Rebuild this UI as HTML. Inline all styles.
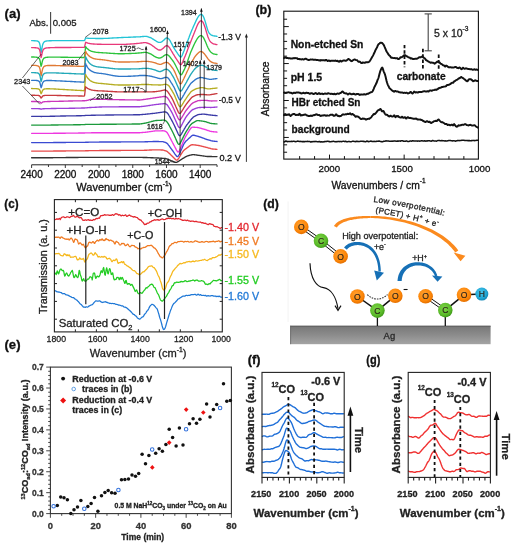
<!DOCTYPE html>
<html><head><meta charset="utf-8"><title>Figure</title>
<style>html,body{margin:0;padding:0;background:#fff;}svg{display:block;filter:blur(0.3px);}</style>
</head><body>
<svg width="516" height="550" viewBox="0 0 516 550" font-family="'Liberation Sans', Arial, sans-serif">
<defs><radialGradient id="gO" cx="0.42" cy="0.38" r="0.62"><stop offset="0" stop-color="#ffa236"/><stop offset="0.7" stop-color="#fd8708"/><stop offset="1" stop-color="#e46f00"/></radialGradient><radialGradient id="gC" cx="0.42" cy="0.38" r="0.62"><stop offset="0" stop-color="#7ed448"/><stop offset="0.7" stop-color="#5cbc2a"/><stop offset="1" stop-color="#3f9a18"/></radialGradient><radialGradient id="gH" cx="0.42" cy="0.38" r="0.62"><stop offset="0" stop-color="#4cc8ee"/><stop offset="0.7" stop-color="#22a8d6"/><stop offset="1" stop-color="#1186b6"/></radialGradient><linearGradient id="gAg" x1="0" y1="0" x2="0" y2="1"><stop offset="0" stop-color="#767676"/><stop offset="0.5" stop-color="#8c8c8c"/><stop offset="1" stop-color="#a4a4a4"/></linearGradient><path id="tp1" d="M373.2,201.9 Q412.5,207.4 446.5,216.6"/><path id="tp2" d="M375.2,212.6 Q410,217.8 442,228.5"/></defs>
<rect x="0" y="0" width="516" height="550" fill="#fff"/>
<polyline points="31.6,40.6 32.1,40.6 32.6,40.6 33.1,40.6 33.6,40.7 34.1,40.7 34.6,40.7 35.1,40.7 35.6,40.8 36.1,40.8 36.6,40.9 37.1,41.0 37.6,41.2 38.1,41.4 38.6,41.7 39.1,42.3 39.6,43.4 40.1,45.5 40.6,49.4 41.1,52.5 41.6,50.6 42.1,47.3 42.6,44.9 43.1,43.5 43.6,42.6 44.1,42.0 44.6,41.7 45.1,41.4 45.6,41.2 46.1,41.1 46.6,41.0 47.1,40.9 47.6,40.9 48.1,40.8 48.6,40.8 49.1,40.7 49.6,40.7 50.1,40.7 50.6,40.7 51.1,40.7 51.6,40.7 52.1,40.6 52.6,40.6 53.1,40.6 53.6,40.6 54.1,40.6 54.6,40.6 55.1,40.6 55.6,40.6 56.1,40.6 56.6,40.6 57.1,40.6 57.6,40.6 58.1,40.6 58.6,40.6 59.1,40.6 59.6,40.6 60.1,40.6 60.6,40.6 61.1,40.6 61.6,40.6 62.1,40.6 62.6,40.6 63.1,40.6 63.6,40.6 64.1,40.6 64.6,40.6 65.1,40.6 65.6,40.6 66.1,40.6 66.6,40.6 67.1,40.6 67.6,40.6 68.1,40.6 68.6,40.6 69.1,40.6 69.6,40.6 70.1,40.6 70.6,40.6 71.1,40.6 71.6,40.6 72.1,40.6 72.6,40.6 73.1,40.6 73.6,40.6 74.1,40.6 74.6,40.6 75.1,40.6 75.6,40.6 76.1,40.6 76.6,40.6 77.1,40.6 77.6,40.6 78.1,40.6 78.6,40.6 79.1,40.6 79.6,40.6 80.1,40.6 80.6,40.6 81.1,40.6 81.6,40.6 82.1,40.6 82.6,40.6 83.1,40.6 83.6,40.6 84.1,40.6 84.6,40.4 85.1,39.2 85.6,38.0 86.1,38.1 86.6,38.1 87.1,38.1 87.6,38.2 88.1,38.2 88.6,38.3 89.1,38.3 89.6,38.3 90.1,38.3 90.6,38.3 91.1,38.4 91.6,38.4 92.1,38.4 92.6,38.4 93.1,38.4 93.6,38.4 94.1,38.4 94.6,38.4 95.1,38.4 95.6,38.5 96.1,38.5 96.6,38.5 97.1,38.5 97.6,38.5 98.1,38.5 98.6,38.5 99.1,38.5 99.6,38.5 100.1,38.5 100.6,38.5 101.1,38.5 101.6,38.5 102.1,38.5 102.6,38.5 103.1,38.5 103.6,38.4 104.1,38.4 104.6,38.4 105.1,38.4 105.6,38.4 106.1,38.4 106.6,38.3 107.1,38.3 107.6,38.3 108.1,38.3 108.6,38.2 109.1,38.2 109.6,38.2 110.1,38.1 110.6,38.1 111.1,38.1 111.6,38.1 112.1,38.0 112.6,38.0 113.1,38.0 113.6,37.9 114.1,37.9 114.6,37.9 115.1,37.9 115.6,37.8 116.1,37.8 116.6,37.8 117.1,37.7 117.6,37.7 118.1,37.7 118.6,37.7 119.1,37.6 119.6,37.6 120.1,37.6 120.6,37.6 121.1,37.6 121.6,37.5 122.1,37.5 122.6,37.5 123.1,37.5 123.6,37.4 124.1,37.4 124.6,37.4 125.1,37.4 125.6,37.4 126.1,37.3 126.6,37.3 127.1,37.3 127.6,37.3 128.1,37.3 128.6,37.2 129.1,37.2 129.6,37.2 130.1,37.2 130.6,37.2 131.1,37.1 131.6,37.1 132.1,37.1 132.6,37.1 133.1,37.1 133.6,37.0 134.1,37.0 134.6,37.0 135.1,37.0 135.6,37.0 136.1,36.9 136.6,36.9 137.1,36.9 137.6,36.9 138.1,36.9 138.6,36.9 139.1,36.8 139.6,36.8 140.0,36.8 140.5,36.7 141.0,36.7 141.5,36.6 142.0,36.6 142.5,36.5 143.0,36.5 143.5,36.5 144.0,36.4 144.5,36.4 145.0,36.3 145.5,36.3 146.0,36.4 146.5,36.4 147.0,36.5 147.5,36.7 148.0,36.8 148.5,37.0 149.0,37.2 149.5,37.3 150.0,37.5 150.5,37.7 151.0,37.9 151.5,38.2 152.0,38.5 152.5,38.8 153.0,39.1 153.5,39.4 154.0,39.7 154.5,40.1 155.0,40.4 155.5,40.7 156.0,41.0 156.5,41.3 157.0,41.6 157.5,41.9 158.0,42.1 158.5,42.3 159.0,42.4 159.5,42.4 160.0,42.4 160.5,42.3 161.0,42.2 161.5,41.9 162.0,41.6 162.5,41.2 163.0,40.8 163.5,40.4 164.0,39.9 164.5,39.4 165.0,38.9 165.5,38.5 166.0,38.2 166.5,38.0 167.0,38.0 167.5,38.1 168.0,38.3 168.5,38.7 169.0,39.2 169.5,39.9 170.0,40.6 170.5,41.5 171.0,42.5 171.5,43.4 172.0,44.4 172.5,45.4 173.0,46.3 173.5,47.2 174.0,48.1 174.5,48.9 175.0,49.7 175.5,50.5 176.0,51.2 176.5,51.9 177.0,52.6 177.5,53.3 178.0,54.1 178.5,54.8 179.0,55.5 179.5,56.2 180.0,56.7 180.5,57.0 181.0,57.0 181.5,56.5 182.0,55.6 182.5,54.5 183.0,53.2 183.5,51.9 184.0,50.7 184.5,49.4 185.0,48.1 185.5,46.8 186.0,45.5 186.5,44.1 187.0,42.8 187.5,41.4 188.0,40.1 188.5,38.7 189.0,37.4 189.5,36.0 190.0,34.7 190.5,33.4 191.0,32.2 191.5,31.0 192.0,29.8 192.5,28.7 193.0,27.5 193.5,26.4 194.0,25.3 194.5,24.2 195.0,23.1 195.5,22.0 196.0,20.9 196.5,19.9 197.0,18.9 197.5,18.0 198.0,17.1 198.5,16.4 199.0,15.7 199.5,15.2 200.0,14.8 200.5,14.5 201.0,14.4 201.5,14.4 202.0,14.7 202.5,15.2 203.0,15.9 203.5,16.8 204.0,18.0 204.5,19.4 205.0,20.9 205.5,22.5 206.0,24.2 206.5,26.0 207.0,27.7 207.5,29.3 208.0,30.7 208.5,31.8 209.0,32.8 209.5,33.5 210.0,34.0 210.5,34.5 211.0,34.8 211.5,35.1 212.0,35.3 212.5,35.5 213.0,35.7 213.5,35.8 214.0,35.9 214.5,36.0 215.0,36.0 215.5,36.1 216.0,36.2 216.5,36.2 217.0,36.3" fill="none" stroke="#22c4d6" stroke-width="1.35" stroke-linejoin="round" stroke-linecap="round"/>
<polyline points="31.6,47.6 32.1,47.6 32.6,47.6 33.1,47.6 33.6,47.6 34.1,47.6 34.6,47.7 35.1,47.7 35.6,47.7 36.1,47.8 36.6,47.8 37.1,47.9 37.6,48.1 38.1,48.2 38.6,48.5 39.1,49.0 39.6,49.9 40.1,51.7 40.6,54.9 41.1,57.5 41.6,55.9 42.1,53.2 42.6,51.2 43.1,50.0 43.6,49.2 44.1,48.8 44.6,48.5 45.1,48.3 45.6,48.1 46.1,48.0 46.6,47.9 47.1,47.9 47.6,47.8 48.1,47.8 48.6,47.7 49.1,47.7 49.6,47.7 50.1,47.7 50.6,47.6 51.1,47.6 51.6,47.6 52.1,47.6 52.6,47.6 53.1,47.6 53.6,47.6 54.1,47.6 54.6,47.6 55.1,47.5 55.6,47.5 56.1,47.5 56.6,47.5 57.1,47.5 57.6,47.5 58.1,47.5 58.6,47.5 59.1,47.5 59.6,47.5 60.1,47.5 60.6,47.5 61.1,47.5 61.6,47.5 62.1,47.5 62.6,47.5 63.1,47.5 63.6,47.5 64.1,47.5 64.6,47.5 65.1,47.5 65.6,47.5 66.1,47.5 66.6,47.5 67.1,47.5 67.6,47.5 68.1,47.5 68.6,47.5 69.1,47.5 69.6,47.5 70.1,47.5 70.6,47.5 71.1,47.5 71.6,47.4 72.1,47.4 72.6,47.4 73.1,47.4 73.6,47.4 74.1,47.4 74.6,47.4 75.1,47.4 75.6,47.4 76.1,47.4 76.6,47.4 77.1,47.4 77.6,47.4 78.1,47.4 78.6,47.4 79.1,47.4 79.6,47.4 80.1,47.4 80.6,47.4 81.1,47.4 81.6,47.4 82.1,47.4 82.6,47.4 83.1,47.4 83.6,47.4 84.1,47.4 84.6,46.9 85.1,44.6 85.6,42.3 86.1,42.5 86.6,42.7 87.1,42.9 87.6,43.0 88.1,43.2 88.6,43.3 89.1,43.4 89.6,43.5 90.1,43.6 90.6,43.7 91.1,43.7 91.6,43.8 92.1,43.9 92.6,43.9 93.1,44.0 93.6,44.0 94.1,44.0 94.6,44.1 95.1,44.1 95.6,44.1 96.1,44.1 96.6,44.1 97.1,44.2 97.6,44.2 98.1,44.2 98.6,44.2 99.1,44.2 99.6,44.2 100.1,44.2 100.6,44.2 101.1,44.2 101.6,44.3 102.1,44.3 102.6,44.3 103.1,44.3 103.6,44.3 104.1,44.3 104.6,44.3 105.1,44.3 105.6,44.3 106.1,44.3 106.6,44.3 107.1,44.3 107.6,44.3 108.1,44.3 108.6,44.3 109.1,44.3 109.6,44.3 110.1,44.3 110.6,44.3 111.1,44.4 111.6,44.4 112.1,44.4 112.6,44.4 113.1,44.4 113.6,44.4 114.1,44.4 114.6,44.4 115.1,44.4 115.6,44.4 116.1,44.4 116.6,44.4 117.1,44.4 117.6,44.4 118.1,44.4 118.6,44.4 119.1,44.4 119.6,44.4 120.1,44.4 120.6,44.4 121.1,44.4 121.6,44.4 122.1,44.4 122.6,44.4 123.1,44.4 123.6,44.3 124.1,44.3 124.6,44.3 125.1,44.3 125.6,44.3 126.1,44.3 126.6,44.2 127.1,44.2 127.6,44.2 128.1,44.1 128.6,44.1 129.1,44.1 129.6,44.1 130.1,44.0 130.6,44.0 131.1,44.0 131.6,43.9 132.1,43.9 132.6,43.8 133.1,43.8 133.6,43.8 134.1,43.7 134.6,43.7 135.1,43.6 135.6,43.6 136.1,43.6 136.6,43.5 137.1,43.5 137.6,43.4 138.1,43.4 138.6,43.3 139.1,43.3 139.6,43.2 140.0,43.1 140.5,43.1 141.0,43.0 141.5,43.0 142.0,42.9 142.5,42.8 143.0,42.8 143.5,42.7 144.0,42.6 144.5,42.6 145.0,42.6 145.5,42.6 146.0,42.7 146.5,42.8 147.0,43.0 147.5,43.2 148.0,43.4 148.5,43.5 149.0,43.7 149.5,43.9 150.0,44.1 150.5,44.4 151.0,44.6 151.5,45.0 152.0,45.3 152.5,45.7 153.0,46.1 153.5,46.4 154.0,46.8 154.5,47.2 155.0,47.6 155.5,48.0 156.0,48.3 156.5,48.7 157.0,49.0 157.5,49.3 158.0,49.6 158.5,49.8 159.0,50.0 159.5,50.0 160.0,50.0 160.5,50.0 161.0,49.8 161.5,49.5 162.0,49.2 162.5,48.8 163.0,48.4 163.5,47.9 164.0,47.4 164.5,46.9 165.0,46.5 165.5,46.1 166.0,45.8 166.5,45.7 167.0,45.7 167.5,45.8 168.0,46.1 168.5,46.5 169.0,47.1 169.5,47.7 170.0,48.5 170.5,49.3 171.0,50.1 171.5,51.0 172.0,51.8 172.5,52.7 173.0,53.6 173.5,54.4 174.0,55.2 174.5,56.0 175.0,56.8 175.5,57.6 176.0,58.4 176.5,59.1 177.0,59.9 177.5,60.6 178.0,61.4 178.5,62.2 179.0,62.9 179.5,63.6 180.0,64.2 180.5,64.6 181.0,64.6 181.5,64.2 182.0,63.4 182.5,62.3 183.0,61.2 183.5,60.0 184.0,58.8 184.5,57.6 185.0,56.4 185.5,55.2 186.0,53.9 186.5,52.7 187.0,51.4 187.5,50.1 188.0,48.8 188.5,47.5 189.0,46.2 189.5,44.9 190.0,43.6 190.5,42.3 191.0,41.0 191.5,39.8 192.0,38.5 192.5,37.3 193.0,36.0 193.5,34.8 194.0,33.5 194.5,32.3 195.0,31.0 195.5,29.8 196.0,28.5 196.5,27.3 197.0,26.1 197.5,24.9 198.0,23.9 198.5,23.0 199.0,22.3 199.5,21.7 200.0,21.2 200.5,20.9 201.0,20.8 201.5,20.9 202.0,21.2 202.5,21.7 203.0,22.4 203.5,23.4 204.0,24.6 204.5,25.9 205.0,27.3 205.5,28.9 206.0,30.5 206.5,32.2 207.0,33.9 207.5,35.5 208.0,37.0 208.5,38.2 209.0,39.3 209.5,40.3 210.0,41.1 210.5,41.7 211.0,42.2 211.5,42.6 212.0,43.0 212.5,43.3 213.0,43.6 213.5,43.8 214.0,44.0 214.5,44.1 215.0,44.2 215.5,44.4 216.0,44.5 216.5,44.6 217.0,44.6" fill="none" stroke="#e8397a" stroke-width="1.35" stroke-linejoin="round" stroke-linecap="round"/>
<polyline points="31.6,57.0 32.1,57.0 32.6,57.0 33.1,57.0 33.6,57.0 34.1,57.0 34.6,57.1 35.1,57.1 35.6,57.1 36.1,57.2 36.6,57.2 37.1,57.3 37.6,57.4 38.1,57.6 38.6,57.9 39.1,58.4 39.6,59.2 40.1,60.9 40.6,64.0 41.1,66.4 41.6,64.9 42.1,62.3 42.6,60.4 43.1,59.3 43.6,58.6 44.1,58.1 44.6,57.8 45.1,57.6 45.6,57.5 46.1,57.4 46.6,57.3 47.1,57.2 47.6,57.2 48.1,57.2 48.6,57.1 49.1,57.1 49.6,57.1 50.1,57.1 50.6,57.1 51.1,57.1 51.6,57.1 52.1,57.1 52.6,57.1 53.1,57.1 53.6,57.1 54.1,57.1 54.6,57.1 55.1,57.1 55.6,57.1 56.1,57.1 56.6,57.1 57.1,57.1 57.6,57.1 58.1,57.1 58.6,57.1 59.1,57.1 59.6,57.1 60.1,57.1 60.6,57.2 61.1,57.2 61.6,57.2 62.1,57.2 62.6,57.2 63.1,57.2 63.6,57.2 64.1,57.2 64.6,57.2 65.1,57.2 65.6,57.2 66.1,57.2 66.6,57.2 67.1,57.2 67.6,57.2 68.1,57.3 68.6,57.3 69.1,57.3 69.6,57.3 70.1,57.3 70.6,57.3 71.1,57.3 71.6,57.3 72.1,57.3 72.6,57.3 73.1,57.3 73.6,57.3 74.1,57.3 74.6,57.4 75.1,57.4 75.6,57.4 76.1,57.4 76.6,57.4 77.1,57.4 77.6,57.4 78.1,57.4 78.6,57.4 79.1,57.4 79.6,57.4 80.1,57.4 80.6,57.4 81.1,57.5 81.6,57.5 82.1,57.5 82.6,57.5 83.1,57.5 83.6,57.5 84.1,57.5 84.6,56.5 85.1,51.6 85.6,46.6 86.1,47.3 86.6,47.9 87.1,48.4 87.6,48.9 88.1,49.3 88.6,49.7 89.1,50.1 89.6,50.4 90.1,50.6 90.6,50.9 91.1,51.1 91.6,51.3 92.1,51.4 92.6,51.6 93.1,51.7 93.6,51.8 94.1,51.9 94.6,52.0 95.1,52.1 95.6,52.2 96.1,52.3 96.6,52.3 97.1,52.4 97.6,52.4 98.1,52.5 98.6,52.5 99.1,52.5 99.6,52.6 100.1,52.6 100.6,52.6 101.1,52.6 101.6,52.7 102.1,52.7 102.6,52.7 103.1,52.8 103.6,52.8 104.1,52.8 104.6,52.8 105.1,52.9 105.6,52.9 106.1,52.9 106.6,53.0 107.1,53.0 107.6,53.1 108.1,53.1 108.6,53.1 109.1,53.2 109.6,53.2 110.1,53.2 110.6,53.3 111.1,53.3 111.6,53.3 112.1,53.4 112.6,53.4 113.1,53.4 113.6,53.5 114.1,53.5 114.6,53.5 115.1,53.6 115.6,53.6 116.1,53.6 116.6,53.6 117.1,53.6 117.6,53.7 118.1,53.7 118.6,53.7 119.1,53.7 119.6,53.7 120.1,53.7 120.6,53.7 121.1,53.7 121.6,53.7 122.1,53.7 122.6,53.7 123.1,53.7 123.6,53.7 124.1,53.7 124.6,53.7 125.1,53.6 125.6,53.6 126.1,53.6 126.6,53.6 127.1,53.6 127.6,53.6 128.1,53.6 128.6,53.6 129.1,53.5 129.6,53.5 130.1,53.5 130.6,53.5 131.1,53.5 131.6,53.4 132.1,53.4 132.6,53.4 133.1,53.4 133.6,53.3 134.1,53.3 134.6,53.3 135.1,53.3 135.6,53.2 136.1,53.2 136.6,53.2 137.1,53.1 137.6,53.1 138.1,53.0 138.6,53.0 139.1,53.0 139.6,52.9 140.0,52.9 140.5,52.8 141.0,52.8 141.5,52.7 142.0,52.7 142.5,52.6 143.0,52.6 143.5,52.5 144.0,52.4 144.5,52.4 145.0,52.3 145.5,52.3 146.0,52.4 146.5,52.5 147.0,52.6 147.5,52.7 148.0,52.9 148.5,53.1 149.0,53.3 149.5,53.5 150.0,53.7 150.5,53.9 151.0,54.1 151.5,54.4 152.0,54.7 152.5,55.1 153.0,55.4 153.5,55.7 154.0,56.1 154.5,56.4 155.0,56.7 155.5,57.0 156.0,57.2 156.5,57.4 157.0,57.6 157.5,57.7 158.0,57.9 158.5,58.0 159.0,58.0 159.5,58.1 160.0,58.0 160.5,57.9 161.0,57.7 161.5,57.5 162.0,57.2 162.5,56.8 163.0,56.5 163.5,56.1 164.0,55.7 164.5,55.4 165.0,55.1 165.5,54.9 166.0,54.7 166.5,54.6 167.0,54.7 167.5,54.8 168.0,55.1 168.5,55.5 169.0,55.9 169.5,56.5 170.0,57.0 170.5,57.7 171.0,58.3 171.5,59.0 172.0,59.6 172.5,60.3 173.0,61.0 173.5,61.7 174.0,62.5 174.5,63.4 175.0,64.3 175.5,65.3 176.0,66.3 176.5,67.3 177.0,68.3 177.5,69.3 178.0,70.3 178.5,71.3 179.0,72.3 179.5,73.2 180.0,74.1 180.5,74.6 181.0,74.8 181.5,74.6 182.0,74.0 182.5,73.1 183.0,72.2 183.5,71.1 184.0,70.1 184.5,69.1 185.0,68.0 185.5,66.9 186.0,65.7 186.5,64.4 187.0,63.0 187.5,61.5 188.0,60.0 188.5,58.6 189.0,57.1 189.5,55.6 190.0,54.2 190.5,52.8 191.0,51.6 191.5,50.4 192.0,49.2 192.5,48.1 193.0,47.0 193.5,45.9 194.0,44.8 194.5,43.7 195.0,42.7 195.5,41.8 196.0,40.9 196.5,40.0 197.0,39.2 197.5,38.4 198.0,37.7 198.5,37.1 199.0,36.6 199.5,36.2 200.0,35.8 200.5,35.6 201.0,35.6 201.5,35.7 202.0,35.9 202.5,36.4 203.0,36.9 203.5,37.7 204.0,38.6 204.5,39.6 205.0,40.7 205.5,41.8 206.0,43.0 206.5,44.2 207.0,45.5 207.5,46.6 208.0,47.7 208.5,48.7 209.0,49.6 209.5,50.5 210.0,51.1 210.5,51.7 211.0,52.2 211.5,52.6 212.0,53.0 212.5,53.3 213.0,53.6 213.5,53.8 214.0,54.0 214.5,54.1 215.0,54.2 215.5,54.3 216.0,54.4 216.5,54.5 217.0,54.5" fill="none" stroke="#2cc43c" stroke-width="1.35" stroke-linejoin="round" stroke-linecap="round"/>
<polyline points="31.6,65.3 32.1,65.3 32.6,65.3 33.1,65.3 33.6,65.3 34.1,65.4 34.6,65.4 35.1,65.4 35.6,65.4 36.1,65.5 36.6,65.6 37.1,65.7 37.6,65.8 38.1,66.0 38.6,66.3 39.1,66.8 39.6,67.8 40.1,69.6 40.6,73.0 41.1,75.7 41.6,74.0 42.1,71.2 42.6,69.1 43.1,67.8 43.6,67.0 44.1,66.5 44.6,66.2 45.1,66.0 45.6,65.8 46.1,65.7 46.6,65.6 47.1,65.6 47.6,65.5 48.1,65.5 48.6,65.5 49.1,65.5 49.6,65.5 50.1,65.5 50.6,65.5 51.1,65.5 51.6,65.5 52.1,65.5 52.6,65.5 53.1,65.5 53.6,65.5 54.1,65.5 54.6,65.5 55.1,65.5 55.6,65.5 56.1,65.6 56.6,65.6 57.1,65.6 57.6,65.6 58.1,65.6 58.6,65.6 59.1,65.6 59.6,65.6 60.1,65.7 60.6,65.7 61.1,65.7 61.6,65.7 62.1,65.7 62.6,65.7 63.1,65.7 63.6,65.8 64.1,65.8 64.6,65.8 65.1,65.8 65.6,65.8 66.1,65.8 66.6,65.8 67.1,65.9 67.6,65.9 68.1,65.9 68.6,65.9 69.1,65.9 69.6,65.9 70.1,66.0 70.6,66.0 71.1,66.0 71.6,66.0 72.1,66.0 72.6,66.0 73.1,66.0 73.6,66.1 74.1,66.1 74.6,66.1 75.1,66.1 75.6,66.1 76.1,66.1 76.6,66.2 77.1,66.2 77.6,66.2 78.1,66.2 78.6,66.2 79.1,66.2 79.6,66.3 80.1,66.3 80.6,66.3 81.1,66.3 81.6,66.3 82.1,66.3 82.6,66.3 83.1,66.4 83.6,66.4 84.1,66.4 84.6,65.0 85.1,58.2 85.6,51.3 86.1,52.2 86.6,53.1 87.1,53.8 87.6,54.5 88.1,55.0 88.6,55.6 89.1,56.0 89.6,56.4 90.1,56.8 90.6,57.1 91.1,57.4 91.6,57.7 92.1,57.9 92.6,58.1 93.1,58.3 93.6,58.5 94.1,58.6 94.6,58.8 95.1,58.9 95.6,59.0 96.1,59.1 96.6,59.1 97.1,59.2 97.6,59.3 98.1,59.3 98.6,59.4 99.1,59.4 99.6,59.5 100.1,59.5 100.6,59.5 101.1,59.6 101.6,59.6 102.1,59.7 102.6,59.7 103.1,59.8 103.6,59.9 104.1,59.9 104.6,60.0 105.1,60.1 105.6,60.1 106.1,60.2 106.6,60.3 107.1,60.4 107.6,60.5 108.1,60.5 108.6,60.6 109.1,60.7 109.6,60.8 110.1,60.9 110.6,61.0 111.1,61.1 111.6,61.1 112.1,61.2 112.6,61.3 113.1,61.4 113.6,61.5 114.1,61.5 114.6,61.6 115.1,61.7 115.6,61.7 116.1,61.8 116.6,61.8 117.1,61.9 117.6,61.9 118.1,61.9 118.6,62.0 119.1,62.0 119.6,62.0 120.1,62.0 120.6,62.0 121.1,62.0 121.6,62.0 122.1,62.0 122.6,62.0 123.1,62.0 123.6,62.0 124.1,62.0 124.6,62.0 125.1,62.0 125.6,62.0 126.1,62.0 126.6,62.0 127.1,62.0 127.6,62.0 128.1,62.0 128.6,62.0 129.1,62.0 129.6,62.0 130.1,61.9 130.6,61.9 131.1,61.9 131.6,61.9 132.1,61.9 132.6,61.9 133.1,61.9 133.6,61.9 134.1,61.9 134.6,61.8 135.1,61.8 135.6,61.8 136.1,61.8 136.6,61.8 137.1,61.7 137.6,61.7 138.1,61.7 138.6,61.7 139.1,61.7 139.6,61.6 140.0,61.6 140.5,61.6 141.0,61.5 141.5,61.5 142.0,61.5 142.5,61.4 143.0,61.4 143.5,61.4 144.0,61.3 144.5,61.3 145.0,61.3 145.5,61.3 146.0,61.3 146.5,61.3 147.0,61.3 147.5,61.4 148.0,61.4 148.5,61.5 149.0,61.6 149.5,61.6 150.0,61.7 150.5,61.8 151.0,61.8 151.5,61.9 152.0,62.1 152.5,62.2 153.0,62.3 153.5,62.4 154.0,62.6 154.5,62.7 155.0,62.9 155.5,63.0 156.0,63.2 156.5,63.4 157.0,63.6 157.5,63.8 158.0,63.9 158.5,64.1 159.0,64.2 159.5,64.3 160.0,64.4 160.5,64.4 161.0,64.3 161.5,64.1 162.0,63.9 162.5,63.7 163.0,63.5 163.5,63.2 164.0,63.0 164.5,62.8 165.0,62.6 165.5,62.4 166.0,62.3 166.5,62.3 167.0,62.4 167.5,62.6 168.0,62.9 168.5,63.2 169.0,63.7 169.5,64.2 170.0,64.7 170.5,65.4 171.0,66.0 171.5,66.7 172.0,67.3 172.5,68.0 173.0,68.7 173.5,69.5 174.0,70.4 174.5,71.4 175.0,72.4 175.5,73.6 176.0,74.8 176.5,76.0 177.0,77.2 177.5,78.3 178.0,79.5 178.5,80.7 179.0,81.8 179.5,82.8 180.0,83.6 180.5,83.9 181.0,83.7 181.5,83.1 182.0,82.3 182.5,81.3 183.0,80.3 183.5,79.2 184.0,78.2 184.5,77.1 185.0,76.1 185.5,75.0 186.0,74.0 186.5,72.9 187.0,71.8 187.5,70.7 188.0,69.7 188.5,68.6 189.0,67.5 189.5,66.4 190.0,65.4 190.5,64.4 191.0,63.4 191.5,62.5 192.0,61.6 192.5,60.8 193.0,59.9 193.5,59.1 194.0,58.2 194.5,57.4 195.0,56.7 195.5,56.0 196.0,55.4 196.5,54.8 197.0,54.2 197.5,53.7 198.0,53.2 198.5,52.7 199.0,52.3 199.5,52.0 200.0,51.7 200.5,51.6 201.0,51.5 201.5,51.6 202.0,51.8 202.5,52.0 203.0,52.4 203.5,52.9 204.0,53.4 204.5,54.0 205.0,54.6 205.5,55.3 206.0,56.0 206.5,56.7 207.0,57.5 207.5,58.2 208.0,58.9 208.5,59.5 209.0,60.1 209.5,60.6 210.0,61.1 210.5,61.4 211.0,61.8 211.5,62.0 212.0,62.3 212.5,62.5 213.0,62.7 213.5,62.8 214.0,63.0 214.5,63.1 215.0,63.1 215.5,63.2 216.0,63.3 216.5,63.4 217.0,63.4" fill="none" stroke="#e07a34" stroke-width="1.35" stroke-linejoin="round" stroke-linecap="round"/>
<polyline points="31.6,72.6 32.1,72.6 32.6,72.6 33.1,72.6 33.6,72.6 34.1,72.6 34.6,72.7 35.1,72.7 35.6,72.7 36.1,72.8 36.6,72.8 37.1,72.9 37.6,73.0 38.1,73.2 38.6,73.4 39.1,73.9 39.6,74.7 40.1,76.3 40.6,79.2 41.1,81.5 41.6,80.1 42.1,77.6 42.6,75.8 43.1,74.7 43.6,74.1 44.1,73.7 44.6,73.4 45.1,73.2 45.6,73.1 46.1,73.0 46.6,72.9 47.1,72.8 47.6,72.8 48.1,72.8 48.6,72.8 49.1,72.8 49.6,72.8 50.1,72.8 50.6,72.8 51.1,72.8 51.6,72.8 52.1,72.8 52.6,72.8 53.1,72.8 53.6,72.9 54.1,72.9 54.6,72.9 55.1,72.9 55.6,72.9 56.1,72.9 56.6,73.0 57.1,73.0 57.6,73.0 58.1,73.0 58.6,73.0 59.1,73.1 59.6,73.1 60.1,73.1 60.6,73.1 61.1,73.1 61.6,73.2 62.1,73.2 62.6,73.2 63.1,73.2 63.6,73.2 64.1,73.3 64.6,73.3 65.1,73.3 65.6,73.3 66.1,73.3 66.6,73.4 67.1,73.4 67.6,73.4 68.1,73.4 68.6,73.4 69.1,73.5 69.6,73.5 70.1,73.5 70.6,73.5 71.1,73.5 71.6,73.6 72.1,73.6 72.6,73.6 73.1,73.6 73.6,73.6 74.1,73.7 74.6,73.7 75.1,73.7 75.6,73.7 76.1,73.8 76.6,73.8 77.1,73.8 77.6,73.8 78.1,73.8 78.6,73.9 79.1,73.9 79.6,73.9 80.1,73.9 80.6,73.9 81.1,74.0 81.6,74.0 82.1,74.0 82.6,74.0 83.1,74.0 83.6,74.1 84.1,74.1 84.6,72.5 85.1,64.6 85.6,56.7 86.1,57.9 86.6,58.9 87.1,59.9 87.6,60.7 88.1,61.5 88.6,62.1 89.1,62.7 89.6,63.2 90.1,63.7 90.6,64.1 91.1,64.5 91.6,64.8 92.1,65.1 92.6,65.4 93.1,65.6 93.6,65.8 94.1,66.0 94.6,66.2 95.1,66.3 95.6,66.4 96.1,66.6 96.6,66.7 97.1,66.8 97.6,66.8 98.1,66.9 98.6,67.0 99.1,67.0 99.6,67.1 100.1,67.1 100.6,67.2 101.1,67.2 101.6,67.3 102.1,67.3 102.6,67.4 103.1,67.4 103.6,67.5 104.1,67.5 104.6,67.6 105.1,67.6 105.6,67.7 106.1,67.7 106.6,67.8 107.1,67.9 107.6,67.9 108.1,68.0 108.6,68.0 109.1,68.1 109.6,68.2 110.1,68.2 110.6,68.3 111.1,68.3 111.6,68.4 112.1,68.5 112.6,68.5 113.1,68.6 113.6,68.6 114.1,68.7 114.6,68.7 115.1,68.8 115.6,68.8 116.1,68.8 116.6,68.9 117.1,68.9 117.6,68.9 118.1,69.0 118.6,69.0 119.1,69.0 119.6,69.0 120.1,69.0 120.6,69.0 121.1,69.0 121.6,69.0 122.1,69.0 122.6,69.0 123.1,69.0 123.6,69.0 124.1,69.0 124.6,69.0 125.1,69.0 125.6,69.0 126.1,69.0 126.6,69.0 127.1,69.0 127.6,69.0 128.1,69.0 128.6,69.0 129.1,69.0 129.6,69.0 130.1,69.0 130.6,69.0 131.1,68.9 131.6,68.9 132.1,68.9 132.6,68.9 133.1,68.9 133.6,68.9 134.1,68.9 134.6,68.9 135.1,68.9 135.6,68.9 136.1,68.8 136.6,68.8 137.1,68.8 137.6,68.8 138.1,68.8 138.6,68.8 139.1,68.7 139.6,68.7 140.0,68.7 140.5,68.6 141.0,68.6 141.5,68.6 142.0,68.5 142.5,68.5 143.0,68.5 143.5,68.4 144.0,68.4 144.5,68.3 145.0,68.3 145.5,68.3 146.0,68.3 146.5,68.3 147.0,68.3 147.5,68.4 148.0,68.4 148.5,68.5 149.0,68.6 149.5,68.6 150.0,68.7 150.5,68.8 151.0,68.9 151.5,69.0 152.0,69.1 152.5,69.3 153.0,69.4 153.5,69.6 154.0,69.7 154.5,69.9 155.0,70.0 155.5,70.2 156.0,70.4 156.5,70.6 157.0,70.9 157.5,71.0 158.0,71.2 158.5,71.4 159.0,71.5 159.5,71.6 160.0,71.6 160.5,71.5 161.0,71.4 161.5,71.2 162.0,71.0 162.5,70.7 163.0,70.5 163.5,70.2 164.0,69.9 164.5,69.6 165.0,69.4 165.5,69.3 166.0,69.2 166.5,69.2 167.0,69.3 167.5,69.5 168.0,69.8 168.5,70.2 169.0,70.6 169.5,71.2 170.0,71.8 170.5,72.4 171.0,73.2 171.5,74.0 172.0,74.8 172.5,75.6 173.0,76.4 173.5,77.3 174.0,78.2 174.5,79.2 175.0,80.3 175.5,81.4 176.0,82.5 176.5,83.6 177.0,84.7 177.5,85.9 178.0,87.0 178.5,88.1 179.0,89.2 179.5,90.1 180.0,90.8 180.5,91.2 181.0,91.1 181.5,90.6 182.0,89.9 182.5,89.1 183.0,88.2 183.5,87.4 184.0,86.5 184.5,85.6 185.0,84.7 185.5,83.9 186.0,83.0 186.5,82.1 187.0,81.1 187.5,80.2 188.0,79.3 188.5,78.4 189.0,77.5 189.5,76.6 190.0,75.7 190.5,74.8 191.0,74.0 191.5,73.3 192.0,72.6 192.5,71.9 193.0,71.2 193.5,70.6 194.0,69.9 194.5,69.3 195.0,68.7 195.5,68.2 196.0,67.8 196.5,67.4 197.0,67.0 197.5,66.6 198.0,66.3 198.5,66.0 199.0,65.7 199.5,65.5 200.0,65.4 200.5,65.2 201.0,65.2 201.5,65.2 202.0,65.3 202.5,65.4 203.0,65.5 203.5,65.7 204.0,66.0 204.5,66.3 205.0,66.5 205.5,66.9 206.0,67.2 206.5,67.5 207.0,67.8 207.5,68.2 208.0,68.5 208.5,68.7 209.0,68.9 209.5,69.1 210.0,69.3 210.5,69.4 211.0,69.6 211.5,69.7 212.0,69.9 212.5,70.0 213.0,70.1 213.5,70.1 214.0,70.2 214.5,70.2 215.0,70.3 215.5,70.3 216.0,70.4 216.5,70.4 217.0,70.5" fill="none" stroke="#22a9b8" stroke-width="1.35" stroke-linejoin="round" stroke-linecap="round"/>
<polyline points="31.6,80.3 32.1,80.3 32.6,80.3 33.1,80.3 33.6,80.3 34.1,80.3 34.6,80.3 35.1,80.3 35.6,80.4 36.1,80.4 36.6,80.5 37.1,80.5 37.6,80.6 38.1,80.8 38.6,81.0 39.1,81.3 39.6,82.0 40.1,83.3 40.6,85.8 41.1,87.7 41.6,86.5 42.1,84.5 42.6,83.0 43.1,82.1 43.6,81.5 44.1,81.2 44.6,80.9 45.1,80.8 45.6,80.7 46.1,80.6 46.6,80.5 47.1,80.5 47.6,80.5 48.1,80.5 48.6,80.5 49.1,80.5 49.6,80.5 50.1,80.5 50.6,80.5 51.1,80.5 51.6,80.5 52.1,80.6 52.6,80.6 53.1,80.6 53.6,80.6 54.1,80.6 54.6,80.7 55.1,80.7 55.6,80.7 56.1,80.7 56.6,80.8 57.1,80.8 57.6,80.8 58.1,80.8 58.6,80.9 59.1,80.9 59.6,80.9 60.1,80.9 60.6,81.0 61.1,81.0 61.6,81.0 62.1,81.0 62.6,81.1 63.1,81.1 63.6,81.1 64.1,81.1 64.6,81.2 65.1,81.2 65.6,81.2 66.1,81.2 66.6,81.3 67.1,81.3 67.6,81.3 68.1,81.3 68.6,81.4 69.1,81.4 69.6,81.4 70.1,81.4 70.6,81.5 71.1,81.5 71.6,81.5 72.1,81.5 72.6,81.6 73.1,81.6 73.6,81.6 74.1,81.7 74.6,81.7 75.1,81.7 75.6,81.7 76.1,81.8 76.6,81.8 77.1,81.8 77.6,81.8 78.1,81.9 78.6,81.9 79.1,81.9 79.6,81.9 80.1,82.0 80.6,82.0 81.1,82.0 81.6,82.1 82.1,82.1 82.6,82.1 83.1,82.1 83.6,82.2 84.1,82.2 84.6,80.5 85.1,72.1 85.6,63.6 86.1,64.7 86.6,65.7 87.1,66.6 87.6,67.4 88.1,68.1 88.6,68.7 89.1,69.2 89.6,69.7 90.1,70.2 90.6,70.5 91.1,70.9 91.6,71.2 92.1,71.5 92.6,71.7 93.1,71.9 93.6,72.1 94.1,72.3 94.6,72.5 95.1,72.6 95.6,72.7 96.1,72.8 96.6,72.9 97.1,73.0 97.6,73.1 98.1,73.1 98.6,73.2 99.1,73.3 99.6,73.3 100.1,73.4 100.6,73.4 101.1,73.4 101.6,73.5 102.1,73.6 102.6,73.6 103.1,73.7 103.6,73.8 104.1,73.8 104.6,73.9 105.1,74.0 105.6,74.1 106.1,74.2 106.6,74.3 107.1,74.4 107.6,74.5 108.1,74.6 108.6,74.7 109.1,74.8 109.6,74.9 110.1,75.0 110.6,75.1 111.1,75.2 111.6,75.3 112.1,75.4 112.6,75.5 113.1,75.6 113.6,75.7 114.1,75.7 114.6,75.8 115.1,75.9 115.6,76.0 116.1,76.0 116.6,76.1 117.1,76.1 117.6,76.2 118.1,76.2 118.6,76.3 119.1,76.3 119.6,76.3 120.1,76.3 120.6,76.3 121.1,76.3 121.6,76.3 122.1,76.3 122.6,76.3 123.1,76.3 123.6,76.3 124.1,76.3 124.6,76.3 125.1,76.3 125.6,76.3 126.1,76.3 126.6,76.3 127.1,76.3 127.6,76.3 128.1,76.2 128.6,76.2 129.1,76.2 129.6,76.2 130.1,76.2 130.6,76.2 131.1,76.2 131.6,76.1 132.1,76.1 132.6,76.1 133.1,76.1 133.6,76.0 134.1,76.0 134.6,76.0 135.1,76.0 135.6,75.9 136.1,75.9 136.6,75.8 137.1,75.8 137.6,75.8 138.1,75.7 138.6,75.7 139.1,75.6 139.6,75.5 140.0,75.5 140.5,75.5 141.0,75.5 141.5,75.5 142.0,75.5 142.5,75.5 143.0,75.5 143.5,75.5 144.0,75.5 144.5,75.5 145.0,75.5 145.5,75.5 146.0,75.6 146.5,75.6 147.0,75.6 147.5,75.7 148.0,75.8 148.5,75.9 149.0,75.9 149.5,76.0 150.0,76.1 150.5,76.2 151.0,76.2 151.5,76.4 152.0,76.5 152.5,76.6 153.0,76.8 153.5,76.9 154.0,77.0 154.5,77.2 155.0,77.3 155.5,77.4 156.0,77.6 156.5,77.7 157.0,77.8 157.5,78.0 158.0,78.1 158.5,78.3 159.0,78.4 159.5,78.5 160.0,78.6 160.5,78.6 161.0,78.6 161.5,78.6 162.0,78.5 162.5,78.4 163.0,78.2 163.5,78.0 164.0,77.9 164.5,77.7 165.0,77.5 165.5,77.3 166.0,77.3 166.5,77.3 167.0,77.4 167.5,77.6 168.0,78.0 168.5,78.5 169.0,79.2 169.5,79.9 170.0,80.7 170.5,81.5 171.0,82.3 171.5,83.0 172.0,83.8 172.5,84.6 173.0,85.5 173.5,86.3 174.0,87.3 174.5,88.3 175.0,89.4 175.5,90.6 176.0,91.8 176.5,93.0 177.0,94.2 177.5,95.4 178.0,96.6 178.5,97.7 179.0,98.8 179.5,99.5 180.0,99.9 180.5,99.9 181.0,99.4 181.5,98.7 182.0,97.9 182.5,97.1 183.0,96.2 183.5,95.3 184.0,94.5 184.5,93.6 185.0,92.7 185.5,91.9 186.0,91.0 186.5,90.2 187.0,89.4 187.5,88.6 188.0,87.7 188.5,86.9 189.0,86.1 189.5,85.3 190.0,84.6 190.5,83.9 191.0,83.3 191.5,82.8 192.0,82.4 192.5,81.9 193.0,81.5 193.5,81.1 194.0,80.7 194.5,80.3 195.0,79.9 195.5,79.5 196.0,79.2 196.5,78.9 197.0,78.6 197.5,78.4 198.0,78.2 198.5,78.1 199.0,77.9 199.5,77.7 200.0,77.6 200.5,77.5 201.0,77.5 201.5,77.6 202.0,77.6 202.5,77.7 203.0,77.9 203.5,78.0 204.0,78.1 204.5,78.2 205.0,78.3 205.5,78.4 206.0,78.5 206.5,78.7 207.0,78.8 207.5,78.9 208.0,79.0 208.5,79.1 209.0,79.2 209.5,79.3 210.0,79.4 210.5,79.4 211.0,79.3 211.5,79.3 212.0,79.2 212.5,79.1 213.0,79.1 213.5,79.0 214.0,78.9 214.5,78.9 215.0,78.8 215.5,78.7 216.0,78.7 216.5,78.6 217.0,78.6" fill="none" stroke="#2f76c8" stroke-width="1.35" stroke-linejoin="round" stroke-linecap="round"/>
<polyline points="31.6,88.5 32.1,88.5 32.6,88.6 33.1,88.6 33.6,88.6 34.1,88.6 34.6,88.6 35.1,88.6 35.6,88.6 36.1,88.6 36.6,88.7 37.1,88.7 37.6,88.8 38.1,88.9 38.6,89.0 39.1,89.3 39.6,89.8 40.1,90.7 40.6,92.4 41.1,93.7 41.6,92.9 42.1,91.5 42.6,90.4 43.1,89.8 43.6,89.4 44.1,89.2 44.6,89.0 45.1,88.9 45.6,88.8 46.1,88.8 46.6,88.7 47.1,88.7 47.6,88.7 48.1,88.7 48.6,88.7 49.1,88.7 49.6,88.7 50.1,88.8 50.6,88.8 51.1,88.8 51.6,88.8 52.1,88.9 52.6,88.9 53.1,88.9 53.6,88.9 54.1,89.0 54.6,89.0 55.1,89.0 55.6,89.0 56.1,89.1 56.6,89.1 57.1,89.1 57.6,89.1 58.1,89.2 58.6,89.2 59.1,89.2 59.6,89.3 60.1,89.3 60.6,89.3 61.1,89.3 61.6,89.4 62.1,89.4 62.6,89.4 63.1,89.5 63.6,89.5 64.1,89.5 64.6,89.5 65.1,89.6 65.6,89.6 66.1,89.6 66.6,89.7 67.1,89.7 67.6,89.7 68.1,89.7 68.6,89.8 69.1,89.8 69.6,89.8 70.1,89.9 70.6,89.9 71.1,89.9 71.6,90.0 72.1,90.0 72.6,90.0 73.1,90.0 73.6,90.1 74.1,90.1 74.6,90.1 75.1,90.2 75.6,90.2 76.1,90.2 76.6,90.2 77.1,90.3 77.6,90.3 78.1,90.3 78.6,90.4 79.1,90.4 79.6,90.4 80.1,90.4 80.6,90.5 81.1,90.5 81.6,90.5 82.1,90.6 82.6,90.6 83.1,90.6 83.6,90.7 84.1,90.7 84.6,89.2 85.1,81.9 85.6,74.5 86.1,75.5 86.6,76.4 87.1,77.2 87.6,77.9 88.1,78.6 88.6,79.1 89.1,79.6 89.6,80.1 90.1,80.5 90.6,80.8 91.1,81.1 91.6,81.4 92.1,81.7 92.6,81.9 93.1,82.1 93.6,82.3 94.1,82.4 94.6,82.6 95.1,82.7 95.6,82.8 96.1,82.9 96.6,83.0 97.1,83.1 97.6,83.1 98.1,83.2 98.6,83.3 99.1,83.3 99.6,83.3 100.1,83.4 100.6,83.4 101.1,83.5 101.6,83.5 102.1,83.5 102.6,83.6 103.1,83.6 103.6,83.7 104.1,83.7 104.6,83.8 105.1,83.8 105.6,83.9 106.1,83.9 106.6,84.0 107.1,84.0 107.6,84.1 108.1,84.1 108.6,84.2 109.1,84.2 109.6,84.3 110.1,84.3 110.6,84.4 111.1,84.4 111.6,84.5 112.1,84.5 112.6,84.6 113.1,84.6 113.6,84.7 114.1,84.7 114.6,84.8 115.1,84.8 115.6,84.8 116.1,84.9 116.6,84.9 117.1,84.9 117.6,84.9 118.1,85.0 118.6,85.0 119.1,85.0 119.6,85.0 120.1,85.0 120.6,85.0 121.1,85.0 121.6,85.0 122.1,85.0 122.6,85.0 123.1,85.0 123.6,85.0 124.1,85.0 124.6,85.0 125.1,85.0 125.6,85.0 126.1,85.0 126.6,85.0 127.1,85.0 127.6,85.0 128.1,85.0 128.6,85.0 129.1,85.0 129.6,85.0 130.1,84.9 130.6,84.9 131.1,84.9 131.6,84.9 132.1,84.9 132.6,84.9 133.1,84.9 133.6,84.9 134.1,84.9 134.6,84.8 135.1,84.8 135.6,84.8 136.1,84.8 136.6,84.8 137.1,84.7 137.6,84.7 138.1,84.7 138.6,84.7 139.1,84.7 139.6,84.6 140.0,84.6 140.5,84.6 141.0,84.6 141.5,84.5 142.0,84.5 142.5,84.5 143.0,84.5 143.5,84.5 144.0,84.5 144.5,84.5 145.0,84.4 145.5,84.4 146.0,84.4 146.5,84.4 147.0,84.5 147.5,84.5 148.0,84.5 148.5,84.5 149.0,84.6 149.5,84.6 150.0,84.6 150.5,84.6 151.0,84.7 151.5,84.7 152.0,84.7 152.5,84.8 153.0,84.8 153.5,84.8 154.0,84.8 154.5,84.9 155.0,84.9 155.5,84.9 156.0,84.9 156.5,84.9 157.0,84.9 157.5,84.9 158.0,84.9 158.5,85.0 159.0,85.0 159.5,85.0 160.0,85.0 160.5,85.0 161.0,84.9 161.5,84.9 162.0,84.8 162.5,84.8 163.0,84.7 163.5,84.6 164.0,84.5 164.5,84.4 165.0,84.4 165.5,84.4 166.0,84.4 166.5,84.4 167.0,84.6 167.5,84.8 168.0,85.1 168.5,85.5 169.0,86.0 169.5,86.7 170.0,87.5 170.5,88.3 171.0,89.1 171.5,89.9 172.0,90.7 172.5,91.6 173.0,92.4 173.5,93.3 174.0,94.3 174.5,95.3 175.0,96.4 175.5,97.6 176.0,98.7 176.5,99.9 177.0,101.1 177.5,102.3 178.0,103.5 178.5,104.6 179.0,105.6 179.5,106.4 180.0,106.8 180.5,106.7 181.0,106.3 181.5,105.7 182.0,105.0 182.5,104.2 183.0,103.3 183.5,102.5 184.0,101.7 184.5,100.9 185.0,100.1 185.5,99.3 186.0,98.6 186.5,97.8 187.0,97.1 187.5,96.4 188.0,95.7 188.5,95.0 189.0,94.3 189.5,93.6 190.0,93.0 190.5,92.3 191.0,91.8 191.5,91.4 192.0,91.0 192.5,90.7 193.0,90.4 193.5,90.1 194.0,89.8 194.5,89.5 195.0,89.3 195.5,89.0 196.0,88.8 196.5,88.6 197.0,88.5 197.5,88.4 198.0,88.3 198.5,88.2 199.0,88.1 199.5,87.9 200.0,87.8 200.5,87.7 201.0,87.6 201.5,87.6 202.0,87.6 202.5,87.6 203.0,87.7 203.5,87.8 204.0,87.9 204.5,88.1 205.0,88.2 205.5,88.3 206.0,88.5 206.5,88.6 207.0,88.7 207.5,88.8 208.0,88.9 208.5,88.9 209.0,88.9 209.5,88.8 210.0,88.8 210.5,88.7 211.0,88.7 211.5,88.6 212.0,88.6 212.5,88.5 213.0,88.4 213.5,88.4 214.0,88.3 214.5,88.3 215.0,88.2 215.5,88.2 216.0,88.1 216.5,88.1 217.0,88.0" fill="none" stroke="#b5ad22" stroke-width="1.35" stroke-linejoin="round" stroke-linecap="round"/>
<polyline points="31.6,95.2 32.1,95.2 32.6,95.2 33.1,95.2 33.6,95.2 34.1,95.2 34.6,95.2 35.1,95.3 35.6,95.3 36.1,95.3 36.6,95.3 37.1,95.3 37.6,95.4 38.1,95.4 38.6,95.5 39.1,95.6 39.6,95.9 40.1,96.4 40.6,97.3 41.1,98.0 41.6,97.6 42.1,96.8 42.6,96.2 43.1,95.9 43.6,95.7 44.1,95.6 44.6,95.5 45.1,95.4 45.6,95.4 46.1,95.3 46.6,95.3 47.1,95.3 47.6,95.3 48.1,95.3 48.6,95.3 49.1,95.3 49.6,95.3 50.1,95.3 50.6,95.3 51.1,95.3 51.6,95.3 52.1,95.4 52.6,95.4 53.1,95.4 53.6,95.4 54.1,95.4 54.6,95.4 55.1,95.4 55.6,95.4 56.1,95.4 56.6,95.4 57.1,95.5 57.6,95.5 58.1,95.5 58.6,95.5 59.1,95.5 59.6,95.5 60.1,95.5 60.6,95.5 61.1,95.5 61.6,95.6 62.1,95.6 62.6,95.6 63.1,95.6 63.6,95.6 64.1,95.6 64.6,95.6 65.1,95.6 65.6,95.7 66.1,95.7 66.6,95.7 67.1,95.7 67.6,95.7 68.1,95.7 68.6,95.7 69.1,95.7 69.6,95.7 70.1,95.8 70.6,95.8 71.1,95.8 71.6,95.8 72.1,95.8 72.6,95.8 73.1,95.8 73.6,95.8 74.1,95.9 74.6,95.9 75.1,95.9 75.6,95.9 76.1,95.9 76.6,95.9 77.1,95.9 77.6,95.9 78.1,95.9 78.6,96.0 79.1,96.0 79.6,96.0 80.1,96.0 80.6,96.0 81.1,96.0 81.6,96.0 82.1,96.0 82.6,96.1 83.1,96.1 83.6,96.1 84.1,96.1 84.6,95.3 85.1,91.0 85.6,86.8 86.1,87.3 86.6,87.7 87.1,88.0 87.6,88.4 88.1,88.7 88.6,88.9 89.1,89.1 89.6,89.3 90.1,89.5 90.6,89.7 91.1,89.8 91.6,90.0 92.1,90.1 92.6,90.2 93.1,90.3 93.6,90.3 94.1,90.4 94.6,90.5 95.1,90.5 95.6,90.6 96.1,90.6 96.6,90.7 97.1,90.7 97.6,90.7 98.1,90.8 98.6,90.8 99.1,90.8 99.6,90.8 100.1,90.9 100.6,90.9 101.1,90.9 101.6,90.9 102.1,90.9 102.6,91.0 103.1,91.0 103.6,91.0 104.1,91.0 104.6,91.1 105.1,91.1 105.6,91.1 106.1,91.1 106.6,91.2 107.1,91.2 107.6,91.2 108.1,91.3 108.6,91.3 109.1,91.3 109.6,91.4 110.1,91.4 110.6,91.4 111.1,91.5 111.6,91.5 112.1,91.5 112.6,91.5 113.1,91.6 113.6,91.6 114.1,91.6 114.6,91.7 115.1,91.7 115.6,91.7 116.1,91.7 116.6,91.7 117.1,91.8 117.6,91.8 118.1,91.8 118.6,91.8 119.1,91.8 119.6,91.8 120.1,91.8 120.6,91.8 121.1,91.8 121.6,91.8 122.1,91.8 122.6,91.8 123.1,91.8 123.6,91.8 124.1,91.8 124.6,91.8 125.1,91.8 125.6,91.8 126.1,91.8 126.6,91.8 127.1,91.8 127.6,91.8 128.1,91.8 128.6,91.8 129.1,91.8 129.6,91.8 130.1,91.8 130.6,91.8 131.1,91.8 131.6,91.8 132.1,91.8 132.6,91.8 133.1,91.8 133.6,91.8 134.1,91.8 134.6,91.8 135.1,91.8 135.6,91.8 136.1,91.8 136.6,91.8 137.1,91.8 137.6,91.8 138.1,91.8 138.6,91.8 139.1,91.8 139.6,91.8 140.0,91.8 140.5,91.8 141.0,91.8 141.5,91.8 142.0,91.8 142.5,91.8 143.0,91.8 143.5,91.9 144.0,91.9 144.5,91.9 145.0,91.9 145.5,91.9 146.0,91.9 146.5,91.9 147.0,91.9 147.5,91.9 148.0,91.9 148.5,91.8 149.0,91.8 149.5,91.8 150.0,91.8 150.5,91.8 151.0,91.8 151.5,91.8 152.0,91.8 152.5,91.8 153.0,91.7 153.5,91.7 154.0,91.7 154.5,91.7 155.0,91.7 155.5,91.6 156.0,91.6 156.5,91.5 157.0,91.4 157.5,91.3 158.0,91.3 158.5,91.2 159.0,91.1 159.5,91.1 160.0,91.0 160.5,90.9 161.0,90.8 161.5,90.6 162.0,90.5 162.5,90.4 163.0,90.3 163.5,90.2 164.0,90.1 164.5,90.0 165.0,90.0 165.5,90.1 166.0,90.3 166.5,90.5 167.0,90.9 167.5,91.4 168.0,92.1 168.5,92.8 169.0,93.5 169.5,94.3 170.0,95.0 170.5,95.8 171.0,96.5 171.5,97.4 172.0,98.3 172.5,99.2 173.0,100.3 173.5,101.4 174.0,102.5 174.5,103.6 175.0,104.7 175.5,105.8 176.0,107.0 176.5,108.1 177.0,109.2 177.5,110.3 178.0,111.4 178.5,112.3 179.0,113.1 179.5,113.4 180.0,113.4 180.5,113.0 181.0,112.4 181.5,111.6 182.0,110.8 182.5,110.0 183.0,109.3 183.5,108.5 184.0,107.7 184.5,106.9 185.0,106.1 185.5,105.3 186.0,104.6 186.5,103.9 187.0,103.3 187.5,102.6 188.0,102.0 188.5,101.4 189.0,100.8 189.5,100.1 190.0,99.5 190.5,98.9 191.0,98.3 191.5,97.8 192.0,97.3 192.5,96.9 193.0,96.6 193.5,96.3 194.0,96.1 194.5,95.9 195.0,95.6 195.5,95.4 196.0,95.2 196.5,95.0 197.0,94.8 197.5,94.7 198.0,94.7 198.5,94.6 199.0,94.6 199.5,94.6 200.0,94.6 200.5,94.5 201.0,94.5 201.5,94.5 202.0,94.5 202.5,94.4 203.0,94.5 203.5,94.5 204.0,94.5 204.5,94.6 205.0,94.6 205.5,94.7 206.0,94.7 206.5,94.7 207.0,94.8 207.5,94.8 208.0,94.9 208.5,94.9 209.0,94.9 209.5,94.9 210.0,94.8 210.5,94.7 211.0,94.6 211.5,94.5 212.0,94.4 212.5,94.3 213.0,94.2 213.5,94.2 214.0,94.1 214.5,94.0 215.0,93.9 215.5,93.8 216.0,93.7 216.5,93.6 217.0,93.6" fill="none" stroke="#c83a3e" stroke-width="1.35" stroke-linejoin="round" stroke-linecap="round"/>
<polyline points="31.6,101.5 32.1,101.5 32.6,101.5 33.1,101.5 33.6,101.5 34.1,101.5 34.6,101.5 35.1,101.5 35.6,101.5 36.1,101.5 36.6,101.6 37.1,101.6 37.6,101.6 38.1,101.6 38.6,101.7 39.1,101.8 39.6,101.9 40.1,102.2 40.6,102.8 41.1,103.2 41.6,102.9 42.1,102.5 42.6,102.1 43.1,101.9 43.6,101.8 44.1,101.7 44.6,101.7 45.1,101.6 45.6,101.6 46.1,101.6 46.6,101.6 47.1,101.6 47.6,101.5 48.1,101.5 48.6,101.5 49.1,101.5 49.6,101.5 50.1,101.5 50.6,101.4 51.1,101.4 51.6,101.4 52.1,101.4 52.6,101.4 53.1,101.4 53.6,101.4 54.1,101.4 54.6,101.4 55.1,101.3 55.6,101.3 56.1,101.3 56.6,101.3 57.1,101.3 57.6,101.3 58.1,101.3 58.6,101.3 59.1,101.2 59.6,101.2 60.1,101.2 60.6,101.2 61.1,101.2 61.6,101.2 62.1,101.2 62.6,101.2 63.1,101.2 63.6,101.2 64.1,101.1 64.6,101.1 65.1,101.1 65.6,101.1 66.1,101.1 66.6,101.1 67.1,101.1 67.6,101.1 68.1,101.1 68.6,101.0 69.1,101.0 69.6,101.0 70.1,101.0 70.6,101.0 71.1,101.0 71.6,101.0 72.1,101.0 72.6,101.0 73.1,100.9 73.6,100.9 74.1,100.9 74.6,100.9 75.1,100.9 75.6,100.9 76.1,100.9 76.6,100.9 77.1,100.9 77.6,100.8 78.1,100.8 78.6,100.8 79.1,100.8 79.6,100.8 80.1,100.8 80.6,100.8 81.1,100.8 81.6,100.8 82.1,100.8 82.6,100.7 83.1,100.7 83.6,100.7 84.1,100.7 84.6,100.7 85.1,100.7 85.6,100.6 86.1,100.6 86.6,100.5 87.1,100.4 87.6,100.3 88.1,100.1 88.6,100.0 89.1,99.8 89.6,99.6 90.1,99.5 90.6,99.4 91.1,99.3 91.6,99.2 92.1,99.2 92.6,99.2 93.1,99.2 93.6,99.2 94.1,99.2 94.6,99.2 95.1,99.2 95.6,99.2 96.1,99.2 96.6,99.2 97.1,99.2 97.6,99.2 98.1,99.3 98.6,99.3 99.1,99.3 99.6,99.3 100.1,99.3 100.6,99.3 101.1,99.3 101.6,99.3 102.1,99.3 102.6,99.3 103.1,99.4 103.6,99.4 104.1,99.4 104.6,99.4 105.1,99.4 105.6,99.4 106.1,99.4 106.6,99.4 107.1,99.4 107.6,99.5 108.1,99.5 108.6,99.5 109.1,99.5 109.6,99.5 110.1,99.5 110.6,99.5 111.1,99.5 111.6,99.5 112.1,99.5 112.6,99.5 113.1,99.6 113.6,99.6 114.1,99.6 114.6,99.6 115.1,99.6 115.6,99.6 116.1,99.6 116.6,99.6 117.1,99.6 117.6,99.6 118.1,99.6 118.6,99.6 119.1,99.7 119.6,99.7 120.1,99.7 120.6,99.7 121.1,99.7 121.6,99.7 122.1,99.7 122.6,99.7 123.1,99.7 123.6,99.7 124.1,99.7 124.6,99.7 125.1,99.8 125.6,99.8 126.1,99.8 126.6,99.8 127.1,99.8 127.6,99.8 128.1,99.8 128.6,99.8 129.1,99.8 129.6,99.8 130.1,99.8 130.6,99.8 131.1,99.9 131.6,99.9 132.1,99.9 132.6,99.9 133.1,99.9 133.6,99.9 134.1,99.9 134.6,99.9 135.1,99.9 135.6,99.9 136.1,99.9 136.6,99.9 137.1,100.0 137.6,100.0 138.1,100.0 138.6,100.0 139.1,100.0 139.6,100.0 140.0,100.0 140.5,99.9 141.0,99.9 141.5,99.8 142.0,99.7 142.5,99.7 143.0,99.6 143.5,99.5 144.0,99.5 144.5,99.4 145.0,99.3 145.5,99.3 146.0,99.2 146.5,99.1 147.0,99.0 147.5,99.0 148.0,98.9 148.5,98.8 149.0,98.7 149.5,98.7 150.0,98.6 150.5,98.5 151.0,98.4 151.5,98.3 152.0,98.3 152.5,98.2 153.0,98.1 153.5,98.0 154.0,98.0 154.5,97.9 155.0,97.8 155.5,97.7 156.0,97.7 156.5,97.6 157.0,97.5 157.5,97.4 158.0,97.4 158.5,97.3 159.0,97.2 159.5,97.1 160.0,97.0 160.5,97.0 161.0,96.9 161.5,96.8 162.0,96.8 162.5,96.7 163.0,96.6 163.5,96.5 164.0,96.5 164.5,96.5 165.0,96.5 165.5,96.6 166.0,96.8 166.5,97.0 167.0,97.5 167.5,98.0 168.0,98.7 168.5,99.4 169.0,100.2 169.5,101.0 170.0,101.8 170.5,102.6 171.0,103.4 171.5,104.3 172.0,105.2 172.5,106.2 173.0,107.2 173.5,108.3 174.0,109.3 174.5,110.4 175.0,111.5 175.5,112.6 176.0,113.7 176.5,114.8 177.0,115.9 177.5,116.9 178.0,118.0 178.5,118.9 179.0,119.6 179.5,119.9 180.0,119.8 180.5,119.4 181.0,118.7 181.5,118.0 182.0,117.1 182.5,116.3 183.0,115.5 183.5,114.7 184.0,113.8 184.5,113.0 185.0,112.2 185.5,111.4 186.0,110.7 186.5,110.0 187.0,109.3 187.5,108.7 188.0,108.1 188.5,107.5 189.0,106.9 189.5,106.3 190.0,105.7 190.5,105.1 191.0,104.5 191.5,104.0 192.0,103.6 192.5,103.2 193.0,102.9 193.5,102.6 194.0,102.4 194.5,102.2 195.0,102.0 195.5,101.7 196.0,101.5 196.5,101.3 197.0,101.1 197.5,100.9 198.0,100.7 198.5,100.6 199.0,100.6 199.5,100.5 200.0,100.5 200.5,100.5 201.0,100.4 201.5,100.4 202.0,100.4 202.5,100.3 203.0,100.3 203.5,100.3 204.0,100.3 204.5,100.3 205.0,100.3 205.5,100.3 206.0,100.3 206.5,100.4 207.0,100.5 207.5,100.5 208.0,100.6 208.5,100.7 209.0,100.7 209.5,100.8 210.0,100.9 210.5,100.9 211.0,100.9 211.5,101.0 212.0,101.0 212.5,100.9 213.0,100.9 213.5,100.9 214.0,100.9 214.5,100.9 215.0,100.9 215.5,100.9 216.0,100.8 216.5,100.8 217.0,100.8" fill="none" stroke="#cc36bc" stroke-width="1.35" stroke-linejoin="round" stroke-linecap="round"/>
<polyline points="31.6,108.6 32.1,108.6 32.6,108.6 33.1,108.6 33.6,108.6 34.1,108.6 34.6,108.6 35.1,108.6 35.6,108.6 36.1,108.6 36.6,108.6 37.1,108.6 37.6,108.6 38.1,108.6 38.6,108.7 39.1,108.7 39.6,108.7 40.1,108.9 40.6,109.0 41.1,109.2 41.6,109.1 42.1,108.9 42.6,108.8 43.1,108.7 43.6,108.7 44.1,108.7 44.6,108.7 45.1,108.6 45.6,108.6 46.1,108.6 46.6,108.6 47.1,108.6 47.6,108.6 48.1,108.6 48.6,108.6 49.1,108.6 49.6,108.6 50.1,108.6 50.6,108.6 51.1,108.5 51.6,108.5 52.1,108.5 52.6,108.5 53.1,108.5 53.6,108.5 54.1,108.5 54.6,108.5 55.1,108.5 55.6,108.5 56.1,108.5 56.6,108.4 57.1,108.4 57.6,108.4 58.1,108.4 58.6,108.4 59.1,108.4 59.6,108.4 60.1,108.4 60.6,108.4 61.1,108.4 61.6,108.4 62.1,108.4 62.6,108.4 63.1,108.3 63.6,108.3 64.1,108.3 64.6,108.3 65.1,108.3 65.6,108.3 66.1,108.3 66.6,108.3 67.1,108.3 67.6,108.3 68.1,108.3 68.6,108.3 69.1,108.2 69.6,108.2 70.1,108.2 70.6,108.2 71.1,108.2 71.6,108.2 72.1,108.2 72.6,108.2 73.1,108.2 73.6,108.2 74.1,108.2 74.6,108.2 75.1,108.2 75.6,108.1 76.1,108.1 76.6,108.1 77.1,108.1 77.6,108.1 78.1,108.1 78.6,108.1 79.1,108.1 79.6,108.1 80.1,108.1 80.6,108.1 81.1,108.1 81.6,108.0 82.1,108.0 82.6,108.0 83.1,108.0 83.6,108.0 84.1,108.0 84.6,108.0 85.1,107.9 85.6,107.8 86.1,107.8 86.6,107.8 87.1,107.7 87.6,107.7 88.1,107.6 88.6,107.6 89.1,107.6 89.6,107.5 90.1,107.5 90.6,107.5 91.1,107.5 91.6,107.4 92.1,107.4 92.6,107.4 93.1,107.3 93.6,107.3 94.1,107.3 94.6,107.3 95.1,107.2 95.6,107.2 96.1,107.2 96.6,107.2 97.1,107.1 97.6,107.1 98.1,107.1 98.6,107.1 99.1,107.0 99.6,107.0 100.1,107.0 100.6,107.0 101.1,107.0 101.6,107.0 102.1,106.9 102.6,106.9 103.1,106.9 103.6,106.9 104.1,106.9 104.6,106.9 105.1,106.9 105.6,106.9 106.1,106.8 106.6,106.8 107.1,106.8 107.6,106.8 108.1,106.8 108.6,106.8 109.1,106.8 109.6,106.8 110.1,106.8 110.6,106.8 111.1,106.8 111.6,106.8 112.1,106.8 112.6,106.8 113.1,106.8 113.6,106.8 114.1,106.8 114.6,106.8 115.1,106.8 115.6,106.8 116.1,106.8 116.6,106.8 117.1,106.8 117.6,106.8 118.1,106.8 118.6,106.8 119.1,106.7 119.6,106.7 120.1,106.7 120.6,106.7 121.1,106.7 121.6,106.7 122.1,106.7 122.6,106.7 123.1,106.7 123.6,106.7 124.1,106.7 124.6,106.7 125.1,106.7 125.6,106.7 126.1,106.7 126.6,106.7 127.1,106.7 127.6,106.7 128.1,106.7 128.6,106.7 129.1,106.7 129.6,106.7 130.1,106.7 130.6,106.7 131.1,106.7 131.6,106.7 132.1,106.7 132.6,106.7 133.1,106.7 133.6,106.7 134.1,106.7 134.6,106.7 135.1,106.7 135.6,106.7 136.1,106.7 136.6,106.7 137.1,106.7 137.6,106.7 138.1,106.7 138.6,106.7 139.1,106.7 139.6,106.7 140.0,106.7 140.5,106.6 141.0,106.6 141.5,106.5 142.0,106.5 142.5,106.4 143.0,106.3 143.5,106.3 144.0,106.2 144.5,106.2 145.0,106.1 145.5,106.1 146.0,106.0 146.5,105.9 147.0,105.8 147.5,105.8 148.0,105.7 148.5,105.6 149.0,105.5 149.5,105.5 150.0,105.4 150.5,105.3 151.0,105.2 151.5,105.1 152.0,105.1 152.5,105.0 153.0,104.9 153.5,104.8 154.0,104.8 154.5,104.7 155.0,104.6 155.5,104.6 156.0,104.5 156.5,104.4 157.0,104.4 157.5,104.3 158.0,104.3 158.5,104.2 159.0,104.2 159.5,104.1 160.0,104.0 160.5,104.0 161.0,103.9 161.5,103.9 162.0,103.8 162.5,103.8 163.0,103.7 163.5,103.7 164.0,103.6 164.5,103.6 165.0,103.7 165.5,103.8 166.0,104.0 166.5,104.3 167.0,104.7 167.5,105.3 168.0,106.0 168.5,106.8 169.0,107.6 169.5,108.4 170.0,109.2 170.5,110.1 171.0,110.9 171.5,111.8 172.0,112.7 172.5,113.7 173.0,114.8 173.5,115.9 174.0,117.0 174.5,118.1 175.0,119.2 175.5,120.3 176.0,121.4 176.5,122.5 177.0,123.6 177.5,124.7 178.0,125.8 178.5,126.7 179.0,127.4 179.5,127.7 180.0,127.6 180.5,127.0 181.0,126.3 181.5,125.4 182.0,124.4 182.5,123.5 183.0,122.5 183.5,121.6 184.0,120.6 184.5,119.7 185.0,118.8 185.5,117.9 186.0,117.1 186.5,116.3 187.0,115.7 187.5,115.1 188.0,114.5 188.5,113.9 189.0,113.3 189.5,112.7 190.0,112.1 190.5,111.6 191.0,111.0 191.5,110.5 192.0,110.1 192.5,109.7 193.0,109.5 193.5,109.3 194.0,109.1 194.5,108.9 195.0,108.7 195.5,108.5 196.0,108.3 196.5,108.2 197.0,108.0 197.5,107.8 198.0,107.7 198.5,107.6 199.0,107.6 199.5,107.5 200.0,107.5 200.5,107.5 201.0,107.4 201.5,107.4 202.0,107.4 202.5,107.3 203.0,107.3 203.5,107.3 204.0,107.3 204.5,107.2 205.0,107.2 205.5,107.2 206.0,107.3 206.5,107.3 207.0,107.3 207.5,107.3 208.0,107.3 208.5,107.4 209.0,107.4 209.5,107.4 210.0,107.4 210.5,107.5 211.0,107.5 211.5,107.4 212.0,107.4 212.5,107.4 213.0,107.3 213.5,107.3 214.0,107.2 214.5,107.2 215.0,107.2 215.5,107.1 216.0,107.1 216.5,107.1 217.0,107.0" fill="none" stroke="#9a3ed8" stroke-width="1.35" stroke-linejoin="round" stroke-linecap="round"/>
<polyline points="31.6,116.3 32.1,116.3 32.6,116.3 33.1,116.3 33.6,116.3 34.1,116.3 34.6,116.3 35.1,116.3 35.6,116.3 36.1,116.3 36.6,116.3 37.1,116.3 37.6,116.3 38.1,116.3 38.6,116.3 39.1,116.3 39.6,116.3 40.1,116.4 40.6,116.4 41.1,116.5 41.6,116.5 42.1,116.4 42.6,116.4 43.1,116.3 43.6,116.3 44.1,116.3 44.6,116.3 45.1,116.3 45.6,116.3 46.1,116.3 46.6,116.3 47.1,116.3 47.6,116.3 48.1,116.3 48.6,116.3 49.1,116.3 49.6,116.3 50.1,116.2 50.6,116.2 51.1,116.2 51.6,116.2 52.1,116.2 52.6,116.2 53.1,116.2 53.6,116.2 54.1,116.2 54.6,116.2 55.1,116.2 55.6,116.1 56.1,116.1 56.6,116.1 57.1,116.1 57.6,116.1 58.1,116.1 58.6,116.1 59.1,116.1 59.6,116.1 60.1,116.1 60.6,116.0 61.1,116.0 61.6,116.0 62.1,116.0 62.6,116.0 63.1,116.0 63.6,116.0 64.1,116.0 64.6,116.0 65.1,116.0 65.6,116.0 66.1,115.9 66.6,115.9 67.1,115.9 67.6,115.9 68.1,115.9 68.6,115.9 69.1,115.9 69.6,115.9 70.1,115.9 70.6,115.9 71.1,115.9 71.6,115.8 72.1,115.8 72.6,115.8 73.1,115.8 73.6,115.8 74.1,115.8 74.6,115.8 75.1,115.8 75.6,115.8 76.1,115.8 76.6,115.7 77.1,115.7 77.6,115.7 78.1,115.7 78.6,115.7 79.1,115.7 79.6,115.7 80.1,115.7 80.6,115.7 81.1,115.7 81.6,115.7 82.1,115.6 82.6,115.6 83.1,115.6 83.6,115.6 84.1,115.6 84.6,115.6 85.1,115.5 85.6,115.4 86.1,115.4 86.6,115.4 87.1,115.4 87.6,115.3 88.1,115.3 88.6,115.3 89.1,115.3 89.6,115.3 90.1,115.3 90.6,115.3 91.1,115.2 91.6,115.2 92.1,115.2 92.6,115.2 93.1,115.2 93.6,115.2 94.1,115.2 94.6,115.2 95.1,115.2 95.6,115.2 96.1,115.1 96.6,115.1 97.1,115.1 97.6,115.1 98.1,115.1 98.6,115.1 99.1,115.1 99.6,115.1 100.1,115.1 100.6,115.1 101.1,115.1 101.6,115.1 102.1,115.1 102.6,115.1 103.1,115.1 103.6,115.1 104.1,115.1 104.6,115.1 105.1,115.1 105.6,115.0 106.1,115.0 106.6,115.0 107.1,115.0 107.6,115.0 108.1,115.0 108.6,115.0 109.1,115.0 109.6,115.0 110.1,115.0 110.6,115.0 111.1,115.0 111.6,115.0 112.1,115.0 112.6,115.0 113.1,115.0 113.6,115.0 114.1,114.9 114.6,114.9 115.1,114.9 115.6,114.9 116.1,114.9 116.6,114.9 117.1,114.9 117.6,114.9 118.1,114.9 118.6,114.9 119.1,114.9 119.6,114.9 120.1,114.9 120.6,114.9 121.1,114.9 121.6,114.9 122.1,114.9 122.6,114.9 123.1,114.8 123.6,114.8 124.1,114.8 124.6,114.8 125.1,114.8 125.6,114.8 126.1,114.8 126.6,114.8 127.1,114.8 127.6,114.8 128.1,114.8 128.6,114.8 129.1,114.8 129.6,114.8 130.1,114.8 130.6,114.8 131.1,114.8 131.6,114.8 132.1,114.8 132.6,114.8 133.1,114.8 133.6,114.7 134.1,114.7 134.6,114.7 135.1,114.7 135.6,114.7 136.1,114.7 136.6,114.7 137.1,114.7 137.6,114.7 138.1,114.7 138.6,114.7 139.1,114.7 139.6,114.7 140.0,114.7 140.5,114.6 141.0,114.6 141.5,114.6 142.0,114.5 142.5,114.5 143.0,114.4 143.5,114.4 144.0,114.4 144.5,114.3 145.0,114.3 145.5,114.2 146.0,114.2 146.5,114.1 147.0,114.1 147.5,114.0 148.0,114.0 148.5,113.9 149.0,113.9 149.5,113.8 150.0,113.8 150.5,113.7 151.0,113.6 151.5,113.6 152.0,113.5 152.5,113.5 153.0,113.4 153.5,113.4 154.0,113.3 154.5,113.3 155.0,113.2 155.5,113.1 156.0,113.1 156.5,113.0 157.0,112.9 157.5,112.8 158.0,112.8 158.5,112.7 159.0,112.6 159.5,112.6 160.0,112.5 160.5,112.4 161.0,112.3 161.5,112.3 162.0,112.2 162.5,112.1 163.0,112.1 163.5,112.0 164.0,111.9 164.5,111.9 165.0,111.9 165.5,112.0 166.0,112.1 166.5,112.4 167.0,112.7 167.5,113.2 168.0,113.9 168.5,114.6 169.0,115.5 169.5,116.3 170.0,117.2 170.5,118.1 171.0,119.0 171.5,119.9 172.0,120.8 172.5,121.7 173.0,122.7 173.5,123.7 174.0,124.7 174.5,125.8 175.0,126.9 175.5,128.0 176.0,129.1 176.5,130.2 177.0,131.3 177.5,132.4 178.0,133.5 178.5,134.5 179.0,135.2 179.5,135.7 180.0,135.6 180.5,135.2 181.0,134.6 181.5,133.8 182.0,132.9 182.5,132.1 183.0,131.2 183.5,130.3 184.0,129.5 184.5,128.6 185.0,127.8 185.5,126.9 186.0,126.2 186.5,125.4 187.0,124.7 187.5,124.1 188.0,123.4 188.5,122.8 189.0,122.2 189.5,121.5 190.0,120.9 190.5,120.2 191.0,119.6 191.5,119.0 192.0,118.4 192.5,117.9 193.0,117.4 193.5,117.0 194.0,116.7 194.5,116.4 195.0,116.2 195.5,115.9 196.0,115.6 196.5,115.4 197.0,115.1 197.5,114.9 198.0,114.7 198.5,114.6 199.0,114.5 199.5,114.4 200.0,114.4 200.5,114.3 201.0,114.3 201.5,114.2 202.0,114.2 202.5,114.1 203.0,114.1 203.5,114.1 204.0,114.1 204.5,114.2 205.0,114.2 205.5,114.3 206.0,114.4 206.5,114.5 207.0,114.5 207.5,114.6 208.0,114.7 208.5,114.8 209.0,114.8 209.5,114.9 210.0,115.0 210.5,115.0 211.0,115.1 211.5,115.1 212.0,115.2 212.5,115.2 213.0,115.3 213.5,115.3 214.0,115.4 214.5,115.4 215.0,115.5 215.5,115.5 216.0,115.6 216.5,115.6 217.0,115.7" fill="none" stroke="#3a3aa6" stroke-width="1.35" stroke-linejoin="round" stroke-linecap="round"/>
<polyline points="31.6,125.1 32.1,125.1 32.6,125.1 33.1,125.1 33.6,125.1 34.1,125.1 34.6,125.1 35.1,125.1 35.6,125.1 36.1,125.1 36.6,125.1 37.1,125.1 37.6,125.1 38.1,125.1 38.6,125.1 39.1,125.1 39.6,125.1 40.1,125.1 40.6,125.1 41.1,125.1 41.6,125.1 42.1,125.1 42.6,125.1 43.1,125.1 43.6,125.1 44.1,125.1 44.6,125.1 45.1,125.1 45.6,125.1 46.1,125.1 46.6,125.1 47.1,125.1 47.6,125.1 48.1,125.1 48.6,125.1 49.1,125.1 49.6,125.1 50.1,125.1 50.6,125.1 51.1,125.0 51.6,125.0 52.1,125.0 52.6,125.0 53.1,125.0 53.6,125.0 54.1,125.0 54.6,125.0 55.1,125.0 55.6,125.0 56.1,125.0 56.6,125.0 57.1,125.0 57.6,125.0 58.1,125.0 58.6,124.9 59.1,124.9 59.6,124.9 60.1,124.9 60.6,124.9 61.1,124.9 61.6,124.9 62.1,124.9 62.6,124.9 63.1,124.9 63.6,124.9 64.1,124.9 64.6,124.9 65.1,124.9 65.6,124.9 66.1,124.8 66.6,124.8 67.1,124.8 67.6,124.8 68.1,124.8 68.6,124.8 69.1,124.8 69.6,124.8 70.1,124.8 70.6,124.8 71.1,124.8 71.6,124.8 72.1,124.8 72.6,124.8 73.1,124.8 73.6,124.7 74.1,124.7 74.6,124.7 75.1,124.7 75.6,124.7 76.1,124.7 76.6,124.7 77.1,124.7 77.6,124.7 78.1,124.7 78.6,124.7 79.1,124.7 79.6,124.7 80.1,124.7 80.6,124.7 81.1,124.6 81.6,124.6 82.1,124.6 82.6,124.6 83.1,124.6 83.6,124.6 84.1,124.6 84.6,124.6 85.1,124.5 85.6,124.4 86.1,124.4 86.6,124.4 87.1,124.4 87.6,124.4 88.1,124.4 88.6,124.4 89.1,124.3 89.6,124.3 90.1,124.3 90.6,124.3 91.1,124.3 91.6,124.3 92.1,124.3 92.6,124.3 93.1,124.3 93.6,124.3 94.1,124.3 94.6,124.3 95.1,124.3 95.6,124.3 96.1,124.3 96.6,124.3 97.1,124.3 97.6,124.3 98.1,124.3 98.6,124.3 99.1,124.3 99.6,124.3 100.1,124.2 100.6,124.2 101.1,124.2 101.6,124.2 102.1,124.2 102.6,124.2 103.1,124.2 103.6,124.2 104.1,124.2 104.6,124.2 105.1,124.2 105.6,124.2 106.1,124.2 106.6,124.2 107.1,124.2 107.6,124.2 108.1,124.2 108.6,124.2 109.1,124.2 109.6,124.2 110.1,124.2 110.6,124.2 111.1,124.2 111.6,124.2 112.1,124.2 112.6,124.2 113.1,124.2 113.6,124.2 114.1,124.2 114.6,124.2 115.1,124.2 115.6,124.2 116.1,124.2 116.6,124.2 117.1,124.1 117.6,124.1 118.1,124.1 118.6,124.1 119.1,124.1 119.6,124.1 120.1,124.1 120.6,124.1 121.1,124.1 121.6,124.1 122.1,124.1 122.6,124.1 123.1,124.1 123.6,124.1 124.1,124.1 124.6,124.1 125.1,124.1 125.6,124.1 126.1,124.1 126.6,124.1 127.1,124.1 127.6,124.1 128.1,124.1 128.6,124.1 129.1,124.1 129.6,124.1 130.1,124.1 130.6,124.1 131.1,124.1 131.6,124.1 132.1,124.0 132.6,124.0 133.1,124.0 133.6,124.0 134.1,124.0 134.6,124.0 135.1,124.0 135.6,124.0 136.1,124.0 136.6,124.0 137.1,124.0 137.6,124.0 138.1,124.0 138.6,124.0 139.1,124.0 139.6,124.0 140.0,123.9 140.5,123.9 141.0,123.8 141.5,123.7 142.0,123.7 142.5,123.6 143.0,123.5 143.5,123.4 144.0,123.3 144.5,123.2 145.0,123.2 145.5,123.1 146.0,123.0 146.5,122.9 147.0,122.7 147.5,122.6 148.0,122.5 148.5,122.3 149.0,122.2 149.5,122.1 150.0,121.9 150.5,121.8 151.0,121.7 151.5,121.5 152.0,121.4 152.5,121.3 153.0,121.1 153.5,121.0 154.0,120.9 154.5,120.8 155.0,120.7 155.5,120.6 156.0,120.5 156.5,120.5 157.0,120.5 157.5,120.4 158.0,120.4 158.5,120.4 159.0,120.3 159.5,120.3 160.0,120.3 160.5,120.3 161.0,120.2 161.5,120.2 162.0,120.2 162.5,120.1 163.0,120.1 163.5,120.1 164.0,120.1 164.5,120.2 165.0,120.4 165.5,120.7 166.0,121.0 166.5,121.4 167.0,121.9 167.5,122.6 168.0,123.4 168.5,124.2 169.0,125.1 169.5,126.0 170.0,127.0 170.5,127.9 171.0,128.8 171.5,129.7 172.0,130.7 172.5,131.7 173.0,132.7 173.5,133.8 174.0,134.9 174.5,136.0 175.0,137.1 175.5,138.3 176.0,139.4 176.5,140.5 177.0,141.6 177.5,142.7 178.0,143.6 178.5,144.2 179.0,144.4 179.5,144.1 180.0,143.5 180.5,142.6 181.0,141.6 181.5,140.6 182.0,139.6 182.5,138.6 183.0,137.6 183.5,136.6 184.0,135.6 184.5,134.6 185.0,133.7 185.5,132.8 186.0,131.9 186.5,131.1 187.0,130.3 187.5,129.5 188.0,128.8 188.5,128.0 189.0,127.2 189.5,126.4 190.0,125.6 190.5,125.0 191.0,124.4 191.5,123.9 192.0,123.5 192.5,123.1 193.0,122.8 193.5,122.5 194.0,122.3 194.5,122.0 195.0,121.7 195.5,121.4 196.0,121.1 196.5,120.9 197.0,120.7 197.5,120.6 198.0,120.6 198.5,120.6 199.0,120.7 199.5,120.7 200.0,120.8 200.5,120.9 201.0,120.9 201.5,121.0 202.0,121.1 202.5,121.1 203.0,121.2 203.5,121.3 204.0,121.4 204.5,121.5 205.0,121.6 205.5,121.7 206.0,121.8 206.5,122.0 207.0,122.2 207.5,122.3 208.0,122.5 208.5,122.7 209.0,122.8 209.5,123.0 210.0,123.2 210.5,123.3 211.0,123.4 211.5,123.5 212.0,123.6 212.5,123.6 213.0,123.6 213.5,123.7 214.0,123.7 214.5,123.7 215.0,123.8 215.5,123.8 216.0,123.8 216.5,123.9 217.0,123.9" fill="none" stroke="#1c9a3c" stroke-width="1.35" stroke-linejoin="round" stroke-linecap="round"/>
<polyline points="31.6,133.3 32.1,133.3 32.6,133.3 33.1,133.3 33.6,133.3 34.1,133.3 34.6,133.3 35.1,133.3 35.6,133.3 36.1,133.3 36.6,133.3 37.1,133.3 37.6,133.3 38.1,133.3 38.6,133.3 39.1,133.3 39.6,133.3 40.1,133.3 40.6,133.3 41.1,133.3 41.6,133.3 42.1,133.3 42.6,133.3 43.1,133.3 43.6,133.3 44.1,133.3 44.6,133.3 45.1,133.3 45.6,133.3 46.1,133.3 46.6,133.3 47.1,133.3 47.6,133.3 48.1,133.3 48.6,133.3 49.1,133.3 49.6,133.3 50.1,133.3 50.6,133.3 51.1,133.3 51.6,133.3 52.1,133.3 52.6,133.3 53.1,133.3 53.6,133.2 54.1,133.2 54.6,133.2 55.1,133.2 55.6,133.2 56.1,133.2 56.6,133.2 57.1,133.2 57.6,133.2 58.1,133.2 58.6,133.2 59.1,133.2 59.6,133.2 60.1,133.2 60.6,133.2 61.1,133.2 61.6,133.2 62.1,133.2 62.6,133.2 63.1,133.2 63.6,133.2 64.1,133.2 64.6,133.2 65.1,133.2 65.6,133.2 66.1,133.1 66.6,133.1 67.1,133.1 67.6,133.1 68.1,133.1 68.6,133.1 69.1,133.1 69.6,133.1 70.1,133.1 70.6,133.1 71.1,133.1 71.6,133.1 72.1,133.1 72.6,133.1 73.1,133.1 73.6,133.1 74.1,133.1 74.6,133.1 75.1,133.1 75.6,133.1 76.1,133.1 76.6,133.1 77.1,133.1 77.6,133.1 78.1,133.1 78.6,133.0 79.1,133.0 79.6,133.0 80.1,133.0 80.6,133.0 81.1,133.0 81.6,133.0 82.1,133.0 82.6,133.0 83.1,133.0 83.6,133.0 84.1,133.0 84.6,133.0 85.1,132.9 85.6,132.8 86.1,132.8 86.6,132.8 87.1,132.8 87.6,132.8 88.1,132.8 88.6,132.8 89.1,132.8 89.6,132.8 90.1,132.8 90.6,132.8 91.1,132.8 91.6,132.7 92.1,132.7 92.6,132.7 93.1,132.7 93.6,132.7 94.1,132.7 94.6,132.7 95.1,132.7 95.6,132.7 96.1,132.7 96.6,132.7 97.1,132.7 97.6,132.7 98.1,132.7 98.6,132.7 99.1,132.7 99.6,132.7 100.1,132.7 100.6,132.7 101.1,132.7 101.6,132.7 102.1,132.7 102.6,132.7 103.1,132.7 103.6,132.7 104.1,132.7 104.6,132.7 105.1,132.7 105.6,132.7 106.1,132.7 106.6,132.7 107.1,132.7 107.6,132.7 108.1,132.7 108.6,132.7 109.1,132.7 109.6,132.7 110.1,132.7 110.6,132.7 111.1,132.7 111.6,132.7 112.1,132.7 112.6,132.7 113.1,132.7 113.6,132.7 114.1,132.7 114.6,132.7 115.1,132.7 115.6,132.7 116.1,132.7 116.6,132.7 117.1,132.7 117.6,132.7 118.1,132.7 118.6,132.7 119.1,132.7 119.6,132.7 120.1,132.7 120.6,132.7 121.1,132.7 121.6,132.7 122.1,132.7 122.6,132.7 123.1,132.7 123.6,132.7 124.1,132.7 124.6,132.7 125.1,132.7 125.6,132.7 126.1,132.7 126.6,132.7 127.1,132.7 127.6,132.7 128.1,132.7 128.6,132.7 129.1,132.7 129.6,132.7 130.1,132.7 130.6,132.7 131.1,132.7 131.6,132.7 132.1,132.7 132.6,132.7 133.1,132.7 133.6,132.7 134.1,132.7 134.6,132.7 135.1,132.7 135.6,132.7 136.1,132.7 136.6,132.7 137.1,132.7 137.6,132.7 138.1,132.7 138.6,132.7 139.1,132.7 139.6,132.7 140.0,132.7 140.5,132.6 141.0,132.6 141.5,132.6 142.0,132.5 142.5,132.5 143.0,132.4 143.5,132.4 144.0,132.4 144.5,132.3 145.0,132.3 145.5,132.2 146.0,132.2 146.5,132.1 147.0,132.1 147.5,132.0 148.0,131.9 148.5,131.8 149.0,131.8 149.5,131.7 150.0,131.6 150.5,131.6 151.0,131.5 151.5,131.4 152.0,131.3 152.5,131.3 153.0,131.2 153.5,131.1 154.0,131.1 154.5,131.0 155.0,130.9 155.5,130.9 156.0,130.9 156.5,130.9 157.0,130.9 157.5,130.8 158.0,130.8 158.5,130.8 159.0,130.8 159.5,130.8 160.0,130.8 160.5,130.8 161.0,130.8 161.5,130.8 162.0,130.7 162.5,130.7 163.0,130.7 163.5,130.8 164.0,130.9 164.5,131.0 165.0,131.2 165.5,131.4 166.0,131.7 166.5,132.0 167.0,132.5 167.5,133.2 168.0,134.0 168.5,134.9 169.0,135.8 169.5,136.8 170.0,137.7 170.5,138.7 171.0,139.6 171.5,140.6 172.0,141.5 172.5,142.5 173.0,143.4 173.5,144.4 174.0,145.3 174.5,146.3 175.0,147.2 175.5,148.2 176.0,149.1 176.5,150.1 177.0,150.9 177.5,151.6 178.0,152.0 178.5,151.9 179.0,151.3 179.5,150.5 180.0,149.4 180.5,148.2 181.0,147.1 181.5,145.9 182.0,144.7 182.5,143.5 183.0,142.3 183.5,141.1 184.0,139.9 184.5,138.8 185.0,137.8 185.5,136.8 186.0,135.9 186.5,135.1 187.0,134.3 187.5,133.5 188.0,132.7 188.5,131.8 189.0,131.0 189.5,130.2 190.0,129.5 190.5,128.7 191.0,128.1 191.5,127.6 192.0,127.3 192.5,127.2 193.0,127.1 193.5,127.2 194.0,127.2 194.5,127.2 195.0,127.3 195.5,127.3 196.0,127.3 196.5,127.4 197.0,127.4 197.5,127.5 198.0,127.6 198.5,127.7 199.0,127.8 199.5,127.9 200.0,128.1 200.5,128.2 201.0,128.4 201.5,128.5 202.0,128.6 202.5,128.8 203.0,128.9 203.5,129.1 204.0,129.2 204.5,129.4 205.0,129.5 205.5,129.7 206.0,129.8 206.5,130.0 207.0,130.2 207.5,130.3 208.0,130.5 208.5,130.7 209.0,130.8 209.5,131.0 210.0,131.2 210.5,131.3 211.0,131.4 211.5,131.5 212.0,131.6 212.5,131.6 213.0,131.7 213.5,131.7 214.0,131.8 214.5,131.8 215.0,131.9 215.5,131.9 216.0,132.0 216.5,132.0 217.0,132.1" fill="none" stroke="#ee38e0" stroke-width="1.35" stroke-linejoin="round" stroke-linecap="round"/>
<polyline points="31.6,142.6 32.1,142.6 32.6,142.6 33.1,142.6 33.6,142.6 34.1,142.6 34.6,142.6 35.1,142.6 35.6,142.6 36.1,142.6 36.6,142.6 37.1,142.6 37.6,142.6 38.1,142.6 38.6,142.6 39.1,142.6 39.6,142.6 40.1,142.6 40.6,142.6 41.1,142.6 41.6,142.6 42.1,142.6 42.6,142.6 43.1,142.6 43.6,142.6 44.1,142.6 44.6,142.6 45.1,142.6 45.6,142.6 46.1,142.6 46.6,142.6 47.1,142.6 47.6,142.6 48.1,142.6 48.6,142.6 49.1,142.6 49.6,142.6 50.1,142.6 50.6,142.6 51.1,142.6 51.6,142.6 52.1,142.6 52.6,142.6 53.1,142.6 53.6,142.5 54.1,142.5 54.6,142.5 55.1,142.5 55.6,142.5 56.1,142.5 56.6,142.5 57.1,142.5 57.6,142.5 58.1,142.5 58.6,142.5 59.1,142.5 59.6,142.5 60.1,142.5 60.6,142.5 61.1,142.5 61.6,142.5 62.1,142.5 62.6,142.5 63.1,142.5 63.6,142.5 64.1,142.5 64.6,142.5 65.1,142.5 65.6,142.5 66.1,142.4 66.6,142.4 67.1,142.4 67.6,142.4 68.1,142.4 68.6,142.4 69.1,142.4 69.6,142.4 70.1,142.4 70.6,142.4 71.1,142.4 71.6,142.4 72.1,142.4 72.6,142.4 73.1,142.4 73.6,142.4 74.1,142.4 74.6,142.4 75.1,142.4 75.6,142.4 76.1,142.4 76.6,142.4 77.1,142.4 77.6,142.4 78.1,142.4 78.6,142.3 79.1,142.3 79.6,142.3 80.1,142.3 80.6,142.3 81.1,142.3 81.6,142.3 82.1,142.3 82.6,142.3 83.1,142.3 83.6,142.3 84.1,142.3 84.6,142.3 85.1,142.3 85.6,142.2 86.1,142.2 86.6,142.2 87.1,142.2 87.6,142.2 88.1,142.2 88.6,142.2 89.1,142.1 89.6,142.1 90.1,142.1 90.6,142.1 91.1,142.1 91.6,142.1 92.1,142.1 92.6,142.1 93.1,142.1 93.6,142.1 94.1,142.1 94.6,142.1 95.1,142.1 95.6,142.1 96.1,142.1 96.6,142.1 97.1,142.1 97.6,142.1 98.1,142.1 98.6,142.1 99.1,142.1 99.6,142.0 100.1,142.0 100.6,142.0 101.1,142.0 101.6,142.0 102.1,142.0 102.6,142.0 103.1,142.0 103.6,142.0 104.1,142.0 104.6,142.0 105.1,142.0 105.6,142.0 106.1,142.0 106.6,142.0 107.1,142.0 107.6,142.0 108.1,142.0 108.6,142.0 109.1,142.0 109.6,142.0 110.1,142.0 110.6,142.0 111.1,142.0 111.6,142.0 112.1,142.0 112.6,142.0 113.1,142.0 113.6,142.0 114.1,142.0 114.6,142.0 115.1,142.0 115.6,142.0 116.1,142.0 116.6,142.0 117.1,142.0 117.6,142.0 118.1,142.0 118.6,142.0 119.1,142.0 119.6,142.0 120.1,142.0 120.6,142.0 121.1,141.9 121.6,141.9 122.1,141.9 122.6,141.9 123.1,141.9 123.6,141.9 124.1,141.9 124.6,141.9 125.1,141.9 125.6,141.9 126.1,141.9 126.6,141.9 127.1,141.9 127.6,141.9 128.1,141.9 128.6,141.9 129.1,141.9 129.6,141.9 130.1,141.9 130.6,141.9 131.1,141.9 131.6,141.9 132.1,141.9 132.6,141.9 133.1,141.9 133.6,141.9 134.1,141.9 134.6,141.9 135.1,141.9 135.6,141.9 136.1,141.9 136.6,141.9 137.1,141.9 137.6,141.9 138.1,141.9 138.6,141.9 139.1,141.9 139.6,141.9 140.0,141.9 140.5,141.9 141.0,141.9 141.5,141.8 142.0,141.8 142.5,141.8 143.0,141.8 143.5,141.8 144.0,141.8 144.5,141.8 145.0,141.7 145.5,141.7 146.0,141.7 146.5,141.7 147.0,141.7 147.5,141.7 148.0,141.7 148.5,141.6 149.0,141.6 149.5,141.6 150.0,141.6 150.5,141.6 151.0,141.6 151.5,141.6 152.0,141.6 152.5,141.6 153.0,141.5 153.5,141.5 154.0,141.5 154.5,141.5 155.0,141.5 155.5,141.5 156.0,141.5 156.5,141.5 157.0,141.5 157.5,141.5 158.0,141.5 158.5,141.5 159.0,141.6 159.5,141.6 160.0,141.6 160.5,141.6 161.0,141.6 161.5,141.6 162.0,141.6 162.5,141.6 163.0,141.7 163.5,141.8 164.0,142.0 164.5,142.1 165.0,142.3 165.5,142.5 166.0,142.7 166.5,143.0 167.0,143.4 167.5,143.8 168.0,144.4 168.5,145.1 169.0,145.7 169.5,146.4 170.0,147.1 170.5,147.8 171.0,148.5 171.5,149.1 172.0,149.8 172.5,150.5 173.0,151.2 173.5,151.9 174.0,152.6 174.5,153.3 175.0,154.1 175.5,154.8 176.0,155.4 176.5,156.1 177.0,156.5 177.5,156.6 178.0,156.4 178.5,155.7 179.0,154.8 179.5,153.8 180.0,152.7 180.5,151.6 181.0,150.4 181.5,149.3 182.0,148.2 182.5,147.0 183.0,145.9 183.5,144.8 184.0,143.8 184.5,143.0 185.0,142.3 185.5,141.7 186.0,141.1 186.5,140.6 187.0,140.2 187.5,139.7 188.0,139.3 188.5,138.8 189.0,138.3 189.5,137.9 190.0,137.4 190.5,136.9 191.0,136.5 191.5,136.0 192.0,135.7 192.5,135.4 193.0,135.2 193.5,135.2 194.0,135.2 194.5,135.3 195.0,135.5 195.5,135.6 196.0,135.8 196.5,135.9 197.0,136.1 197.5,136.2 198.0,136.4 198.5,136.5 199.0,136.7 199.5,136.9 200.0,137.0 200.5,137.2 201.0,137.4 201.5,137.5 202.0,137.7 202.5,137.9 203.0,138.1 203.5,138.2 204.0,138.4 204.5,138.6 205.0,138.8 205.5,139.0 206.0,139.1 206.5,139.3 207.0,139.5 207.5,139.6 208.0,139.8 208.5,139.9 209.0,140.1 209.5,140.2 210.0,140.4 210.5,140.5 211.0,140.7 211.5,140.8 212.0,140.9 212.5,141.0 213.0,141.1 213.5,141.1 214.0,141.2 214.5,141.2 215.0,141.3 215.5,141.3 216.0,141.4 216.5,141.4 217.0,141.5" fill="none" stroke="#3a4ad2" stroke-width="1.35" stroke-linejoin="round" stroke-linecap="round"/>
<polyline points="31.6,151.1 32.1,151.1 32.6,151.1 33.1,151.1 33.6,151.1 34.1,151.1 34.6,151.1 35.1,151.1 35.6,151.1 36.1,151.1 36.6,151.1 37.1,151.1 37.6,151.1 38.1,151.1 38.6,151.1 39.1,151.1 39.6,151.1 40.1,151.1 40.6,151.1 41.1,151.1 41.6,151.1 42.1,151.1 42.6,151.1 43.1,151.1 43.6,151.1 44.1,151.1 44.6,151.1 45.1,151.1 45.6,151.1 46.1,151.1 46.6,151.1 47.1,151.1 47.6,151.1 48.1,151.1 48.6,151.1 49.1,151.1 49.6,151.1 50.1,151.1 50.6,151.1 51.1,151.1 51.6,151.1 52.1,151.1 52.6,151.1 53.1,151.1 53.6,151.0 54.1,151.0 54.6,151.0 55.1,151.0 55.6,151.0 56.1,151.0 56.6,151.0 57.1,151.0 57.6,151.0 58.1,151.0 58.6,151.0 59.1,151.0 59.6,151.0 60.1,151.0 60.6,151.0 61.1,151.0 61.6,151.0 62.1,151.0 62.6,151.0 63.1,151.0 63.6,151.0 64.1,151.0 64.6,151.0 65.1,151.0 65.6,151.0 66.1,150.9 66.6,150.9 67.1,150.9 67.6,150.9 68.1,150.9 68.6,150.9 69.1,150.9 69.6,150.9 70.1,150.9 70.6,150.9 71.1,150.9 71.6,150.9 72.1,150.9 72.6,150.9 73.1,150.9 73.6,150.9 74.1,150.9 74.6,150.9 75.1,150.9 75.6,150.9 76.1,150.9 76.6,150.9 77.1,150.9 77.6,150.9 78.1,150.9 78.6,150.8 79.1,150.8 79.6,150.8 80.1,150.8 80.6,150.8 81.1,150.8 81.6,150.8 82.1,150.8 82.6,150.8 83.1,150.8 83.6,150.8 84.1,150.8 84.6,150.8 85.1,150.8 85.6,150.7 86.1,150.7 86.6,150.7 87.1,150.7 87.6,150.7 88.1,150.7 88.6,150.7 89.1,150.6 89.6,150.6 90.1,150.6 90.6,150.6 91.1,150.6 91.6,150.6 92.1,150.6 92.6,150.6 93.1,150.6 93.6,150.6 94.1,150.6 94.6,150.6 95.1,150.6 95.6,150.6 96.1,150.6 96.6,150.6 97.1,150.6 97.6,150.6 98.1,150.6 98.6,150.6 99.1,150.6 99.6,150.5 100.1,150.5 100.6,150.5 101.1,150.5 101.6,150.5 102.1,150.5 102.6,150.5 103.1,150.5 103.6,150.5 104.1,150.5 104.6,150.5 105.1,150.5 105.6,150.5 106.1,150.5 106.6,150.5 107.1,150.5 107.6,150.5 108.1,150.5 108.6,150.5 109.1,150.5 109.6,150.5 110.1,150.5 110.6,150.5 111.1,150.5 111.6,150.5 112.1,150.5 112.6,150.5 113.1,150.5 113.6,150.5 114.1,150.5 114.6,150.5 115.1,150.5 115.6,150.5 116.1,150.5 116.6,150.5 117.1,150.5 117.6,150.5 118.1,150.5 118.6,150.5 119.1,150.5 119.6,150.5 120.1,150.5 120.6,150.5 121.1,150.4 121.6,150.4 122.1,150.4 122.6,150.4 123.1,150.4 123.6,150.4 124.1,150.4 124.6,150.4 125.1,150.4 125.6,150.4 126.1,150.4 126.6,150.4 127.1,150.4 127.6,150.4 128.1,150.4 128.6,150.4 129.1,150.4 129.6,150.4 130.1,150.4 130.6,150.4 131.1,150.4 131.6,150.4 132.1,150.4 132.6,150.4 133.1,150.4 133.6,150.4 134.1,150.4 134.6,150.4 135.1,150.4 135.6,150.4 136.1,150.4 136.6,150.4 137.1,150.4 137.6,150.4 138.1,150.4 138.6,150.4 139.1,150.4 139.6,150.4 140.0,150.4 140.5,150.4 141.0,150.4 141.5,150.3 142.0,150.3 142.5,150.3 143.0,150.3 143.5,150.3 144.0,150.3 144.5,150.2 145.0,150.2 145.5,150.2 146.0,150.2 146.5,150.2 147.0,150.2 147.5,150.1 148.0,150.1 148.5,150.1 149.0,150.1 149.5,150.0 150.0,150.0 150.5,150.0 151.0,150.0 151.5,150.0 152.0,149.9 152.5,149.9 153.0,149.9 153.5,149.9 154.0,149.8 154.5,149.8 155.0,149.8 155.5,149.8 156.0,149.8 156.5,149.8 157.0,149.9 157.5,149.9 158.0,149.9 158.5,149.9 159.0,149.9 159.5,149.9 160.0,149.9 160.5,149.9 161.0,150.0 161.5,150.0 162.0,150.0 162.5,150.0 163.0,150.1 163.5,150.2 164.0,150.3 164.5,150.5 165.0,150.6 165.5,150.8 166.0,150.9 166.5,151.2 167.0,151.4 167.5,151.8 168.0,152.2 168.5,152.7 169.0,153.1 169.5,153.6 170.0,154.1 170.5,154.6 171.0,155.1 171.5,155.5 172.0,156.0 172.5,156.5 173.0,157.0 173.5,157.5 174.0,158.0 174.5,158.5 175.0,159.0 175.5,159.5 176.0,159.8 176.5,160.1 177.0,160.1 177.5,159.8 178.0,159.2 178.5,158.5 179.0,157.8 179.5,157.0 180.0,156.2 180.5,155.3 181.0,154.5 181.5,153.7 182.0,152.9 182.5,152.2 183.0,151.4 183.5,150.8 184.0,150.3 184.5,149.8 185.0,149.4 185.5,149.0 186.0,148.6 186.5,148.3 187.0,147.9 187.5,147.5 188.0,147.1 188.5,146.8 189.0,146.4 189.5,146.0 190.0,145.6 190.5,145.3 191.0,145.0 191.5,144.8 192.0,144.7 192.5,144.7 193.0,144.7 193.5,144.8 194.0,144.8 194.5,144.9 195.0,145.0 195.5,145.0 196.0,145.1 196.5,145.2 197.0,145.2 197.5,145.3 198.0,145.4 198.5,145.5 199.0,145.5 199.5,145.6 200.0,145.8 200.5,145.9 201.0,146.0 201.5,146.1 202.0,146.3 202.5,146.4 203.0,146.5 203.5,146.6 204.0,146.8 204.5,146.9 205.0,147.0 205.5,147.1 206.0,147.3 206.5,147.4 207.0,147.5 207.5,147.7 208.0,147.8 208.5,148.0 209.0,148.1 209.5,148.2 210.0,148.4 210.5,148.5 211.0,148.7 211.5,148.8 212.0,148.9 212.5,149.0 213.0,149.0 213.5,149.1 214.0,149.1 214.5,149.1 215.0,149.2 215.5,149.2 216.0,149.2 216.5,149.3 217.0,149.3" fill="none" stroke="#e84a4a" stroke-width="1.35" stroke-linejoin="round" stroke-linecap="round"/>
<polyline points="31.6,157.7 32.1,157.7 32.6,157.7 33.1,157.7 33.6,157.7 34.1,157.7 34.6,157.7 35.1,157.7 35.6,157.7 36.1,157.7 36.6,157.7 37.1,157.7 37.6,157.7 38.1,157.7 38.6,157.7 39.1,157.7 39.6,157.7 40.1,157.7 40.6,157.7 41.1,157.7 41.6,157.7 42.1,157.7 42.6,157.7 43.1,157.7 43.6,157.7 44.1,157.7 44.6,157.7 45.1,157.7 45.6,157.7 46.1,157.7 46.6,157.7 47.1,157.7 47.6,157.7 48.1,157.7 48.6,157.7 49.1,157.7 49.6,157.7 50.1,157.7 50.6,157.7 51.1,157.7 51.6,157.7 52.1,157.7 52.6,157.7 53.1,157.7 53.6,157.6 54.1,157.6 54.6,157.6 55.1,157.6 55.6,157.6 56.1,157.6 56.6,157.6 57.1,157.6 57.6,157.6 58.1,157.6 58.6,157.6 59.1,157.6 59.6,157.6 60.1,157.6 60.6,157.6 61.1,157.6 61.6,157.6 62.1,157.6 62.6,157.6 63.1,157.6 63.6,157.6 64.1,157.6 64.6,157.6 65.1,157.6 65.6,157.6 66.1,157.5 66.6,157.5 67.1,157.5 67.6,157.5 68.1,157.5 68.6,157.5 69.1,157.5 69.6,157.5 70.1,157.5 70.6,157.5 71.1,157.5 71.6,157.5 72.1,157.5 72.6,157.5 73.1,157.5 73.6,157.5 74.1,157.5 74.6,157.5 75.1,157.5 75.6,157.5 76.1,157.5 76.6,157.5 77.1,157.5 77.6,157.5 78.1,157.5 78.6,157.4 79.1,157.4 79.6,157.4 80.1,157.4 80.6,157.4 81.1,157.4 81.6,157.4 82.1,157.4 82.6,157.4 83.1,157.4 83.6,157.4 84.1,157.4 84.6,157.4 85.1,157.3 85.6,157.3 86.1,157.3 86.6,157.3 87.1,157.3 87.6,157.3 88.1,157.3 88.6,157.3 89.1,157.3 89.6,157.3 90.1,157.3 90.6,157.3 91.1,157.3 91.6,157.3 92.1,157.3 92.6,157.3 93.1,157.3 93.6,157.3 94.1,157.3 94.6,157.3 95.1,157.3 95.6,157.3 96.1,157.3 96.6,157.3 97.1,157.3 97.6,157.3 98.1,157.3 98.6,157.3 99.1,157.3 99.6,157.3 100.1,157.3 100.6,157.3 101.1,157.3 101.6,157.3 102.1,157.3 102.6,157.3 103.1,157.3 103.6,157.3 104.1,157.3 104.6,157.3 105.1,157.3 105.6,157.3 106.1,157.3 106.6,157.3 107.1,157.3 107.6,157.3 108.1,157.3 108.6,157.3 109.1,157.3 109.6,157.3 110.1,157.3 110.6,157.3 111.1,157.3 111.6,157.3 112.1,157.3 112.6,157.3 113.1,157.3 113.6,157.3 114.1,157.3 114.6,157.3 115.1,157.3 115.6,157.3 116.1,157.3 116.6,157.3 117.1,157.3 117.6,157.3 118.1,157.3 118.6,157.3 119.1,157.3 119.6,157.3 120.1,157.3 120.6,157.3 121.1,157.3 121.6,157.3 122.1,157.3 122.6,157.3 123.1,157.3 123.6,157.3 124.1,157.3 124.6,157.3 125.1,157.3 125.6,157.3 126.1,157.3 126.6,157.3 127.1,157.3 127.6,157.3 128.1,157.3 128.6,157.3 129.1,157.3 129.6,157.3 130.1,157.4 130.6,157.4 131.1,157.4 131.6,157.4 132.1,157.4 132.6,157.4 133.1,157.4 133.6,157.4 134.1,157.4 134.6,157.4 135.1,157.4 135.6,157.4 136.1,157.4 136.6,157.4 137.1,157.4 137.6,157.4 138.1,157.4 138.6,157.4 139.1,157.4 139.6,157.4 140.0,157.4 140.5,157.4 141.0,157.4 141.5,157.4 142.0,157.4 142.5,157.4 143.0,157.5 143.5,157.5 144.0,157.5 144.5,157.5 145.0,157.5 145.5,157.5 146.0,157.5 146.5,157.5 147.0,157.5 147.5,157.6 148.0,157.6 148.5,157.6 149.0,157.6 149.5,157.6 150.0,157.6 150.5,157.7 151.0,157.7 151.5,157.7 152.0,157.7 152.5,157.7 153.0,157.7 153.5,157.8 154.0,157.8 154.5,157.8 155.0,157.8 155.5,157.8 156.0,157.9 156.5,157.9 157.0,157.9 157.5,158.0 158.0,158.0 158.5,158.0 159.0,158.1 159.5,158.1 160.0,158.1 160.5,158.2 161.0,158.2 161.5,158.2 162.0,158.2 162.5,158.3 163.0,158.3 163.5,158.3 164.0,158.4 164.5,158.4 165.0,158.5 165.5,158.5 166.0,158.6 166.5,158.8 167.0,158.9 167.5,159.1 168.0,159.3 168.5,159.5 169.0,159.8 169.5,160.0 170.0,160.2 170.5,160.4 171.0,160.6 171.5,160.8 172.0,161.0 172.5,161.2 173.0,161.4 173.5,161.6 174.0,161.8 174.5,162.0 175.0,162.1 175.5,162.3 176.0,162.3 176.5,162.3 177.0,162.2 177.5,161.9 178.0,161.6 178.5,161.3 179.0,161.0 179.5,160.7 180.0,160.3 180.5,160.0 181.0,159.7 181.5,159.3 182.0,159.0 182.5,158.7 183.0,158.4 183.5,158.1 184.0,157.8 184.5,157.5 185.0,157.2 185.5,156.9 186.0,156.6 186.5,156.4 187.0,156.1 187.5,155.9 188.0,155.8 188.5,155.6 189.0,155.5 189.5,155.4 190.0,155.2 190.5,155.1 191.0,155.0 191.5,154.8 192.0,154.7 192.5,154.7 193.0,154.6 193.5,154.6 194.0,154.7 194.5,154.7 195.0,154.8 195.5,154.9 196.0,154.9 196.5,155.0 197.0,155.1 197.5,155.2 198.0,155.2 198.5,155.3 199.0,155.4 199.5,155.4 200.0,155.5 200.5,155.6 201.0,155.6 201.5,155.7 202.0,155.8 202.5,155.9 203.0,155.9 203.5,156.0 204.0,156.1 204.5,156.1 205.0,156.2 205.5,156.3 206.0,156.3 206.5,156.4 207.0,156.5 207.5,156.5 208.0,156.5 208.5,156.5 209.0,156.5 209.5,156.5 210.0,156.5 210.5,156.5 211.0,156.5 211.5,156.5 212.0,156.6 212.5,156.6 213.0,156.6 213.5,156.6 214.0,156.6 214.5,156.6 215.0,156.6 215.5,156.6 216.0,156.6 216.5,156.6 217.0,156.6" fill="none" stroke="#333333" stroke-width="1.35" stroke-linejoin="round" stroke-linecap="round"/>
<line x1="31.6" y1="164.8" x2="217" y2="164.8" stroke="#222" stroke-width="1"/>
<line x1="31.6" y1="164.8" x2="31.6" y2="168" stroke="#222" stroke-width="0.9"/>
<line x1="48.46" y1="164.8" x2="48.46" y2="167" stroke="#222" stroke-width="0.9"/>
<line x1="65.32" y1="164.8" x2="65.32" y2="168" stroke="#222" stroke-width="0.9"/>
<line x1="82.18" y1="164.8" x2="82.18" y2="167" stroke="#222" stroke-width="0.9"/>
<line x1="99.04" y1="164.8" x2="99.04" y2="168" stroke="#222" stroke-width="0.9"/>
<line x1="115.9" y1="164.8" x2="115.9" y2="167" stroke="#222" stroke-width="0.9"/>
<line x1="132.76" y1="164.8" x2="132.76" y2="168" stroke="#222" stroke-width="0.9"/>
<line x1="149.62" y1="164.8" x2="149.62" y2="167" stroke="#222" stroke-width="0.9"/>
<line x1="166.48" y1="164.8" x2="166.48" y2="168" stroke="#222" stroke-width="0.9"/>
<line x1="183.34" y1="164.8" x2="183.34" y2="167" stroke="#222" stroke-width="0.9"/>
<line x1="200.2" y1="164.8" x2="200.2" y2="168" stroke="#222" stroke-width="0.9"/>
<line x1="217.06" y1="164.8" x2="217.06" y2="167" stroke="#222" stroke-width="0.9"/>
<text x="31.6" y="177.6" font-size="10" fill="#111" text-anchor="middle" stroke="#111" stroke-width="0.3">2400</text>
<text x="65.32" y="177.6" font-size="10" fill="#111" text-anchor="middle" stroke="#111" stroke-width="0.3">2200</text>
<text x="99.04" y="177.6" font-size="10" fill="#111" text-anchor="middle" stroke="#111" stroke-width="0.3">2000</text>
<text x="132.76" y="177.6" font-size="10" fill="#111" text-anchor="middle" stroke="#111" stroke-width="0.3">1800</text>
<text x="166.48" y="177.6" font-size="10" fill="#111" text-anchor="middle" stroke="#111" stroke-width="0.3">1600</text>
<text x="200.2" y="177.6" font-size="10" fill="#111" text-anchor="middle" stroke="#111" stroke-width="0.3">1400</text>
<text x="76.3" y="190.8" font-size="11" fill="#111" stroke="#111" stroke-width="0.3">Wavenumber (cm<tspan font-size="6.6" dy="-4.5">-1</tspan><tspan dy="4.5">)</tspan></text>
<text x="4.6" y="18" font-size="13" font-weight="bold" fill="#111" textLength="16" lengthAdjust="spacingAndGlyphs" stroke="#111" stroke-width="0.3">(a)</text>
<text x="29.5" y="25.6" font-size="9.8" fill="#222" textLength="19" lengthAdjust="spacingAndGlyphs" stroke="#222" stroke-width="0.3">Abs.</text>
<line x1="50.6" y1="12.1" x2="50.6" y2="33.8" stroke="#444" stroke-width="1.1"/>
<text x="52.7" y="25.6" font-size="9.8" fill="#222" textLength="24" lengthAdjust="spacingAndGlyphs" stroke="#222" stroke-width="0.3">0.005</text>
<text x="92.4" y="34.3" font-size="7.4" fill="#222" textLength="16.2" lengthAdjust="spacingAndGlyphs" stroke="#222" stroke-width="0.3">2078</text>
<line x1="85.2" y1="37.4" x2="91.6" y2="32.6" stroke="#222" stroke-width="0.7"/>
<text x="62.4" y="64.6" font-size="7.4" fill="#222" textLength="16.1" lengthAdjust="spacingAndGlyphs" stroke="#222" stroke-width="0.3">2083</text>
<line x1="78.5" y1="59.8" x2="84.7" y2="52" stroke="#222" stroke-width="0.7"/>
<text x="14.1" y="84.3" font-size="7.4" fill="#222" textLength="16.3" lengthAdjust="spacingAndGlyphs" stroke="#222" stroke-width="0.3">2343</text>
<line x1="22.4" y1="78" x2="41.3" y2="54" stroke="#222" stroke-width="0.7"/>
<line x1="22.4" y1="86" x2="39.9" y2="104.3" stroke="#222" stroke-width="0.7"/>
<text x="96.3" y="99" font-size="7.4" fill="#222" textLength="16.2" lengthAdjust="spacingAndGlyphs" stroke="#222" stroke-width="0.3">2052</text>
<line x1="90" y1="100.7" x2="95.5" y2="96.9" stroke="#222" stroke-width="0.7"/>
<text x="119.5" y="50.8" font-size="7.4" fill="#222" textLength="16.2" lengthAdjust="spacingAndGlyphs" stroke="#222" stroke-width="0.3">1725</text>
<path d="M136.6,48.6 q2,-1.4 3.5,0 t3.6,0.8" fill="none" stroke="#222" stroke-width="0.7"/>
<text x="123.3" y="91.7" font-size="7.4" fill="#222" textLength="16.2" lengthAdjust="spacingAndGlyphs" stroke="#222" stroke-width="0.3">1717</text>
<path d="M140.2,88.6 q2,-0.8 3.5,1 t2.4,1.4" fill="none" stroke="#222" stroke-width="0.7"/>
<text x="149.8" y="32" font-size="7.4" fill="#222" textLength="16.4" lengthAdjust="spacingAndGlyphs" stroke="#222" stroke-width="0.3">1600</text>
<text x="173.5" y="46.8" font-size="7.4" fill="#222" textLength="16.2" lengthAdjust="spacingAndGlyphs" stroke="#222" stroke-width="0.3">1517</text>
<text x="181" y="15.4" font-size="7.4" fill="#222" textLength="15.7" lengthAdjust="spacingAndGlyphs" stroke="#222" stroke-width="0.3">1394</text>
<text x="182.7" y="66" font-size="7.4" fill="#222" textLength="15.7" lengthAdjust="spacingAndGlyphs" stroke="#222" stroke-width="0.3">1402</text>
<text x="206.3" y="69.5" font-size="7.4" fill="#222" textLength="15.7" lengthAdjust="spacingAndGlyphs" stroke="#222" stroke-width="0.3">1379</text>
<text x="147" y="129.3" font-size="7.4" fill="#222" textLength="15.7" lengthAdjust="spacingAndGlyphs" stroke="#222" stroke-width="0.3">1618</text>
<text x="154.8" y="163.7" font-size="7.4" fill="#222" textLength="15" lengthAdjust="spacingAndGlyphs" stroke="#222" stroke-width="0.3">1544</text>
<line x1="146.1" y1="92" x2="146.1" y2="46.6" stroke="#111" stroke-width="0.8"/>
<polygon points="146.1,46.1 144.8,49.8 147.4,49.8" fill="#111"/>
<line x1="143.6" y1="91.6" x2="146.1" y2="92" stroke="#111" stroke-width="0.7"/>
<line x1="164.4" y1="121.5" x2="167.5" y2="30.8" stroke="#111" stroke-width="0.8"/>
<polygon points="167.5,30.3 166.2,34 168.8,34" fill="#111"/>
<line x1="162.9" y1="124.2" x2="164.4" y2="121.5" stroke="#111" stroke-width="0.6"/>
<line x1="180" y1="155" x2="180.5" y2="47.6" stroke="#111" stroke-width="0.8"/>
<polygon points="180.5,47.1 179.2,50.8 181.8,50.8" fill="#111"/>
<line x1="201.3" y1="60" x2="201.4" y2="8.6" stroke="#111" stroke-width="0.8"/>
<polygon points="201.4,8.1 200.1,11.8 202.7,11.8" fill="#111"/>
<line x1="200.2" y1="97.4" x2="200.2" y2="60.5" stroke="#111" stroke-width="0.8"/>
<polygon points="200.2,60 198.9,63.7 201.5,63.7" fill="#111"/>
<line x1="204.2" y1="108.8" x2="204.2" y2="60.5" stroke="#111" stroke-width="0.8"/>
<polygon points="204.2,60 202.9,63.7 205.5,63.7" fill="#111"/>
<path d="M170,161.6 L175.5,162.4" fill="none" stroke="#111" stroke-width="0.6"/>
<text x="218.2" y="39.8" font-size="9.8" fill="#111" textLength="22.6" lengthAdjust="spacingAndGlyphs" stroke="#111" stroke-width="0.3">-1.3 V</text>
<text x="218.7" y="102.7" font-size="9.8" fill="#111" textLength="22.1" lengthAdjust="spacingAndGlyphs" stroke="#111" stroke-width="0.3">-0.5 V</text>
<text x="219.4" y="160.8" font-size="9.8" fill="#111" textLength="21.4" lengthAdjust="spacingAndGlyphs" stroke="#111" stroke-width="0.3">0.2 V</text>
<line x1="246.4" y1="36.5" x2="246.4" y2="161.9" stroke="#222" stroke-width="0.9"/>
<polygon points="246.4,33.6 244.9,37.6 247.9,37.6" fill="#222"/>
<polyline points="284.1,58.1 284.6,57.7 285.1,57.5 285.6,57.7 286.1,57.9 286.6,58.0 287.1,57.9 287.6,57.9 288.1,58.2 288.6,58.4 289.1,58.3 289.6,58.2 290.1,58.3 290.6,58.5 291.1,58.6 291.6,58.5 292.1,58.5 292.6,58.5 293.1,58.2 293.6,58.1 294.1,58.3 294.6,58.2 295.1,58.0 295.6,58.1 296.1,58.3 296.6,58.2 297.1,58.3 297.6,58.8 298.1,59.1 298.6,59.0 299.1,58.9 299.6,59.2 300.1,59.3 300.6,59.3 301.1,59.4 301.6,59.5 302.1,59.2 302.6,59.1 303.1,59.3 303.6,59.5 304.1,59.4 304.6,59.1 305.1,58.8 305.6,58.8 306.1,58.8 306.6,59.2 307.1,59.5 307.6,59.6 308.1,59.9 308.6,60.1 309.1,60.0 309.6,59.9 310.1,59.7 310.6,59.5 311.1,59.6 311.6,59.6 312.1,59.4 312.6,59.5 313.1,59.7 313.6,59.8 314.1,59.8 314.6,59.7 315.1,59.7 315.6,59.7 316.1,59.9 316.6,59.9 317.1,60.0 317.6,60.0 318.1,60.2 318.6,60.2 319.1,60.2 319.6,60.4 320.1,60.7 320.6,60.5 321.1,60.1 321.6,60.2 322.1,60.3 322.6,60.1 323.1,60.1 323.6,60.2 324.1,60.2 324.6,60.4 325.1,60.4 325.6,60.0 326.1,59.9 326.6,60.0 327.1,60.6 327.6,61.1 328.1,61.0 328.6,60.4 329.1,60.4 329.6,60.9 330.1,61.2 330.6,60.9 331.1,60.7 331.6,60.7 332.1,60.7 332.6,60.6 333.1,60.6 333.6,60.8 334.1,60.9 334.6,60.8 335.1,60.6 335.6,60.5 336.1,60.8 336.6,61.1 337.1,60.9 337.6,60.8 338.1,61.3 338.6,61.6 339.1,61.7 339.6,61.2 340.1,60.8 340.6,60.8 341.1,61.5 341.6,61.6 342.1,61.1 342.6,60.7 343.1,60.7 343.6,60.5 344.1,60.4 344.6,60.5 345.1,60.7 345.6,60.8 346.1,60.7 346.6,60.5 347.1,60.1 347.6,59.6 348.1,59.0 348.6,59.0 349.1,59.4 349.6,59.7 350.1,60.1 350.6,60.6 351.1,61.0 351.6,61.2 352.1,61.0 352.6,60.6 353.1,60.1 353.6,59.8 354.1,59.6 354.6,59.4 355.1,59.6 355.6,59.9 356.1,60.1 356.6,60.1 357.1,60.2 357.6,60.8 358.1,61.4 358.6,61.8 359.1,61.7 359.6,61.6 360.1,61.9 360.6,62.5 361.1,62.9 361.6,63.1 362.1,63.0 362.6,62.5 363.1,62.5 363.6,62.6 364.1,62.8 364.6,62.8 365.1,62.7 365.6,62.4 366.1,62.2 366.6,62.2 367.1,62.3 367.6,62.3 368.1,62.2 368.6,62.1 369.1,61.7 369.6,61.2 370.1,60.6 370.6,59.8 371.1,58.9 371.6,58.0 372.1,57.1 372.6,56.3 373.1,55.4 373.6,54.4 374.1,53.2 374.6,52.2 375.1,51.0 375.6,49.9 376.1,49.0 376.6,48.1 377.1,47.2 377.6,45.9 378.1,44.8 378.6,44.2 379.1,43.8 379.6,43.4 380.1,42.8 380.6,42.6 381.1,42.6 381.6,42.8 382.1,43.0 382.6,43.5 383.1,44.1 383.6,44.7 384.1,45.7 384.6,46.9 385.1,48.0 385.6,49.2 386.1,50.5 386.6,51.5 387.1,52.3 387.6,53.1 388.1,53.9 388.6,54.6 389.1,55.3 389.6,55.7 390.1,56.1 390.6,56.9 391.1,57.6 391.6,57.8 392.1,57.7 392.6,57.9 393.1,58.0 393.6,58.1 394.1,58.1 394.6,58.0 395.1,58.2 395.6,58.3 396.1,58.2 396.6,58.1 397.1,58.1 397.6,58.5 398.1,59.0 398.6,59.1 399.1,58.8 399.6,58.4 400.1,57.8 400.6,57.3 401.1,57.3 401.6,57.3 402.1,57.0 402.6,56.7 403.1,56.3 403.6,55.6 404.1,55.1 404.6,55.1 405.1,55.2 405.6,55.5 406.1,56.0 406.6,56.3 407.1,56.4 407.6,56.7 408.1,57.1 408.6,57.4 409.1,57.5 409.6,57.6 410.1,58.0 410.6,58.5 411.1,58.4 411.6,58.3 412.1,58.6 412.6,58.9 413.1,58.9 413.6,58.9 414.1,59.0 414.6,58.9 415.1,58.8 415.6,58.7 416.1,58.7 416.6,58.8 417.1,58.6 417.6,58.3 418.1,58.1 418.6,57.7 419.1,57.3 419.6,57.3 420.1,57.4 420.6,57.3 421.1,57.0 421.6,56.7 422.1,56.6 422.6,56.8 423.1,57.2 423.6,57.6 424.1,58.0 424.6,58.4 425.1,58.7 425.6,59.4 426.1,60.2 426.6,60.5 427.1,60.7 427.6,61.0 428.1,61.3 428.6,61.6 429.1,61.9 429.6,62.1 430.1,62.4 430.6,62.8 431.1,62.7 431.6,62.5 432.1,62.6 432.6,62.8 433.1,62.8 433.6,62.9 434.1,63.4 434.6,63.7 435.1,63.2 435.6,62.9 436.1,62.7 436.6,62.3 437.1,61.7 437.6,61.6 438.1,61.8 438.6,62.1 439.1,62.2 439.6,62.4 440.1,63.1 440.6,63.8 441.1,63.9 441.6,64.0 442.1,64.4 442.6,64.9 443.1,65.3 443.6,65.3 444.1,65.5 444.6,66.1 445.1,66.6 445.6,66.3 446.1,65.6 446.6,65.7 447.1,66.1 447.6,66.5 448.1,66.9 448.6,67.3 449.1,67.4 449.6,67.3 450.1,67.1 450.6,67.1 451.1,67.4 451.6,67.6 452.1,67.5 452.6,67.5 453.1,67.6 453.6,67.6 454.1,67.3 454.6,67.1 455.1,67.0 455.6,66.9 456.1,67.0 456.6,67.6 457.1,67.9 457.6,68.0 458.1,68.2 458.6,68.1 459.1,67.7 459.6,67.4 460.1,67.8 460.6,68.4 461.1,69.0 461.6,69.2 462.1,68.7 462.6,68.0 463.1,67.7 463.6,68.2 464.1,68.6 464.6,68.8 465.1,68.6 465.6,68.4 466.1,68.3 466.6,68.5 467.1,68.7 467.6,68.9 468.1,69.0 468.6,69.0 469.1,69.0 469.6,69.1 470.1,69.3 470.6,69.2 471.1,69.1 471.6,69.2 472.1,69.6 472.6,69.7 473.1,69.7 473.6,69.6 474.1,69.3 474.6,69.3 475.1,69.5 475.6,69.8 476.1,69.7 476.6,69.5 477.1,69.6 477.6,69.9 478.1,70.0" fill="none" stroke="#111" stroke-width="1.95" stroke-linejoin="round" stroke-linecap="round"/>
<polyline points="284.1,92.4 284.6,92.7 285.1,93.0 285.6,92.9 286.1,92.7 286.6,92.6 287.1,92.5 287.6,92.5 288.1,92.4 288.6,92.3 289.1,92.4 289.6,92.6 290.1,92.8 290.6,92.7 291.1,92.8 291.6,93.2 292.1,93.4 292.6,93.4 293.1,93.1 293.6,92.8 294.1,92.7 294.6,92.8 295.1,93.0 295.6,92.8 296.1,92.5 296.6,92.4 297.1,92.5 297.6,92.5 298.1,92.4 298.6,92.5 299.1,92.7 299.6,92.7 300.1,92.8 300.6,93.2 301.1,93.5 301.6,93.3 302.1,93.3 302.6,93.1 303.1,92.8 303.6,92.8 304.1,92.9 304.6,93.3 305.1,93.3 305.6,93.0 306.1,92.8 306.6,92.7 307.1,93.0 307.6,93.1 308.1,92.9 308.6,93.0 309.1,93.4 309.6,93.8 310.1,93.8 310.6,93.4 311.1,93.2 311.6,93.3 312.1,93.3 312.6,93.5 313.1,93.9 313.6,94.1 314.1,93.8 314.6,93.5 315.1,93.3 315.6,93.0 316.1,93.1 316.6,93.6 317.1,94.1 317.6,94.1 318.1,93.7 318.6,93.2 319.1,93.1 319.6,93.6 320.1,94.0 320.6,93.8 321.1,93.8 321.6,93.7 322.1,93.6 322.6,93.9 323.1,94.2 323.6,94.0 324.1,93.9 324.6,93.7 325.1,93.5 325.6,93.7 326.1,93.8 326.6,93.8 327.1,93.8 327.6,93.5 328.1,93.2 328.6,93.3 329.1,93.5 329.6,93.6 330.1,93.7 330.6,93.9 331.1,93.9 331.6,93.8 332.1,93.8 332.6,94.0 333.1,94.2 333.6,94.1 334.1,93.8 334.6,93.8 335.1,94.2 335.6,94.3 336.1,94.1 336.6,93.8 337.1,93.6 337.6,93.5 338.1,93.6 338.6,93.8 339.1,93.7 339.6,93.4 340.1,93.2 340.6,93.0 341.1,92.7 341.6,92.2 342.1,91.6 342.6,91.4 343.1,91.9 343.6,92.5 344.1,93.0 344.6,93.2 345.1,93.4 345.6,93.4 346.1,93.3 346.6,93.4 347.1,93.9 347.6,94.4 348.1,94.4 348.6,94.1 349.1,93.6 349.6,93.4 350.1,93.6 350.6,93.9 351.1,94.2 351.6,94.3 352.1,94.2 352.6,94.1 353.1,93.8 353.6,93.7 354.1,93.9 354.6,94.2 355.1,94.5 355.6,94.6 356.1,94.4 356.6,94.0 357.1,93.9 357.6,93.9 358.1,93.9 358.6,94.1 359.1,94.6 359.6,94.9 360.1,94.8 360.6,94.5 361.1,94.4 361.6,94.5 362.1,94.5 362.6,94.6 363.1,94.6 363.6,94.3 364.1,94.1 364.6,94.3 365.1,94.5 365.6,94.5 366.1,94.4 366.6,94.1 367.1,93.8 367.6,93.7 368.1,93.8 368.6,93.6 369.1,93.2 369.6,92.9 370.1,92.7 370.6,92.5 371.1,92.2 371.6,92.1 372.1,91.9 372.6,91.2 373.1,90.3 373.6,89.1 374.1,87.8 374.6,86.7 375.1,85.7 375.6,84.8 376.1,83.8 376.6,82.8 377.1,81.4 377.6,79.9 378.1,78.8 378.6,77.5 379.1,75.5 379.6,73.5 380.1,71.7 380.6,70.3 381.1,69.2 381.6,68.2 382.1,67.6 382.6,68.0 383.1,69.6 383.6,71.3 384.1,72.4 384.6,73.5 385.1,74.9 385.6,76.8 386.1,79.0 386.6,81.1 387.1,82.8 387.6,84.3 388.1,85.4 388.6,86.2 389.1,87.4 389.6,88.2 390.1,88.6 390.6,89.1 391.1,89.6 391.6,90.0 392.1,90.5 392.6,90.8 393.1,91.1 393.6,91.5 394.1,91.7 394.6,91.3 395.1,90.9 395.6,91.0 396.1,91.4 396.6,91.5 397.1,91.5 397.6,91.5 398.1,91.7 398.6,91.9 399.1,92.3 399.6,92.2 400.1,92.3 400.6,92.5 401.1,92.6 401.6,92.4 402.1,92.5 402.6,92.7 403.1,92.9 403.6,92.9 404.1,92.8 404.6,92.8 405.1,92.9 405.6,92.9 406.1,92.8 406.6,92.7 407.1,92.9 407.6,93.3 408.1,93.5 408.6,93.2 409.1,93.1 409.6,92.9 410.1,92.2 410.6,91.9 411.1,92.2 411.6,92.9 412.1,93.4 412.6,93.4 413.1,93.0 413.6,92.3 414.1,91.6 414.6,91.7 415.1,92.3 415.6,92.5 416.1,92.3 416.6,92.3 417.1,92.3 417.6,92.6 418.1,92.6 418.6,92.2 419.1,91.9 419.6,92.0 420.1,92.0 420.6,92.0 421.1,91.9 421.6,92.0 422.1,91.9 422.6,91.7 423.1,91.5 423.6,91.4 424.1,91.2 424.6,91.2 425.1,91.4 425.6,91.5 426.1,91.5 426.6,91.5 427.1,91.3 427.6,91.2 428.1,91.5 428.6,91.6 429.1,91.0 429.6,90.6 430.1,90.4 430.6,90.4 431.1,90.5 431.6,90.8 432.1,90.6 432.6,90.3 433.1,90.1 433.6,90.1 434.1,90.1 434.6,89.9 435.1,89.6 435.6,89.7 436.1,89.9 436.6,89.6 437.1,89.3 437.6,89.3 438.1,88.8 438.6,88.3 439.1,88.2 439.6,87.9 440.1,87.8 440.6,87.8 441.1,87.5 441.6,87.2 442.1,87.0 442.6,87.0 443.1,86.9 443.6,86.6 444.1,86.6 444.6,86.6 445.1,86.5 445.6,86.4 446.1,86.1 446.6,85.4 447.1,84.9 447.6,84.9 448.1,85.0 448.6,84.9 449.1,84.6 449.6,84.5 450.1,84.2 450.6,83.7 451.1,83.5 451.6,83.1 452.1,82.7 452.6,82.7 453.1,82.7 453.6,82.2 454.1,81.4 454.6,81.1 455.1,81.0 455.6,80.6 456.1,80.1 456.6,79.9 457.1,79.8 457.6,79.4 458.1,78.9 458.6,78.5 459.1,78.3 459.6,78.2 460.1,77.9 460.6,77.3 461.1,77.0 461.6,77.2 462.1,77.6 462.6,77.9 463.1,78.2 463.6,78.6 464.1,79.0 464.6,79.3 465.1,79.7 465.6,80.3 466.1,80.6 466.6,80.9 467.1,81.3 467.6,81.1 468.1,80.4 468.6,79.6 469.1,79.1 469.6,79.1 470.1,79.2 470.6,79.2 471.1,79.5 471.6,79.7 472.1,80.2 472.6,80.8 473.1,81.2 473.6,81.1 474.1,80.8 474.6,80.5 475.1,80.3 475.6,80.4 476.1,80.6 476.6,80.8 477.1,81.0 477.6,81.0 478.1,81.1" fill="none" stroke="#111" stroke-width="1.95" stroke-linejoin="round" stroke-linecap="round"/>
<polyline points="284.1,115.1 284.6,114.4 285.1,114.0 285.6,114.3 286.1,114.8 286.6,114.7 287.1,114.6 287.6,114.8 288.1,114.9 288.6,114.4 289.1,114.3 289.6,114.7 290.1,115.6 290.6,116.0 291.1,115.6 291.6,115.1 292.1,114.6 292.6,114.2 293.1,114.2 293.6,114.0 294.1,113.9 294.6,114.2 295.1,114.6 295.6,115.0 296.1,115.1 296.6,114.9 297.1,114.7 297.6,114.9 298.1,115.1 298.6,114.9 299.1,114.1 299.6,113.7 300.1,114.5 300.6,115.4 301.1,115.4 301.6,115.1 302.1,115.2 302.6,115.2 303.1,115.0 303.6,114.8 304.1,114.8 304.6,114.7 305.1,114.5 305.6,114.5 306.1,114.9 306.6,115.4 307.1,115.5 307.6,115.5 308.1,115.8 308.6,116.1 309.1,115.9 309.6,115.9 310.1,115.9 310.6,115.6 311.1,115.5 311.6,115.8 312.1,116.0 312.6,115.7 313.1,115.3 313.6,115.1 314.1,115.0 314.6,115.2 315.1,114.9 315.6,114.5 316.1,114.4 316.6,114.3 317.1,114.5 317.6,114.8 318.1,115.0 318.6,115.1 319.1,115.0 319.6,115.2 320.1,115.7 320.6,116.0 321.1,115.9 321.6,115.6 322.1,115.4 322.6,115.4 323.1,115.5 323.6,115.3 324.1,115.3 324.6,115.3 325.1,115.3 325.6,115.6 326.1,115.8 326.6,115.5 327.1,115.3 327.6,115.5 328.1,115.6 328.6,115.6 329.1,115.6 329.6,115.3 330.1,114.9 330.6,114.7 331.1,114.7 331.6,114.7 332.1,114.6 332.6,114.7 333.1,115.3 333.6,115.8 334.1,115.8 334.6,115.7 335.1,115.5 335.6,114.7 336.1,114.3 336.6,114.6 337.1,115.3 337.6,115.9 338.1,116.0 338.6,115.8 339.1,116.2 339.6,116.3 340.1,116.0 340.6,115.9 341.1,115.9 341.6,115.4 342.1,114.8 342.6,114.5 343.1,114.3 343.6,114.5 344.1,114.6 344.6,114.6 345.1,114.4 345.6,114.3 346.1,114.4 346.6,114.2 347.1,114.1 347.6,113.8 348.1,113.9 348.6,113.9 349.1,113.9 349.6,113.6 350.1,113.3 350.6,113.7 351.1,114.4 351.6,114.6 352.1,114.1 352.6,113.9 353.1,114.4 353.6,114.9 354.1,115.2 354.6,115.6 355.1,116.2 355.6,116.7 356.1,116.6 356.6,116.3 357.1,116.4 357.6,116.4 358.1,116.6 358.6,117.1 359.1,117.4 359.6,117.8 360.1,118.4 360.6,118.8 361.1,119.0 361.6,119.1 362.1,118.8 362.6,118.4 363.1,118.5 363.6,118.8 364.1,118.7 364.6,118.7 365.1,119.1 365.6,119.5 366.1,119.6 366.6,119.3 367.1,119.0 367.6,119.0 368.1,118.9 368.6,118.8 369.1,118.9 369.6,118.6 370.1,118.1 370.6,117.9 371.1,117.4 371.6,116.7 372.1,115.9 372.6,115.4 373.1,114.8 373.6,114.2 374.1,114.0 374.6,114.2 375.1,113.7 375.6,113.2 376.1,112.7 376.6,112.1 377.1,111.4 377.6,110.7 378.1,110.4 378.6,110.2 379.1,110.0 379.6,109.6 380.1,109.0 380.6,109.0 381.1,109.8 381.6,110.8 382.1,111.4 382.6,111.3 383.1,110.9 383.6,111.1 384.1,112.2 384.6,113.3 385.1,114.0 385.6,114.6 386.1,114.7 386.6,114.6 387.1,114.8 387.6,115.3 388.1,115.7 388.6,116.2 389.1,116.5 389.6,116.3 390.1,115.9 390.6,115.7 391.1,116.0 391.6,116.4 392.1,116.5 392.6,116.5 393.1,116.4 393.6,116.0 394.1,115.3 394.6,115.6 395.1,116.8 395.6,117.2 396.1,116.6 396.6,116.0 397.1,116.2 397.6,116.4 398.1,116.1 398.6,116.5 399.1,117.1 399.6,117.3 400.1,117.4 400.6,117.6 401.1,117.6 401.6,117.0 402.1,116.7 402.6,117.3 403.1,117.7 403.6,117.8 404.1,117.6 404.6,117.2 405.1,117.3 405.6,118.1 406.1,118.6 406.6,118.4 407.1,117.6 407.6,117.1 408.1,117.1 408.6,117.6 409.1,118.1 409.6,118.0 410.1,117.8 410.6,118.0 411.1,118.2 411.6,118.3 412.1,118.4 412.6,118.5 413.1,118.7 413.6,118.8 414.1,118.7 414.6,118.7 415.1,118.8 415.6,118.6 416.1,118.4 416.6,118.8 417.1,119.3 417.6,119.5 418.1,119.5 418.6,119.5 419.1,119.6 419.6,119.6 420.1,119.4 420.6,119.6 421.1,120.0 421.6,119.9 422.1,120.1 422.6,120.6 423.1,121.0 423.6,121.2 424.1,121.5 424.6,121.7 425.1,122.0 425.6,122.1 426.1,121.6 426.6,121.3 427.1,121.2 427.6,121.4 428.1,121.9 428.6,122.1 429.1,121.8 429.6,121.7 430.1,122.2 430.6,122.7 431.1,123.1 431.6,122.9 432.1,122.4 432.6,122.1 433.1,122.0 433.6,121.6 434.1,121.2 434.6,121.1 435.1,121.0 435.6,120.8 436.1,120.8 436.6,121.0 437.1,120.8 437.6,120.2 438.1,119.6 438.6,119.5 439.1,120.0 439.6,120.6 440.1,121.1 440.6,121.6 441.1,122.1 441.6,122.2 442.1,122.1 442.6,122.2 443.1,122.6 443.6,122.9 444.1,123.1 444.6,123.6 445.1,124.1 445.6,124.1 446.1,123.9 446.6,124.0 447.1,124.5 447.6,124.9 448.1,124.9 448.6,124.6 449.1,124.6 449.6,125.1 450.1,125.3 450.6,125.2 451.1,124.9 451.6,124.7 452.1,124.8 452.6,125.3 453.1,125.4 453.6,124.7 454.1,124.1 454.6,124.6 455.1,125.4 455.6,126.0 456.1,126.4 456.6,126.7 457.1,126.6 457.6,126.3 458.1,125.7 458.6,125.3 459.1,125.4 459.6,125.5 460.1,125.3 460.6,125.3 461.1,125.2 461.6,124.9 462.1,124.8 462.6,124.8 463.1,124.9 463.6,124.8 464.1,124.6 464.6,124.2 465.1,124.1 465.6,124.2 466.1,124.6 466.6,125.0 467.1,125.1 467.6,125.1 468.1,125.4 468.6,125.5 469.1,125.2 469.6,125.0 470.1,124.8 470.6,124.9 471.1,125.1 471.6,125.3 472.1,125.6 472.6,125.6 473.1,125.5 473.6,125.4 474.1,125.3 474.6,125.2 475.1,125.6 475.6,126.1 476.1,126.6 476.6,126.8 477.1,127.1 477.6,127.3 478.1,127.7" fill="none" stroke="#111" stroke-width="1.95" stroke-linejoin="round" stroke-linecap="round"/>
<polyline points="284.1,141.9 284.6,141.8 285.1,141.5 285.6,141.1 286.1,141.0 286.6,141.3 287.1,141.6 287.6,141.6 288.1,141.5 288.6,141.4 289.1,141.4 289.6,141.4 290.1,141.4 290.6,141.4 291.1,141.4 291.6,141.3 292.1,141.4 292.6,141.4 293.1,141.3 293.6,141.3 294.1,141.3 294.6,141.4 295.1,141.6 295.6,141.7 296.1,141.6 296.6,141.4 297.1,141.3 297.6,141.1 298.1,141.1 298.6,141.3 299.1,141.4 299.6,141.4 300.1,141.3 300.6,141.4 301.1,141.5 301.6,141.6 302.1,141.7 302.6,141.6 303.1,141.6 303.6,141.6 304.1,141.6 304.6,141.7 305.1,141.6 305.6,141.5 306.1,141.4 306.6,141.4 307.1,141.4 307.6,141.3 308.1,141.4 308.6,141.5 309.1,141.4 309.6,141.4 310.1,141.7 310.6,142.0 311.1,142.0 311.6,141.7 312.1,141.6 312.6,141.7 313.1,141.7 313.6,141.6 314.1,141.5 314.6,141.6 315.1,141.6 315.6,141.4 316.1,141.5 316.6,141.6 317.1,141.7 317.6,141.7 318.1,141.8 318.6,141.7 319.1,141.5 319.6,141.5 320.1,141.7 320.6,142.0 321.1,142.0 321.6,141.8 322.1,141.8 322.6,141.9 323.1,141.9 323.6,141.8 324.1,141.7 324.6,141.6 325.1,141.6 325.6,141.5 326.1,141.5 326.6,141.5 327.1,141.3 327.6,141.2 328.1,141.3 328.6,141.5 329.1,141.6 329.6,141.6 330.1,141.7 330.6,141.8 331.1,141.7 331.6,141.6 332.1,141.5 332.6,141.4 333.1,141.3 333.6,141.3 334.1,141.4 334.6,141.6 335.1,141.8 335.6,141.7 336.1,141.6 336.6,141.7 337.1,141.7 337.6,141.6 338.1,141.5 338.6,141.4 339.1,141.5 339.6,141.6 340.1,141.6 340.6,141.5 341.1,141.6 341.6,141.7 342.1,141.6 342.6,141.4 343.1,141.2 343.6,141.2 344.1,141.4 344.6,141.6 345.1,141.5 345.6,141.3 346.1,141.5 346.6,141.7 347.1,141.8 347.6,141.8 348.1,141.6 348.6,141.5 349.1,141.4 349.6,141.6 350.1,141.8 350.6,141.8 351.1,141.8 351.6,141.6 352.1,141.4 352.6,141.2 353.1,141.2 353.6,141.3 354.1,141.4 354.6,141.5 355.1,141.6 355.6,141.6 356.1,141.5 356.6,141.3 357.1,141.3 357.6,141.5 358.1,141.6 358.6,141.5 359.1,141.4 359.6,141.4 360.1,141.4 360.6,141.2 361.1,141.2 361.6,141.3 362.1,141.3 362.6,141.3 363.1,141.4 363.6,141.3 364.1,141.4 364.6,141.5 365.1,141.7 365.6,141.7 366.1,141.6 366.6,141.2 367.1,141.0 367.6,141.3 368.1,141.6 368.6,141.6 369.1,141.4 369.6,141.4 370.1,141.3 370.6,141.1 371.1,141.1 371.6,141.3 372.1,141.5 372.6,141.5 373.1,141.5 373.6,141.4 374.1,141.3 374.6,141.4 375.1,141.4 375.6,141.5 376.1,141.5 376.6,141.3 377.1,141.2 377.6,141.3 378.1,141.3 378.6,141.1 379.1,141.0 379.6,141.2 380.1,141.4 380.6,141.4 381.1,141.5 381.6,141.7 382.1,141.7 382.6,141.7 383.1,141.5 383.6,141.3 384.1,141.3 384.6,141.3 385.1,141.2 385.6,140.9 386.1,140.8 386.6,140.9 387.1,141.0 387.6,141.0 388.1,141.0 388.6,141.1 389.1,141.2 389.6,141.2 390.1,141.3 390.6,141.3 391.1,141.3 391.6,141.2 392.1,141.1 392.6,141.2 393.1,141.2 393.6,141.1 394.1,141.0 394.6,140.9 395.1,141.0 395.6,141.1 396.1,141.3 396.6,141.2 397.1,141.1 397.6,141.1 398.1,141.1 398.6,141.1 399.1,141.0 399.6,141.0 400.1,141.1 400.6,141.1 401.1,140.8 401.6,140.7 402.1,140.7 402.6,140.8 403.1,141.0 403.6,141.2 404.1,141.3 404.6,141.3 405.1,141.3 405.6,141.2 406.1,141.0 406.6,140.9 407.1,141.1 407.6,141.4 408.1,141.5 408.6,141.5 409.1,141.4 409.6,141.2 410.1,141.0 410.6,141.0 411.1,141.1 411.6,141.2 412.1,141.0 412.6,140.7 413.1,140.8 413.6,140.9 414.1,141.0 414.6,141.0 415.1,141.0 415.6,141.0 416.1,141.0 416.6,141.0 417.1,141.1 417.6,141.1 418.1,141.0 418.6,141.0 419.1,141.1 419.6,141.2 420.1,141.1 420.6,141.0 421.1,140.9 421.6,140.7 422.1,140.7 422.6,140.9 423.1,141.0 423.6,141.1 424.1,141.0 424.6,140.8 425.1,140.9 425.6,141.1 426.1,141.1 426.6,140.9 427.1,140.8 427.6,140.9 428.1,140.8 428.6,140.8 429.1,140.7 429.6,140.8 430.1,140.9 430.6,141.1 431.1,141.2 431.6,141.0 432.1,140.7 432.6,140.5 433.1,140.6 433.6,140.8 434.1,140.9 434.6,140.9 435.1,140.9 435.6,141.0 436.1,141.1 436.6,141.1 437.1,140.9 437.6,140.6 438.1,140.4 438.6,140.4 439.1,140.4 439.6,140.5 440.1,140.7 440.6,140.8 441.1,140.7 441.6,140.6 442.1,140.6 442.6,140.7 443.1,140.7 443.6,140.8 444.1,140.8 444.6,140.9 445.1,140.9 445.6,140.8 446.1,140.9 446.6,141.0 447.1,140.9 447.6,140.8 448.1,140.7 448.6,140.6 449.1,140.5 449.6,140.5 450.1,140.5 450.6,140.6 451.1,140.7 451.6,140.8 452.1,140.8 452.6,140.9 453.1,140.8 453.6,140.8 454.1,140.7 454.6,140.9 455.1,141.1 455.6,141.1 456.1,140.9 456.6,140.8 457.1,140.7 457.6,140.5 458.1,140.5 458.6,140.6 459.1,140.7 459.6,140.6 460.1,140.5 460.6,140.5 461.1,140.4 461.6,140.3 462.1,140.3 462.6,140.3 463.1,140.2 463.6,140.2 464.1,140.3 464.6,140.4 465.1,140.5 465.6,140.5 466.1,140.4 466.6,140.4 467.1,140.4 467.6,140.6 468.1,140.6 468.6,140.6 469.1,140.6 469.6,140.6 470.1,140.7 470.6,140.7 471.1,140.7 471.6,140.6 472.1,140.6 472.6,140.5 473.1,140.4 473.6,140.5 474.1,140.6 474.6,140.6 475.1,140.5 475.6,140.4 476.1,140.4 476.6,140.3 477.1,140.2 477.6,140.2 478.1,140.2" fill="none" stroke="#111" stroke-width="1.55" stroke-linejoin="round" stroke-linecap="round"/>
<rect x="283.8" y="11.2" width="194.6" height="147.9" stroke="#111" stroke-width="1.1" fill="none"/>
<line x1="283.8" y1="19.21" x2="287.1" y2="19.21" stroke="#111" stroke-width="1"/>
<line x1="283.8" y1="26.6" x2="288.8" y2="26.6" stroke="#111" stroke-width="1"/>
<line x1="283.8" y1="33.99" x2="287.1" y2="33.99" stroke="#111" stroke-width="1"/>
<line x1="283.8" y1="41.38" x2="287.1" y2="41.38" stroke="#111" stroke-width="1"/>
<line x1="283.8" y1="48.77" x2="287.1" y2="48.77" stroke="#111" stroke-width="1"/>
<line x1="283.8" y1="56.16" x2="287.1" y2="56.16" stroke="#111" stroke-width="1"/>
<line x1="283.8" y1="63.55" x2="288.8" y2="63.55" stroke="#111" stroke-width="1"/>
<line x1="283.8" y1="70.94" x2="287.1" y2="70.94" stroke="#111" stroke-width="1"/>
<line x1="283.8" y1="78.33" x2="287.1" y2="78.33" stroke="#111" stroke-width="1"/>
<line x1="283.8" y1="85.72" x2="287.1" y2="85.72" stroke="#111" stroke-width="1"/>
<line x1="283.8" y1="93.11" x2="287.1" y2="93.11" stroke="#111" stroke-width="1"/>
<line x1="283.8" y1="100.5" x2="288.8" y2="100.5" stroke="#111" stroke-width="1"/>
<line x1="283.8" y1="107.89" x2="287.1" y2="107.89" stroke="#111" stroke-width="1"/>
<line x1="283.8" y1="115.28" x2="287.1" y2="115.28" stroke="#111" stroke-width="1"/>
<line x1="283.8" y1="122.67" x2="287.1" y2="122.67" stroke="#111" stroke-width="1"/>
<line x1="283.8" y1="130.06" x2="287.1" y2="130.06" stroke="#111" stroke-width="1"/>
<line x1="283.8" y1="137.45" x2="288.8" y2="137.45" stroke="#111" stroke-width="1"/>
<line x1="283.8" y1="144.84" x2="287.1" y2="144.84" stroke="#111" stroke-width="1"/>
<line x1="283.8" y1="152.23" x2="287.1" y2="152.23" stroke="#111" stroke-width="1"/>
<line x1="299.64" y1="159.1" x2="299.64" y2="156.1" stroke="#111" stroke-width="1"/>
<line x1="314.57" y1="159.1" x2="314.57" y2="156.1" stroke="#111" stroke-width="1"/>
<line x1="329.5" y1="159.1" x2="329.5" y2="154.6" stroke="#111" stroke-width="1"/>
<line x1="344.43" y1="159.1" x2="344.43" y2="156.1" stroke="#111" stroke-width="1"/>
<line x1="359.36" y1="159.1" x2="359.36" y2="156.1" stroke="#111" stroke-width="1"/>
<line x1="374.29" y1="159.1" x2="374.29" y2="156.1" stroke="#111" stroke-width="1"/>
<line x1="389.22" y1="159.1" x2="389.22" y2="156.1" stroke="#111" stroke-width="1"/>
<line x1="404.15" y1="159.1" x2="404.15" y2="154.6" stroke="#111" stroke-width="1"/>
<line x1="419.08" y1="159.1" x2="419.08" y2="156.1" stroke="#111" stroke-width="1"/>
<line x1="434.01" y1="159.1" x2="434.01" y2="156.1" stroke="#111" stroke-width="1"/>
<line x1="448.94" y1="159.1" x2="448.94" y2="156.1" stroke="#111" stroke-width="1"/>
<line x1="463.87" y1="159.1" x2="463.87" y2="156.1" stroke="#111" stroke-width="1"/>
<text x="329.3" y="171.8" font-size="9.8" fill="#111" text-anchor="middle" textLength="21.6" lengthAdjust="spacingAndGlyphs" stroke="#111" stroke-width="0.3">2000</text>
<text x="402" y="171.8" font-size="9.8" fill="#111" text-anchor="middle" textLength="21.6" lengthAdjust="spacingAndGlyphs" stroke="#111" stroke-width="0.3">1500</text>
<text x="479.6" y="171.8" font-size="9.8" fill="#111" text-anchor="middle" textLength="21.6" lengthAdjust="spacingAndGlyphs" stroke="#111" stroke-width="0.3">1000</text>
<text x="331.5" y="189" font-size="10.3" fill="#111" stroke="#111" stroke-width="0.3">Wavenumbers / cm<tspan font-size="6.5" dy="-6.5">-1</tspan></text>
<text x="268.9" y="88.9" font-size="10.3" fill="#111" text-anchor="middle" textLength="54.8" lengthAdjust="spacingAndGlyphs" transform="rotate(-90 268.9 88.9)" stroke="#111" stroke-width="0.3">Absorbance</text>
<text x="255.4" y="14.3" font-size="12.5" font-weight="bold" fill="#111" textLength="16" lengthAdjust="spacingAndGlyphs" stroke="#111" stroke-width="0.3">(b)</text>
<text x="290.7" y="48.4" font-size="10.2" font-weight="bold" fill="#111" textLength="72.6" lengthAdjust="spacingAndGlyphs" stroke="#111" stroke-width="0.3">Non-etched Sn</text>
<text x="290.7" y="80.8" font-size="10.2" font-weight="bold" fill="#111" textLength="31.5" lengthAdjust="spacingAndGlyphs" stroke="#111" stroke-width="0.3">pH 1.5</text>
<text x="291.6" y="105.5" font-size="10.2" font-weight="bold" fill="#111" textLength="68.8" lengthAdjust="spacingAndGlyphs" stroke="#111" stroke-width="0.3">HBr etched Sn</text>
<text x="291.6" y="132.6" font-size="10.2" font-weight="bold" fill="#111" textLength="58.2" lengthAdjust="spacingAndGlyphs" stroke="#111" stroke-width="0.3">background</text>
<text x="396.7" y="79.5" font-size="10.4" font-weight="bold" fill="#111" textLength="49" lengthAdjust="spacingAndGlyphs" stroke="#111" stroke-width="0.3">carbonate</text>
<line x1="428.2" y1="13.9" x2="428.2" y2="50.8" stroke="#444" stroke-width="1.1"/>
<line x1="424.6" y1="13.9" x2="431.8" y2="13.9" stroke="#444" stroke-width="1.1"/>
<line x1="424.6" y1="50.8" x2="431.8" y2="50.8" stroke="#444" stroke-width="1.1"/>
<text x="434" y="36.6" font-size="10.5" fill="#222" stroke="#222" stroke-width="0.3">5 x 10<tspan font-size="6.6" dy="-5.6">-3</tspan></text>
<line x1="404.5" y1="44.9" x2="404.5" y2="67.3" stroke="#111" stroke-width="1.8" stroke-dasharray="3.4,2"/>
<line x1="422.9" y1="48.8" x2="422.9" y2="70.5" stroke="#111" stroke-width="1.8" stroke-dasharray="3.4,2"/>
<line x1="438.7" y1="54.5" x2="438.7" y2="70.5" stroke="#111" stroke-width="1.8" stroke-dasharray="3.4,2"/>
<polyline points="54.7,219.2 55.2,219.5 55.7,219.6 56.2,219.2 56.7,218.9 57.2,218.9 57.7,219.2 58.2,219.4 58.7,218.9 59.2,218.4 59.7,218.5 60.2,219.7 60.7,218.8 61.2,217.7 61.7,217.3 62.2,217.2 62.7,217.0 63.2,216.9 63.7,216.9 64.2,217.2 64.7,217.6 65.2,217.6 65.7,217.5 66.2,217.2 66.7,216.9 67.2,216.8 67.7,216.9 68.2,217.0 68.7,217.1 69.2,217.4 69.7,217.6 70.2,217.2 70.7,216.6 71.2,216.4 71.7,216.5 72.2,216.4 72.7,215.9 73.2,215.3 73.7,215.6 74.2,216.4 74.7,216.9 75.2,217.2 75.7,217.2 76.2,216.8 76.7,216.3 77.2,216.0 77.7,216.5 78.2,217.0 78.7,217.4 79.2,217.6 79.7,217.8 80.2,217.7 80.7,217.5 81.2,217.7 81.7,218.3 82.2,219.3 82.7,220.1 83.2,220.2 83.7,220.3 84.2,220.3 84.7,220.1 85.2,219.9 85.7,219.8 86.2,220.1 86.7,220.3 87.2,220.0 87.7,219.8 88.2,219.7 88.7,219.9 89.2,220.2 89.7,220.4 90.2,220.1 90.7,220.0 91.2,220.4 91.7,220.4 92.2,220.4 92.7,220.3 93.2,219.8 93.7,219.4 94.2,219.7 94.7,219.8 95.2,219.4 95.7,218.8 96.2,218.5 96.7,218.4 97.2,218.7 97.7,218.7 98.2,218.1 98.7,218.0 99.2,218.3 99.7,217.8 100.2,216.6 100.7,215.7 101.2,215.6 101.7,215.7 102.2,215.6 102.7,215.3 103.2,215.4 103.7,215.3 104.2,214.9 104.7,214.6 105.2,214.8 105.7,215.2 106.2,215.1 106.7,215.0 107.2,214.9 107.7,215.0 108.2,215.1 108.7,215.0 109.2,215.3 109.7,215.3 110.2,215.1 110.7,215.3 111.2,215.3 111.7,215.1 112.2,214.6 112.7,214.6 113.2,215.2 113.7,215.4 114.2,214.9 114.7,214.5 115.2,214.0 115.7,213.7 116.2,213.7 116.7,214.1 117.2,214.2 117.7,214.2 118.2,214.8 118.7,215.2 119.2,214.8 119.7,214.7 120.2,215.1 120.7,215.5 121.2,215.9 121.7,215.6 122.2,215.2 122.7,215.3 123.2,215.5 123.7,215.5 124.2,215.5 124.7,215.3 125.2,214.9 125.7,214.9 126.2,215.7 126.7,216.4 127.2,216.4 127.7,215.9 128.2,215.7 128.7,215.4 129.2,215.0 129.7,215.2 130.2,215.6 130.7,216.1 131.2,216.2 131.7,216.2 132.2,216.5 132.7,216.7 133.2,216.9 133.7,217.1 134.2,216.7 134.7,216.6 135.2,217.0 135.7,217.0 136.2,217.3 136.7,217.5 137.2,217.6 137.7,218.0 138.2,218.8 138.7,219.2 139.2,219.3 139.7,219.8 140.2,220.1 140.7,219.9 141.2,220.3 141.7,221.1 142.2,221.7 142.7,222.1 143.2,222.6 143.7,223.4 144.2,224.3 144.7,224.6 145.2,224.3 145.7,224.2 146.2,224.3 146.7,223.8 147.2,223.3 147.7,223.2 148.2,223.2 148.7,223.1 149.2,222.6 149.7,222.0 150.2,221.9 150.7,221.9 151.2,221.7 151.7,221.1 152.2,220.5 152.7,220.5 153.2,220.6 153.7,220.2 154.2,219.7 154.7,219.8 155.2,220.1 155.7,220.1 156.2,219.9 156.7,219.9 157.2,219.9 157.7,219.6 158.2,219.7 158.7,220.2 159.2,220.3 159.7,220.0 160.2,219.7 160.7,219.6 161.2,219.3 161.7,219.0 162.2,218.9 162.7,219.0 163.2,219.4 163.7,219.7 164.2,219.6 164.7,219.5 165.2,219.4 165.7,219.2 166.2,218.8 166.7,218.4 167.2,218.5 167.7,218.5 168.2,218.1 168.7,218.2 169.2,218.6 169.7,218.5 170.2,218.3 170.7,218.3 171.2,218.5 171.7,218.8 172.2,218.7 172.7,218.5 173.2,218.4 173.7,218.7 174.2,219.0 174.7,219.1 175.2,218.9 175.7,218.6 176.2,218.4 176.7,218.5 177.2,218.9 177.7,218.8 178.2,218.6 178.7,218.5 179.2,218.8 179.7,219.0 180.2,219.1 180.7,219.3 181.2,219.6 181.7,219.8 182.2,220.1 182.7,220.4 183.2,220.4 183.7,220.3 184.2,220.1 184.7,220.1 185.2,220.2 185.7,220.3 186.2,220.6 186.7,220.6 187.2,220.2 187.7,220.2 188.2,220.6 188.7,220.9 189.2,220.8 189.7,220.9 190.2,221.3 190.7,221.4 191.2,221.1 191.7,221.0 192.2,221.1 192.7,221.1 193.2,221.1 193.7,221.3 194.2,221.6 194.7,221.7 195.2,221.6 195.7,221.4 196.2,221.3 196.7,221.6 197.2,221.8 197.7,221.9 198.2,222.0 198.7,222.1 199.2,222.2 199.7,222.1 200.2,222.0 200.7,222.2 201.2,222.6 201.7,222.8 202.2,222.6 202.7,222.6 203.2,222.9 203.7,223.1 204.2,223.4 204.7,223.3 205.2,223.2 205.7,223.3 206.2,223.8 206.7,224.0 207.2,224.2 207.7,224.5 208.2,224.7 208.7,224.3 209.2,223.8 209.7,223.7 210.2,223.8 210.7,224.1 211.2,224.2 211.7,224.4 212.2,224.5 212.7,224.4 213.2,224.9 213.7,225.9 214.2,226.3 214.7,226.3 215.2,226.5 215.7,226.8 216.2,226.8 216.7,226.7 217.2,226.7 217.7,227.0 218.2,227.3 218.7,227.5 219.2,227.8 219.7,228.1 220.2,228.3 220.7,228.1 221.2,227.7 221.7,227.6" fill="none" stroke="#e3262e" stroke-width="1.25" stroke-linejoin="round" stroke-linecap="round"/>
<polyline points="54.7,237.3 55.2,237.1 55.7,237.3 56.2,237.3 56.7,237.1 57.2,237.1 57.7,237.3 58.2,237.2 58.7,237.1 59.2,237.5 59.7,237.9 60.2,238.3 60.7,237.5 61.2,236.9 61.7,237.0 62.2,237.3 62.7,237.8 63.2,238.1 63.7,238.2 64.2,238.5 64.7,238.8 65.2,239.2 65.7,239.0 66.2,238.9 66.7,239.3 67.2,239.4 67.7,239.0 68.2,238.9 68.7,239.4 69.2,240.0 69.7,239.7 70.2,238.7 70.7,238.3 71.2,238.1 71.7,238.5 72.2,239.2 72.7,240.1 73.2,241.4 73.7,242.4 74.2,241.5 74.7,239.7 75.2,238.9 75.7,239.3 76.2,239.4 76.7,239.5 77.2,240.1 77.7,241.1 78.2,242.9 78.7,244.1 79.2,243.6 79.7,242.8 80.2,242.8 80.7,243.2 81.2,243.8 81.7,244.7 82.2,245.0 82.7,244.5 83.2,244.2 83.7,244.9 84.2,246.0 84.7,246.8 85.2,247.6 85.7,247.8 86.2,247.2 86.7,246.4 87.2,246.2 87.7,245.7 88.2,244.3 88.7,242.8 89.2,242.3 89.7,242.2 90.2,242.3 90.7,242.7 91.2,242.9 91.7,243.0 92.2,242.3 92.7,241.6 93.2,241.6 93.7,242.3 94.2,243.3 94.7,243.4 95.2,242.4 95.7,241.5 96.2,241.2 96.7,240.8 97.2,240.1 97.7,240.3 98.2,240.9 98.7,241.0 99.2,240.4 99.7,239.6 100.2,239.5 100.7,240.2 101.2,240.1 101.7,239.2 102.2,238.8 102.7,239.6 103.2,240.5 103.7,240.2 104.2,240.0 104.7,240.5 105.2,240.1 105.7,238.8 106.2,238.5 106.7,239.3 107.2,239.7 107.7,239.5 108.2,239.7 108.7,240.5 109.2,240.8 109.7,240.4 110.2,240.1 110.7,240.2 111.2,240.3 111.7,240.6 112.2,241.1 112.7,241.0 113.2,241.3 113.7,241.9 114.2,242.9 114.7,243.9 115.2,243.8 115.7,242.4 116.2,241.4 116.7,241.3 117.2,241.9 117.7,242.3 118.2,242.5 118.7,243.2 119.2,244.3 119.7,244.9 120.2,245.0 120.7,244.9 121.2,244.2 121.7,243.4 122.2,243.4 122.7,243.7 123.2,243.6 123.7,243.4 124.2,243.8 124.7,244.9 125.2,245.6 125.7,245.6 126.2,245.4 126.7,245.0 127.2,244.4 127.7,244.2 128.2,244.5 128.7,245.5 129.2,246.2 129.7,246.6 130.2,246.8 130.7,246.5 131.2,245.7 131.7,245.3 132.2,245.3 132.7,245.5 133.2,245.7 133.7,245.5 134.2,245.5 134.7,246.5 135.2,246.9 135.7,247.2 136.2,247.3 136.7,247.3 137.2,247.9 137.7,248.6 138.2,248.8 138.7,248.5 139.2,248.3 139.7,248.3 140.2,248.7 140.7,249.0 141.2,248.7 141.7,248.2 142.2,248.0 142.7,247.9 143.2,247.7 143.7,247.4 144.2,247.3 144.7,247.5 145.2,247.4 145.7,246.9 146.2,246.6 146.7,246.4 147.2,245.9 147.7,245.7 148.2,245.7 148.7,245.7 149.2,245.6 149.7,245.5 150.2,245.5 150.7,245.3 151.2,245.2 151.7,245.5 152.2,246.1 152.7,246.5 153.2,247.0 153.7,247.6 154.2,247.9 154.7,248.1 155.2,248.5 155.7,249.1 156.2,249.7 156.7,250.4 157.2,251.4 157.7,252.3 158.2,253.4 158.7,254.2 159.2,254.9 159.7,255.9 160.2,256.6 160.7,256.8 161.2,257.1 161.7,257.5 162.2,257.9 162.7,257.8 163.2,257.2 163.7,256.5 164.2,255.9 164.7,255.5 165.2,254.7 165.7,253.5 166.2,252.4 166.7,251.6 167.2,250.8 167.7,249.9 168.2,249.0 168.7,247.8 169.2,246.6 169.7,245.9 170.2,245.7 170.7,245.3 171.2,244.7 171.7,243.9 172.2,243.5 172.7,243.6 173.2,243.6 173.7,243.1 174.2,242.6 174.7,242.3 175.2,242.3 175.7,242.5 176.2,242.8 176.7,242.7 177.2,242.3 177.7,241.8 178.2,241.7 178.7,241.6 179.2,241.5 179.7,241.5 180.2,241.4 180.7,241.3 181.2,241.4 181.7,241.4 182.2,241.3 182.7,241.5 183.2,241.8 183.7,242.1 184.2,242.0 184.7,241.6 185.2,241.4 185.7,241.5 186.2,241.7 186.7,241.6 187.2,241.5 187.7,241.3 188.2,241.6 188.7,241.9 189.2,242.0 189.7,242.0 190.2,241.9 190.7,241.6 191.2,241.5 191.7,241.8 192.2,242.2 192.7,242.1 193.2,242.0 193.7,241.9 194.2,241.7 194.7,241.1 195.2,240.8 195.7,240.9 196.2,241.1 196.7,241.3 197.2,241.3 197.7,241.6 198.2,241.9 198.7,242.1 199.2,242.2 199.7,242.3 200.2,242.1 200.7,242.0 201.2,242.0 201.7,241.6 202.2,241.6 202.7,242.0 203.2,242.2 203.7,242.2 204.2,242.2 204.7,242.1 205.2,241.7 205.7,241.5 206.2,241.4 206.7,241.5 207.2,241.6 207.7,241.7 208.2,242.1 208.7,242.2 209.2,241.8 209.7,241.7 210.2,241.9 210.7,241.7 211.2,241.5 211.7,241.6 212.2,241.6 212.7,241.3 213.2,241.2 213.7,241.4 214.2,241.7 214.7,241.9 215.2,241.9 215.7,241.6 216.2,241.4 216.7,241.3 217.2,241.4 217.7,241.3 218.2,240.9 218.7,240.8 219.2,241.0 219.7,241.5 220.2,241.9 220.7,241.7 221.2,241.3 221.7,241.3" fill="none" stroke="#f07a22" stroke-width="1.25" stroke-linejoin="round" stroke-linecap="round"/>
<polyline points="54.7,253.5 55.2,253.8 55.7,253.9 56.2,253.7 56.7,253.6 57.2,253.7 57.7,253.7 58.2,253.5 58.7,253.4 59.2,253.7 59.7,254.0 60.2,254.9 60.7,255.3 61.2,255.5 61.7,255.6 62.2,255.8 62.7,255.9 63.2,255.8 63.7,254.7 64.2,253.7 64.7,254.0 65.2,254.3 65.7,254.3 66.2,255.4 66.7,255.6 67.2,254.7 67.7,255.2 68.2,255.7 68.7,255.2 69.2,254.8 69.7,255.6 70.2,256.8 70.7,257.4 71.2,257.2 71.7,257.1 72.2,257.2 72.7,257.2 73.2,257.2 73.7,257.1 74.2,256.6 74.7,256.5 75.2,256.3 75.7,256.3 76.2,257.1 76.7,258.6 77.2,259.8 77.7,259.8 78.2,259.6 78.7,259.7 79.2,258.8 79.7,257.9 80.2,258.5 80.7,259.1 81.2,259.0 81.7,259.1 82.2,259.3 82.7,258.9 83.2,258.3 83.7,258.9 84.2,260.5 84.7,262.0 85.2,262.1 85.7,260.8 86.2,259.9 86.7,259.5 87.2,258.9 87.7,257.9 88.2,256.3 88.7,254.7 89.2,254.1 89.7,253.8 90.2,253.4 90.7,253.2 91.2,253.0 91.7,253.3 92.2,253.9 92.7,254.8 93.2,255.2 93.7,255.1 94.2,254.4 94.7,253.2 95.2,252.7 95.7,253.4 96.2,254.1 96.7,254.4 97.2,255.3 97.7,256.4 98.2,257.1 98.7,256.7 99.2,256.4 99.7,256.8 100.2,257.1 100.7,257.2 101.2,257.0 101.7,256.5 102.2,256.6 102.7,257.1 103.2,257.2 103.7,256.7 104.2,256.4 104.7,256.6 105.2,256.9 105.7,257.0 106.2,257.6 106.7,258.6 107.2,259.1 107.7,258.8 108.2,258.6 108.7,258.5 109.2,258.2 109.7,258.6 110.2,258.9 110.7,259.2 111.2,260.5 111.7,261.6 112.2,261.6 112.7,260.9 113.2,260.4 113.7,260.1 114.2,260.4 114.7,260.6 115.2,260.3 115.7,259.7 116.2,258.9 116.7,259.0 117.2,260.5 117.7,262.3 118.2,263.4 118.7,263.2 119.2,262.5 119.7,262.5 120.2,262.7 120.7,262.4 121.2,261.8 121.7,261.6 122.2,262.5 122.7,262.8 123.2,261.7 123.7,261.7 124.2,263.3 124.7,264.3 125.2,264.3 125.7,264.6 126.2,265.1 126.7,265.7 127.2,265.9 127.7,266.1 128.2,266.3 128.7,266.7 129.2,267.3 129.7,267.6 130.2,267.7 130.7,268.1 131.2,268.8 131.7,269.3 132.2,269.8 132.7,270.2 133.2,270.5 133.7,270.5 134.2,270.6 134.7,270.9 135.2,271.4 135.7,271.9 136.2,272.7 136.7,273.4 137.2,273.7 137.7,273.6 138.2,273.8 138.7,274.4 139.2,274.7 139.7,274.5 140.2,274.3 140.7,274.0 141.2,273.7 141.7,273.1 142.2,272.5 142.7,272.0 143.2,271.8 143.7,271.9 144.2,271.6 144.7,271.0 145.2,270.5 145.7,270.0 146.2,269.6 146.7,269.0 147.2,268.4 147.7,267.6 148.2,266.9 148.7,266.5 149.2,266.3 149.7,266.2 150.2,266.2 150.7,266.2 151.2,265.9 151.7,265.8 152.2,266.2 152.7,266.9 153.2,267.4 153.7,267.6 154.2,267.7 154.7,268.4 155.2,269.2 155.7,270.0 156.2,270.6 156.7,271.6 157.2,273.0 157.7,274.4 158.2,275.5 158.7,276.4 159.2,277.3 159.7,278.7 160.2,280.4 160.7,281.7 161.2,283.0 161.7,285.0 162.2,287.2 162.7,288.7 163.2,289.5 163.7,290.0 164.2,289.9 164.7,289.4 165.2,288.7 165.7,287.5 166.2,285.8 166.7,284.1 167.2,282.9 167.7,282.2 168.2,281.9 168.7,281.1 169.2,279.8 169.7,278.4 170.2,277.0 170.7,276.0 171.2,275.1 171.7,274.1 172.2,272.8 172.7,271.6 173.2,270.8 173.7,270.3 174.2,269.8 174.7,269.1 175.2,268.4 175.7,267.8 176.2,267.4 176.7,266.8 177.2,266.1 177.7,265.5 178.2,265.1 178.7,264.8 179.2,264.2 179.7,263.6 180.2,263.4 180.7,263.6 181.2,263.8 181.7,263.7 182.2,263.5 182.7,263.3 183.2,263.0 183.7,262.7 184.2,262.6 184.7,262.8 185.2,262.8 185.7,262.4 186.2,262.0 186.7,261.8 187.2,261.9 187.7,261.9 188.2,261.7 188.7,261.5 189.2,261.4 189.7,261.6 190.2,261.9 190.7,261.9 191.2,261.8 191.7,261.6 192.2,261.4 192.7,261.2 193.2,261.1 193.7,261.4 194.2,261.7 194.7,261.6 195.2,261.2 195.7,260.9 196.2,260.8 196.7,260.9 197.2,261.0 197.7,261.0 198.2,260.9 198.7,260.8 199.2,260.7 199.7,260.6 200.2,260.5 200.7,260.4 201.2,260.4 201.7,260.3 202.2,259.9 202.7,259.8 203.2,260.0 203.7,259.9 204.2,259.4 204.7,259.3 205.2,259.7 205.7,260.0 206.2,260.3 206.7,260.5 207.2,260.6 207.7,260.4 208.2,259.8 208.7,259.5 209.2,259.4 209.7,258.9 210.2,258.7 210.7,258.9 211.2,259.1 211.7,258.7 212.2,257.9 212.7,257.6 213.2,257.6 213.7,257.6 214.2,257.6 214.7,257.6 215.2,257.5 215.7,257.1 216.2,256.8 216.7,256.6 217.2,256.3 217.7,255.9 218.2,255.5 218.7,255.1 219.2,254.9 219.7,255.1 220.2,255.2 220.7,254.9 221.2,254.5 221.7,254.2" fill="none" stroke="#f6b81c" stroke-width="1.25" stroke-linejoin="round" stroke-linecap="round"/>
<polyline points="54.7,273.6 55.2,273.4 55.7,273.2 56.2,274.6 56.7,272.6 57.2,270.8 57.7,271.7 58.2,273.6 58.7,273.8 59.2,272.2 59.7,270.5 60.2,269.4 60.7,269.0 61.2,269.0 61.7,269.9 62.2,270.5 62.7,270.5 63.2,270.3 63.7,271.2 64.2,274.0 64.7,276.1 65.2,275.5 65.7,274.2 66.2,273.3 66.7,273.0 67.2,274.1 67.7,275.2 68.2,275.7 68.7,276.1 69.2,275.5 69.7,274.7 70.2,273.7 70.7,272.4 71.2,271.8 71.7,271.1 72.2,270.3 72.7,271.8 73.2,274.6 73.7,277.0 74.2,277.6 74.7,277.0 75.2,275.8 75.7,274.6 76.2,275.3 76.7,276.7 77.2,277.1 77.7,277.7 78.2,276.8 78.7,273.6 79.2,270.4 79.7,271.3 80.2,274.6 80.7,275.7 81.2,276.9 81.7,279.8 82.2,281.1 82.7,280.4 83.2,279.3 83.7,278.7 84.2,280.4 84.7,280.9 85.2,281.3 85.7,281.2 86.2,280.7 86.7,280.2 87.2,279.6 87.7,279.0 88.2,279.0 88.7,279.0 89.2,278.1 89.7,277.0 90.2,276.7 90.7,277.1 91.2,277.2 91.7,277.5 92.2,280.0 92.7,276.8 93.2,273.5 93.7,273.1 94.2,273.0 94.7,273.6 95.2,276.5 95.7,278.3 96.2,277.9 96.7,276.7 97.2,276.1 97.7,276.2 98.2,276.7 98.7,276.9 99.2,276.5 99.7,275.6 100.2,274.2 100.7,271.9 101.2,270.7 101.7,271.6 102.2,272.7 102.7,271.4 103.2,268.4 103.7,267.5 104.2,270.5 104.7,274.3 105.2,275.3 105.7,272.9 106.2,269.4 106.7,267.8 107.2,269.9 107.7,273.1 108.2,273.9 108.7,272.0 109.2,269.5 109.7,268.6 110.2,269.5 110.7,272.0 111.2,274.3 111.7,274.5 112.2,273.0 112.7,272.9 113.2,275.5 113.7,278.3 114.2,279.9 114.7,279.7 115.2,279.4 115.7,279.5 116.2,279.2 116.7,277.8 117.2,277.3 117.7,277.7 118.2,277.5 118.7,278.2 119.2,279.7 119.7,279.2 120.2,277.3 120.7,278.2 121.2,279.3 121.7,278.0 122.2,277.4 122.7,278.2 123.2,279.6 123.7,280.8 124.2,281.7 124.7,283.3 125.2,283.1 125.7,280.6 126.2,280.5 126.7,282.8 127.2,284.0 127.7,284.3 128.2,283.6 128.7,283.8 129.2,283.6 129.7,283.8 130.2,284.6 130.7,285.4 131.2,284.9 131.7,284.3 132.2,284.8 132.7,285.9 133.2,286.9 133.7,287.9 134.2,288.9 134.7,290.3 135.2,291.5 135.7,291.1 136.2,290.0 136.7,289.9 137.2,291.2 137.7,292.8 138.2,293.4 138.7,293.6 139.2,293.8 139.7,293.2 140.2,292.6 140.7,292.7 141.2,293.0 141.7,293.3 142.2,293.1 142.7,292.5 143.2,291.7 143.7,291.0 144.2,290.3 144.7,289.9 145.2,289.1 145.7,288.1 146.2,287.6 146.7,288.0 147.2,288.0 147.7,287.3 148.2,286.5 148.7,286.3 149.2,286.0 149.7,285.2 150.2,284.8 150.7,284.6 151.2,284.4 151.7,284.2 152.2,284.3 152.7,284.8 153.2,285.6 153.7,286.8 154.2,287.4 154.7,287.5 155.2,288.0 155.7,289.2 156.2,290.3 156.7,291.4 157.2,292.7 157.7,293.6 158.2,294.2 158.7,295.1 159.2,296.5 159.7,297.9 160.2,299.2 160.7,300.1 161.2,300.6 161.7,301.0 162.2,301.2 162.7,300.9 163.2,300.3 163.7,299.7 164.2,299.1 164.7,298.5 165.2,297.8 165.7,297.1 166.2,296.6 166.7,295.9 167.2,294.8 167.7,293.8 168.2,293.2 168.7,292.5 169.2,291.4 169.7,290.4 170.2,289.7 170.7,289.0 171.2,288.1 171.7,286.9 172.2,285.9 172.7,285.7 173.2,285.4 173.7,284.3 174.2,283.2 174.7,282.7 175.2,282.8 175.7,282.7 176.2,282.3 176.7,282.1 177.2,282.2 177.7,282.3 178.2,282.3 178.7,282.4 179.2,282.2 179.7,282.2 180.2,282.1 180.7,281.5 181.2,281.3 181.7,281.7 182.2,281.8 182.7,281.6 183.2,281.7 183.7,281.7 184.2,281.3 184.7,280.9 185.2,280.7 185.7,280.8 186.2,281.1 186.7,281.6 187.2,281.7 187.7,281.5 188.2,281.3 188.7,281.1 189.2,280.9 189.7,281.1 190.2,281.1 190.7,280.7 191.2,280.5 191.7,280.5 192.2,280.4 192.7,280.2 193.2,280.1 193.7,280.2 194.2,280.6 194.7,281.0 195.2,280.7 195.7,280.4 196.2,280.1 196.7,280.0 197.2,280.1 197.7,280.4 198.2,280.9 198.7,281.2 199.2,281.1 199.7,281.1 200.2,281.1 200.7,281.0 201.2,280.7 201.7,280.7 202.2,280.8 202.7,281.0 203.2,281.2 203.7,281.4 204.2,282.0 204.7,282.9 205.2,283.9 205.7,284.3 206.2,284.1 206.7,284.1 207.2,284.5 207.7,284.7 208.2,284.4 208.7,283.8 209.2,283.6 209.7,283.8 210.2,283.8 210.7,283.1 211.2,282.4 211.7,282.0 212.2,281.7 212.7,281.1 213.2,280.4 213.7,280.3 214.2,280.5 214.7,280.6 215.2,280.6 215.7,280.6 216.2,280.9 216.7,280.9 217.2,280.5 217.7,280.2 218.2,280.2 218.7,279.9 219.2,279.3 219.7,279.3 220.2,279.9 220.7,280.5 221.2,280.5 221.7,280.5" fill="none" stroke="#22cc22" stroke-width="1.25" stroke-linejoin="round" stroke-linecap="round"/>
<polyline points="54.7,290.6 55.2,290.8 55.7,290.9 56.2,291.2 56.7,291.7 57.2,291.9 57.7,291.8 58.2,291.9 58.7,292.2 59.2,292.1 59.7,292.2 60.2,292.4 60.7,292.5 61.2,292.5 61.7,293.0 62.2,293.5 62.7,293.8 63.2,293.7 63.7,293.6 64.2,293.5 64.7,293.6 65.2,294.2 65.7,294.7 66.2,294.8 66.7,294.8 67.2,295.0 67.7,295.1 68.2,295.4 68.7,295.7 69.2,295.9 69.7,296.2 70.2,296.5 70.7,296.7 71.2,296.9 71.7,297.3 72.2,297.5 72.7,297.6 73.2,297.6 73.7,297.7 74.2,298.3 74.7,298.8 75.2,299.0 75.7,299.3 76.2,299.7 76.7,300.0 77.2,300.5 77.7,301.0 78.2,301.4 78.7,302.0 79.2,302.7 79.7,303.4 80.2,303.9 80.7,304.2 81.2,304.5 81.7,305.1 82.2,305.7 82.7,306.2 83.2,306.9 83.7,307.2 84.2,307.2 84.7,307.2 85.2,307.3 85.7,307.1 86.2,306.9 86.7,306.9 87.2,307.0 87.7,307.0 88.2,306.7 88.7,306.2 89.2,305.9 89.7,305.8 90.2,305.5 90.7,305.2 91.2,305.0 91.7,304.9 92.2,304.7 92.7,304.3 93.2,303.7 93.7,303.0 94.2,302.4 94.7,301.9 95.2,301.4 95.7,300.9 96.2,300.8 96.7,301.0 97.2,301.2 97.7,301.2 98.2,301.2 98.7,301.0 99.2,300.8 99.7,300.9 100.2,301.2 100.7,301.6 101.2,301.9 101.7,302.2 102.2,302.5 102.7,302.4 103.2,302.1 103.7,302.0 104.2,302.0 104.7,301.9 105.2,301.7 105.7,301.8 106.2,302.1 106.7,302.4 107.2,302.4 107.7,302.6 108.2,302.9 108.7,303.0 109.2,303.2 109.7,303.5 110.2,303.3 110.7,303.3 111.2,303.5 111.7,303.5 112.2,303.4 112.7,303.5 113.2,303.6 113.7,303.5 114.2,303.5 114.7,303.7 115.2,304.0 115.7,304.3 116.2,304.4 116.7,304.3 117.2,304.5 117.7,304.7 118.2,304.9 118.7,305.1 119.2,305.2 119.7,305.2 120.2,305.3 120.7,305.5 121.2,305.8 121.7,305.9 122.2,305.8 122.7,305.9 123.2,306.3 123.7,306.8 124.2,307.0 124.7,307.0 125.2,307.2 125.7,307.4 126.2,307.7 126.7,307.9 127.2,308.3 127.7,308.7 128.2,309.2 128.7,309.7 129.2,310.1 129.7,310.5 130.2,311.0 130.7,311.5 131.2,312.0 131.7,312.5 132.2,313.2 132.7,313.8 133.2,314.3 133.7,314.4 134.2,314.5 134.7,315.1 135.2,315.7 135.7,315.9 136.2,316.2 136.7,316.8 137.2,317.7 137.7,318.1 138.2,318.4 138.7,318.6 139.2,319.1 139.7,319.2 140.2,318.8 140.7,318.4 141.2,317.9 141.7,317.4 142.2,317.0 142.7,316.8 143.2,316.6 143.7,315.9 144.2,314.9 144.7,314.1 145.2,313.7 145.7,313.1 146.2,312.3 146.7,311.4 147.2,310.8 147.7,310.4 148.2,309.7 148.7,308.7 149.2,307.6 149.7,306.6 150.2,305.9 150.7,305.3 151.2,304.9 151.7,304.4 152.2,304.3 152.7,304.5 153.2,304.8 153.7,305.1 154.2,305.5 154.7,306.1 155.2,306.7 155.7,307.4 156.2,307.9 156.7,308.3 157.2,309.0 157.7,310.5 158.2,312.1 158.7,313.7 159.2,315.5 159.7,317.5 160.2,318.9 160.7,320.3 161.2,322.1 161.7,324.0 162.2,326.0 162.7,327.8 163.2,329.0 163.7,329.5 164.2,329.3 164.7,328.8 165.2,327.7 165.7,326.2 166.2,324.5 166.7,322.7 167.2,321.0 167.7,319.4 168.2,317.7 168.7,316.0 169.2,314.4 169.7,313.0 170.2,311.4 170.7,310.1 171.2,308.9 171.7,307.6 172.2,306.3 172.7,305.3 173.2,304.4 173.7,303.6 174.2,303.2 174.7,302.9 175.2,302.4 175.7,301.8 176.2,301.3 176.7,300.8 177.2,300.2 177.7,299.4 178.2,298.9 178.7,298.8 179.2,298.6 179.7,298.2 180.2,297.8 180.7,297.5 181.2,297.2 181.7,296.9 182.2,296.5 182.7,296.2 183.2,296.1 183.7,296.0 184.2,296.1 184.7,296.2 185.2,295.9 185.7,295.5 186.2,295.3 186.7,295.3 187.2,295.5 187.7,295.5 188.2,295.4 188.7,295.3 189.2,295.4 189.7,295.3 190.2,295.1 190.7,294.9 191.2,294.6 191.7,294.5 192.2,294.5 192.7,294.5 193.2,294.6 193.7,294.7 194.2,294.5 194.7,294.3 195.2,294.3 195.7,294.7 196.2,295.1 196.7,295.2 197.2,294.9 197.7,294.4 198.2,294.2 198.7,294.6 199.2,295.1 199.7,295.1 200.2,294.7 200.7,294.7 201.2,295.1 201.7,295.4 202.2,295.5 202.7,295.4 203.2,295.3 203.7,295.3 204.2,295.5 204.7,295.6 205.2,295.4 205.7,295.4 206.2,295.8 206.7,296.2 207.2,296.0 207.7,295.7 208.2,295.6 208.7,295.8 209.2,295.9 209.7,296.0 210.2,296.0 210.7,295.8 211.2,295.6 211.7,295.7 212.2,295.6 212.7,295.6 213.2,295.9 213.7,296.1 214.2,296.2 214.7,296.1 215.2,296.0 215.7,296.3 216.2,296.6 216.7,296.4 217.2,296.3 217.7,296.4 218.2,296.6 218.7,296.4 219.2,296.2 219.7,296.3 220.2,296.8 220.7,297.0 221.2,297.0 221.7,297.1" fill="none" stroke="#1f78d6" stroke-width="1.25" stroke-linejoin="round" stroke-linecap="round"/>
<rect x="54.4" y="199.6" width="167.9" height="132.3" stroke="#222" stroke-width="1.1" fill="none"/>
<line x1="54.4" y1="212.4" x2="57" y2="212.4" stroke="#222" stroke-width="1"/>
<line x1="222.3" y1="212.4" x2="219.7" y2="212.4" stroke="#222" stroke-width="1"/>
<line x1="54.4" y1="230.2" x2="57" y2="230.2" stroke="#222" stroke-width="1"/>
<line x1="222.3" y1="230.2" x2="219.7" y2="230.2" stroke="#222" stroke-width="1"/>
<line x1="54.4" y1="248" x2="57" y2="248" stroke="#222" stroke-width="1"/>
<line x1="222.3" y1="248" x2="219.7" y2="248" stroke="#222" stroke-width="1"/>
<line x1="54.4" y1="265.8" x2="57" y2="265.8" stroke="#222" stroke-width="1"/>
<line x1="222.3" y1="265.8" x2="219.7" y2="265.8" stroke="#222" stroke-width="1"/>
<line x1="54.4" y1="283.6" x2="57" y2="283.6" stroke="#222" stroke-width="1"/>
<line x1="222.3" y1="283.6" x2="219.7" y2="283.6" stroke="#222" stroke-width="1"/>
<line x1="54.4" y1="301.4" x2="57" y2="301.4" stroke="#222" stroke-width="1"/>
<line x1="222.3" y1="301.4" x2="219.7" y2="301.4" stroke="#222" stroke-width="1"/>
<line x1="54.4" y1="319.2" x2="57" y2="319.2" stroke="#222" stroke-width="1"/>
<line x1="222.3" y1="319.2" x2="219.7" y2="319.2" stroke="#222" stroke-width="1"/>
<line x1="75.39" y1="199.6" x2="75.39" y2="202.2" stroke="#222" stroke-width="1"/>
<line x1="75.39" y1="331.9" x2="75.39" y2="329.3" stroke="#222" stroke-width="1"/>
<line x1="96.38" y1="199.6" x2="96.38" y2="202.2" stroke="#222" stroke-width="1"/>
<line x1="96.38" y1="331.9" x2="96.38" y2="329.3" stroke="#222" stroke-width="1"/>
<line x1="117.36" y1="199.6" x2="117.36" y2="202.2" stroke="#222" stroke-width="1"/>
<line x1="117.36" y1="331.9" x2="117.36" y2="329.3" stroke="#222" stroke-width="1"/>
<line x1="138.35" y1="199.6" x2="138.35" y2="202.2" stroke="#222" stroke-width="1"/>
<line x1="138.35" y1="331.9" x2="138.35" y2="329.3" stroke="#222" stroke-width="1"/>
<line x1="159.34" y1="199.6" x2="159.34" y2="202.2" stroke="#222" stroke-width="1"/>
<line x1="159.34" y1="331.9" x2="159.34" y2="329.3" stroke="#222" stroke-width="1"/>
<line x1="180.32" y1="199.6" x2="180.32" y2="202.2" stroke="#222" stroke-width="1"/>
<line x1="180.32" y1="331.9" x2="180.32" y2="329.3" stroke="#222" stroke-width="1"/>
<line x1="201.31" y1="199.6" x2="201.31" y2="202.2" stroke="#222" stroke-width="1"/>
<line x1="201.31" y1="331.9" x2="201.31" y2="329.3" stroke="#222" stroke-width="1"/>
<text x="56.3" y="341.6" font-size="9.8" fill="#222" text-anchor="middle" textLength="19.4" lengthAdjust="spacingAndGlyphs" stroke="#222" stroke-width="0.3">1800</text>
<text x="97.6" y="341.6" font-size="9.8" fill="#222" text-anchor="middle" textLength="19.4" lengthAdjust="spacingAndGlyphs" stroke="#222" stroke-width="0.3">1600</text>
<text x="140.1" y="341.6" font-size="9.8" fill="#222" text-anchor="middle" textLength="19.4" lengthAdjust="spacingAndGlyphs" stroke="#222" stroke-width="0.3">1400</text>
<text x="183.6" y="341.6" font-size="9.8" fill="#222" text-anchor="middle" textLength="19.4" lengthAdjust="spacingAndGlyphs" stroke="#222" stroke-width="0.3">1200</text>
<text x="221.2" y="341.6" font-size="9.8" fill="#222" text-anchor="middle" textLength="19.4" lengthAdjust="spacingAndGlyphs" stroke="#222" stroke-width="0.3">1000</text>
<text x="89.7" y="356.7" font-size="11.1" fill="#222" stroke="#222" stroke-width="0.3">Wavenumber (cm<tspan font-size="6.8" dy="-4.5">-1</tspan><tspan dy="4.5">)</tspan></text>
<text x="47" y="266.6" font-size="11" fill="#222" text-anchor="middle" textLength="95" lengthAdjust="spacingAndGlyphs" transform="rotate(-90 47 266.6)" stroke="#222" stroke-width="0.3">Transmission (a. u.)</text>
<text x="4.3" y="208" font-size="12.5" font-weight="bold" fill="#111" textLength="14.2" lengthAdjust="spacingAndGlyphs" stroke="#111" stroke-width="0.3">(c)</text>
<text x="58.7" y="326.5" font-size="11.4" fill="#222" stroke="#222" stroke-width="0.3">Saturated CO<tspan font-size="7.5" dy="3">2</tspan></text>
<text x="68.3" y="215.9" font-size="10.6" fill="#222" textLength="30.9" lengthAdjust="spacingAndGlyphs" stroke="#222" stroke-width="0.3">+C=O</text>
<text x="66.6" y="233.7" font-size="10.6" fill="#222" textLength="40.1" lengthAdjust="spacingAndGlyphs" stroke="#222" stroke-width="0.3">+H-O-H</text>
<text x="127.3" y="239.2" font-size="10.6" fill="#222" textLength="26" lengthAdjust="spacingAndGlyphs" stroke="#222" stroke-width="0.3">+C-O</text>
<text x="147.8" y="217.3" font-size="10.6" fill="#222" textLength="34.5" lengthAdjust="spacingAndGlyphs" stroke="#222" stroke-width="0.3">+C-OH</text>
<line x1="85.8" y1="235.5" x2="85.8" y2="304.2" stroke="#222" stroke-width="1.2"/>
<line x1="139.7" y1="242.5" x2="139.7" y2="315.1" stroke="#222" stroke-width="1.2"/>
<line x1="164.5" y1="222.1" x2="164.5" y2="319" stroke="#222" stroke-width="1.2"/>
<text x="224.5" y="230.5" font-size="10.8" fill="#e3262e" textLength="34.6" lengthAdjust="spacingAndGlyphs" stroke="#e3262e" stroke-width="0.3">-1.40 V</text>
<text x="224.5" y="245.2" font-size="10.8" fill="#f07a22" textLength="34.6" lengthAdjust="spacingAndGlyphs" stroke="#f07a22" stroke-width="0.3">-1.45 V</text>
<text x="224.5" y="258.3" font-size="10.8" fill="#f6b81c" textLength="34.6" lengthAdjust="spacingAndGlyphs" stroke="#f6b81c" stroke-width="0.3">-1.50 V</text>
<text x="224.5" y="283.6" font-size="10.8" fill="#22cc22" textLength="34.6" lengthAdjust="spacingAndGlyphs" stroke="#22cc22" stroke-width="0.3">-1.55 V</text>
<text x="224.5" y="300" font-size="10.8" fill="#1f78d6" textLength="34.6" lengthAdjust="spacingAndGlyphs" stroke="#1f78d6" stroke-width="0.3">-1.60 V</text>
<line x1="288.1" y1="201.5" x2="288.1" y2="322" stroke="#f0f0f0" stroke-width="0.8"/>
<text x="263.3" y="208" font-size="12.5" font-weight="bold" fill="#111" textLength="15.6" lengthAdjust="spacingAndGlyphs" stroke="#111" stroke-width="0.3">(d)</text>
<rect x="290.2" y="325.8" width="200.4" height="18.4" fill="url(#gAg)"/>
<line x1="290.2" y1="326.2" x2="490.6" y2="326.2" stroke="#555" stroke-width="0.8"/>
<line x1="290.6" y1="325.8" x2="290.6" y2="344.2" stroke="#666" stroke-width="0.8"/>
<text x="383.6" y="338.8" font-size="9.5" fill="#2a2a2a" textLength="11.6" lengthAdjust="spacingAndGlyphs" stroke="#2a2a2a" stroke-width="0.3">Ag</text>
<line x1="300.55" y1="227.96" x2="320.25" y2="241.86" stroke="#111" stroke-width="1"/>
<line x1="302.05" y1="225.84" x2="321.75" y2="239.74" stroke="#111" stroke-width="1"/>
<line x1="320.19" y1="241.82" x2="339.79" y2="257.42" stroke="#111" stroke-width="1"/>
<line x1="321.81" y1="239.78" x2="341.41" y2="255.38" stroke="#111" stroke-width="1"/>
<line x1="357.4" y1="296.5" x2="377.4" y2="310.6" stroke="#111" stroke-width="1.5"/>
<line x1="377.4" y1="310.6" x2="395.3" y2="295.8" stroke="#111" stroke-width="1.5"/>
<line x1="377.4" y1="316" x2="377.4" y2="326" stroke="#111" stroke-width="1.3"/>
<path d="M367.2,294.6 Q377.3,303.5 387.6,294.6" fill="none" stroke="#333" stroke-width="1.1" stroke-dasharray="1.6,1.1"/>
<line x1="403.6" y1="289.5" x2="407.6" y2="289.5" stroke="#111" stroke-width="1.1"/>
<line x1="424.85" y1="297.36" x2="444.55" y2="311.16" stroke="#111" stroke-width="1"/>
<line x1="426.35" y1="295.24" x2="446.05" y2="309.04" stroke="#111" stroke-width="1"/>
<line x1="445.3" y1="310.1" x2="464" y2="294.8" stroke="#111" stroke-width="1.5"/>
<line x1="464" y1="294.8" x2="481.8" y2="294.1" stroke="#111" stroke-width="1.5"/>
<line x1="445.3" y1="316" x2="445.3" y2="326" stroke="#111" stroke-width="1.3"/>
<circle cx="301.3" cy="226.9" r="7.3" fill="url(#gO)"/>
<text x="301.3" y="230" font-size="8.6" text-anchor="middle" fill="#2a2218" stroke="#2a2218" stroke-width="0.15">O</text>
<circle cx="321" cy="240.8" r="7.3" fill="url(#gC)"/>
<text x="321" y="243.9" font-size="8.6" text-anchor="middle" fill="#2a2218" stroke="#2a2218" stroke-width="0.15">C</text>
<circle cx="340.6" cy="256.4" r="7.3" fill="url(#gO)"/>
<text x="340.6" y="259.5" font-size="8.6" text-anchor="middle" fill="#2a2218" stroke="#2a2218" stroke-width="0.15">O</text>
<circle cx="357.4" cy="296.5" r="7.3" fill="url(#gO)"/>
<text x="357.4" y="299.6" font-size="8.6" text-anchor="middle" fill="#2a2218" stroke="#2a2218" stroke-width="0.15">O</text>
<circle cx="377.4" cy="310.6" r="7.3" fill="url(#gC)"/>
<text x="377.4" y="313.7" font-size="8.6" text-anchor="middle" fill="#2a2218" stroke="#2a2218" stroke-width="0.15">C</text>
<circle cx="395.3" cy="295.8" r="7.3" fill="url(#gO)"/>
<text x="395.3" y="298.9" font-size="8.6" text-anchor="middle" fill="#2a2218" stroke="#2a2218" stroke-width="0.15">O</text>
<circle cx="425.6" cy="296.3" r="7.3" fill="url(#gO)"/>
<text x="425.6" y="299.4" font-size="8.6" text-anchor="middle" fill="#2a2218" stroke="#2a2218" stroke-width="0.15">O</text>
<circle cx="445.3" cy="310.1" r="7.3" fill="url(#gC)"/>
<text x="445.3" y="313.2" font-size="8.6" text-anchor="middle" fill="#2a2218" stroke="#2a2218" stroke-width="0.15">C</text>
<circle cx="464" cy="294.8" r="7.3" fill="url(#gO)"/>
<text x="464" y="297.9" font-size="8.6" text-anchor="middle" fill="#2a2218" stroke="#2a2218" stroke-width="0.15">O</text>
<circle cx="481.8" cy="294.1" r="6.5" fill="url(#gH)"/>
<text x="481.8" y="297.2" font-size="8.6" text-anchor="middle" fill="#2a2218" stroke="#2a2218" stroke-width="0.15">H</text>
<path d="M336.84,227.61 L337.10,227.15 L337.40,226.70 L337.75,226.26 L338.13,225.82 L338.56,225.40 L339.03,224.98 L339.55,224.57 L340.10,224.17 L340.69,223.78 L341.33,223.41 L342.00,223.04 L342.70,222.69 L343.44,222.35 L344.22,222.03 L345.02,221.71 L345.86,221.42 L346.73,221.13 L347.62,220.86 L348.55,220.60 L349.49,220.35 L350.47,220.12 L351.46,219.90 L352.48,219.70 L353.52,219.50 L354.57,219.32 L355.65,219.16 L356.74,219.00 L357.85,218.86 L358.97,218.73 L360.10,218.61 L361.25,218.51 L362.40,218.41 L363.57,218.33 L364.74,218.25 L365.93,218.19 L367.11,218.14 L368.31,218.10 L369.50,218.07 L370.70,218.05 L370.70,215.95 L369.48,215.94 L368.27,215.94 L367.06,215.95 L365.85,215.97 L364.65,216.00 L363.45,216.05 L362.26,216.10 L361.07,216.17 L359.90,216.24 L358.74,216.33 L357.58,216.44 L356.44,216.55 L355.32,216.68 L354.20,216.82 L353.10,216.98 L352.02,217.15 L350.96,217.33 L349.91,217.53 L348.89,217.74 L347.88,217.97 L346.90,218.21 L345.94,218.47 L345.00,218.74 L344.08,219.04 L343.19,219.35 L342.33,219.68 L341.49,220.02 L340.68,220.39 L339.90,220.78 L339.15,221.19 L338.43,221.62 L337.74,222.07 L337.09,222.55 L336.47,223.05 L335.88,223.58 L335.34,224.14 L334.84,224.73 L334.38,225.34 L333.96,225.99 Z" fill="#fb8a1e"/>
<path d="M370.70,218.05 L372.95,218.09 L375.25,218.18 L377.57,218.31 L379.93,218.48 L382.32,218.69 L384.73,218.95 L387.17,219.26 L389.62,219.60 L392.08,220.00 L394.56,220.43 L397.04,220.91 L399.53,221.44 L402.02,222.01 L404.50,222.62 L406.98,223.28 L409.44,223.98 L411.90,224.73 L414.33,225.53 L416.75,226.36 L419.14,227.25 L421.50,228.18 L423.83,229.15 L426.13,230.17 L428.39,231.24 L430.60,232.35 L432.77,233.51 L434.89,234.71 L436.96,235.95 L438.98,237.24 L440.93,238.58 L442.82,239.96 L444.65,241.38 L446.40,242.85 L448.09,244.36 L449.69,245.92 L451.22,247.52 L452.66,249.16 L454.02,250.85 L455.30,252.58 L458.30,250.42 L456.90,248.59 L455.41,246.80 L453.83,245.08 L452.18,243.40 L450.45,241.79 L448.64,240.22 L446.77,238.71 L444.83,237.25 L442.83,235.84 L440.77,234.48 L438.65,233.18 L436.49,231.92 L434.27,230.72 L432.01,229.56 L429.71,228.45 L427.37,227.40 L425.00,226.39 L422.59,225.43 L420.16,224.51 L417.70,223.65 L415.22,222.83 L412.72,222.06 L410.20,221.33 L407.68,220.66 L405.14,220.02 L402.61,219.44 L400.07,218.90 L397.53,218.41 L395.00,217.96 L392.47,217.56 L389.96,217.20 L387.46,216.89 L384.98,216.62 L382.53,216.40 L380.10,216.22 L377.70,216.09 L375.33,216.00 L372.99,215.95 L370.70,215.95 Z" fill="#fb8a1e"/>
<polygon points="453.6,252.6 465.4,255.8 460.6,261.2" fill="#fb8a1e"/>
<path d="M346.96,249.65 L347.38,249.09 L347.87,248.56 L348.44,248.05 L349.07,247.57 L349.77,247.11 L350.53,246.70 L351.34,246.32 L352.21,245.99 L353.12,245.70 L354.07,245.47 L355.06,245.29 L356.08,245.16 L357.13,245.09 L358.20,245.08 L359.28,245.14 L360.38,245.26 L361.48,245.45 L362.58,245.71 L363.68,246.03 L364.77,246.44 L365.85,246.91 L366.92,247.47 L367.96,248.11 L368.98,248.82 L369.98,249.63 L370.94,250.52 L371.86,251.51 L372.75,252.58 L373.59,253.76 L374.38,255.04 L375.11,256.42 L375.79,257.90 L376.40,259.50 L376.94,261.21 L377.40,263.03 L377.78,264.97 L378.08,267.03 L378.29,269.22 L378.40,271.52 L380.80,271.48 L380.72,269.06 L380.53,266.76 L380.24,264.57 L379.87,262.49 L379.40,260.53 L378.84,258.67 L378.21,256.92 L377.50,255.27 L376.71,253.73 L375.86,252.29 L374.94,250.94 L373.96,249.70 L372.94,248.56 L371.86,247.51 L370.74,246.56 L369.58,245.71 L368.39,244.94 L367.17,244.27 L365.93,243.68 L364.67,243.19 L363.40,242.77 L362.13,242.44 L360.85,242.19 L359.58,242.02 L358.31,241.92 L357.06,241.89 L355.83,241.94 L354.62,242.06 L353.43,242.24 L352.28,242.49 L351.16,242.80 L350.08,243.18 L349.04,243.62 L348.06,244.12 L347.12,244.69 L346.25,245.31 L345.44,246.00 L344.70,246.74 L344.04,247.55 Z" fill="#1670b6"/>
<polygon points="374.2,270.6 384.0,272.8 376.8,280.4" fill="#1670b6"/>
<path d="M401.70,281.09 L401.79,279.62 L401.98,278.24 L402.26,276.94 L402.62,275.72 L403.07,274.57 L403.60,273.49 L404.19,272.48 L404.86,271.54 L405.59,270.67 L406.38,269.86 L407.24,269.12 L408.14,268.44 L409.10,267.83 L410.11,267.29 L411.15,266.81 L412.24,266.40 L413.35,266.06 L414.50,265.79 L415.66,265.59 L416.84,265.46 L418.03,265.40 L419.22,265.42 L420.42,265.50 L421.60,265.65 L422.78,265.88 L423.93,266.17 L425.07,266.54 L426.17,266.98 L427.24,267.48 L428.28,268.06 L429.27,268.70 L430.21,269.41 L431.10,270.20 L431.93,271.05 L432.70,271.97 L433.40,272.96 L434.03,274.03 L434.59,275.16 L435.06,276.37 L437.34,275.63 L436.84,274.22 L436.25,272.88 L435.55,271.62 L434.78,270.43 L433.92,269.32 L432.98,268.29 L431.97,267.34 L430.90,266.47 L429.78,265.67 L428.60,264.96 L427.38,264.33 L426.12,263.78 L424.82,263.31 L423.50,262.92 L422.15,262.61 L420.79,262.38 L419.41,262.24 L418.03,262.17 L416.64,262.19 L415.26,262.29 L413.89,262.48 L412.53,262.75 L411.19,263.10 L409.87,263.54 L408.59,264.07 L407.34,264.69 L406.14,265.40 L404.98,266.19 L403.88,267.08 L402.84,268.07 L401.87,269.14 L400.98,270.31 L400.18,271.56 L399.47,272.91 L398.85,274.34 L398.34,275.86 L397.94,277.46 L397.66,279.15 L397.50,280.91 Z" fill="#1670b6"/>
<polygon points="432.0,275.4 442.4,276.4 437.6,281.8" fill="#1670b6"/>
<path d="M310,263.2 C310.6,279 316.5,286.6 323.5,287.6 C331,288.8 336.2,297 338,308.6" fill="none" stroke="#111" stroke-width="1.15"/>
<path d="M335.0,305.6 L338.0,310.4 L341.0,305.6" fill="none" stroke="#111" stroke-width="1.15" stroke-linejoin="miter"/>
<text font-size="8.2" fill="#222" stroke="#222" stroke-width="0.3"><textPath href="#tp1" textLength="72" lengthAdjust="spacing">Low overpotential:</textPath></text>
<text font-size="8.0" fill="#222" stroke="#222" stroke-width="0.3"><textPath href="#tp2" textLength="64" lengthAdjust="spacing">(PCET) + H<tspan font-size="5.5" dy="-3.5">+</tspan><tspan dy="3.5"> + e</tspan><tspan font-size="5.5" dy="-3.5">-</tspan></textPath></text>
<text x="342.2" y="238.8" font-size="8.9" fill="#222" textLength="76" lengthAdjust="spacingAndGlyphs" stroke="#222" stroke-width="0.3">High overpotential:</text>
<text x="373.9" y="249.6" font-size="8.9" fill="#222" stroke="#222" stroke-width="0.3">+e<tspan font-size="5.5" dy="-3.8">-</tspan></text>
<text x="412.2" y="261.4" font-size="8.9" fill="#222" stroke="#222" stroke-width="0.3">+H<tspan font-size="5.5" dy="-3.8">+</tspan></text>
<rect x="50.4" y="367.1" width="181" height="146.5" stroke="#333" stroke-width="1.1" fill="none"/>
<line x1="46.2" y1="513.6" x2="50.4" y2="513.6" stroke="#333" stroke-width="0.9"/>
<line x1="48.2" y1="509.41" x2="50.4" y2="509.41" stroke="#333" stroke-width="0.9"/>
<line x1="48.2" y1="505.23" x2="50.4" y2="505.23" stroke="#333" stroke-width="0.9"/>
<line x1="48.2" y1="501.04" x2="50.4" y2="501.04" stroke="#333" stroke-width="0.9"/>
<line x1="48.2" y1="496.86" x2="50.4" y2="496.86" stroke="#333" stroke-width="0.9"/>
<line x1="46.2" y1="492.67" x2="50.4" y2="492.67" stroke="#333" stroke-width="0.9"/>
<line x1="48.2" y1="488.49" x2="50.4" y2="488.49" stroke="#333" stroke-width="0.9"/>
<line x1="48.2" y1="484.3" x2="50.4" y2="484.3" stroke="#333" stroke-width="0.9"/>
<line x1="48.2" y1="480.11" x2="50.4" y2="480.11" stroke="#333" stroke-width="0.9"/>
<line x1="48.2" y1="475.93" x2="50.4" y2="475.93" stroke="#333" stroke-width="0.9"/>
<line x1="46.2" y1="471.74" x2="50.4" y2="471.74" stroke="#333" stroke-width="0.9"/>
<line x1="48.2" y1="467.56" x2="50.4" y2="467.56" stroke="#333" stroke-width="0.9"/>
<line x1="48.2" y1="463.37" x2="50.4" y2="463.37" stroke="#333" stroke-width="0.9"/>
<line x1="48.2" y1="459.19" x2="50.4" y2="459.19" stroke="#333" stroke-width="0.9"/>
<line x1="48.2" y1="455" x2="50.4" y2="455" stroke="#333" stroke-width="0.9"/>
<line x1="46.2" y1="450.81" x2="50.4" y2="450.81" stroke="#333" stroke-width="0.9"/>
<line x1="48.2" y1="446.63" x2="50.4" y2="446.63" stroke="#333" stroke-width="0.9"/>
<line x1="48.2" y1="442.44" x2="50.4" y2="442.44" stroke="#333" stroke-width="0.9"/>
<line x1="48.2" y1="438.26" x2="50.4" y2="438.26" stroke="#333" stroke-width="0.9"/>
<line x1="48.2" y1="434.07" x2="50.4" y2="434.07" stroke="#333" stroke-width="0.9"/>
<line x1="46.2" y1="429.89" x2="50.4" y2="429.89" stroke="#333" stroke-width="0.9"/>
<line x1="48.2" y1="425.7" x2="50.4" y2="425.7" stroke="#333" stroke-width="0.9"/>
<line x1="48.2" y1="421.51" x2="50.4" y2="421.51" stroke="#333" stroke-width="0.9"/>
<line x1="48.2" y1="417.33" x2="50.4" y2="417.33" stroke="#333" stroke-width="0.9"/>
<line x1="48.2" y1="413.14" x2="50.4" y2="413.14" stroke="#333" stroke-width="0.9"/>
<line x1="46.2" y1="408.96" x2="50.4" y2="408.96" stroke="#333" stroke-width="0.9"/>
<line x1="48.2" y1="404.77" x2="50.4" y2="404.77" stroke="#333" stroke-width="0.9"/>
<line x1="48.2" y1="400.59" x2="50.4" y2="400.59" stroke="#333" stroke-width="0.9"/>
<line x1="48.2" y1="396.4" x2="50.4" y2="396.4" stroke="#333" stroke-width="0.9"/>
<line x1="48.2" y1="392.21" x2="50.4" y2="392.21" stroke="#333" stroke-width="0.9"/>
<line x1="46.2" y1="388.03" x2="50.4" y2="388.03" stroke="#333" stroke-width="0.9"/>
<line x1="48.2" y1="383.84" x2="50.4" y2="383.84" stroke="#333" stroke-width="0.9"/>
<line x1="48.2" y1="379.66" x2="50.4" y2="379.66" stroke="#333" stroke-width="0.9"/>
<line x1="48.2" y1="375.47" x2="50.4" y2="375.47" stroke="#333" stroke-width="0.9"/>
<line x1="48.2" y1="371.29" x2="50.4" y2="371.29" stroke="#333" stroke-width="0.9"/>
<line x1="46.2" y1="367.1" x2="50.4" y2="367.1" stroke="#333" stroke-width="0.9"/>
<text x="43.8" y="516.6" font-size="8.6" font-weight="bold" fill="#333" text-anchor="end" textLength="11.8" lengthAdjust="spacingAndGlyphs" stroke="#333" stroke-width="0.3">0.0</text>
<text x="43.8" y="495.67" font-size="8.6" font-weight="bold" fill="#333" text-anchor="end" textLength="11.8" lengthAdjust="spacingAndGlyphs" stroke="#333" stroke-width="0.3">0.1</text>
<text x="43.8" y="474.74" font-size="8.6" font-weight="bold" fill="#333" text-anchor="end" textLength="11.8" lengthAdjust="spacingAndGlyphs" stroke="#333" stroke-width="0.3">0.2</text>
<text x="43.8" y="453.81" font-size="8.6" font-weight="bold" fill="#333" text-anchor="end" textLength="11.8" lengthAdjust="spacingAndGlyphs" stroke="#333" stroke-width="0.3">0.3</text>
<text x="43.8" y="432.89" font-size="8.6" font-weight="bold" fill="#333" text-anchor="end" textLength="11.8" lengthAdjust="spacingAndGlyphs" stroke="#333" stroke-width="0.3">0.4</text>
<text x="43.8" y="411.96" font-size="8.6" font-weight="bold" fill="#333" text-anchor="end" textLength="11.8" lengthAdjust="spacingAndGlyphs" stroke="#333" stroke-width="0.3">0.5</text>
<text x="43.8" y="391.03" font-size="8.6" font-weight="bold" fill="#333" text-anchor="end" textLength="11.8" lengthAdjust="spacingAndGlyphs" stroke="#333" stroke-width="0.3">0.6</text>
<text x="43.8" y="370.1" font-size="8.6" font-weight="bold" fill="#333" text-anchor="end" textLength="11.8" lengthAdjust="spacingAndGlyphs" stroke="#333" stroke-width="0.3">0.7</text>
<line x1="50.4" y1="513.6" x2="50.4" y2="517.8" stroke="#333" stroke-width="0.9"/>
<line x1="61.71" y1="513.6" x2="61.71" y2="515.8" stroke="#333" stroke-width="0.9"/>
<line x1="73.03" y1="513.6" x2="73.03" y2="515.8" stroke="#333" stroke-width="0.9"/>
<line x1="84.34" y1="513.6" x2="84.34" y2="515.8" stroke="#333" stroke-width="0.9"/>
<line x1="95.65" y1="513.6" x2="95.65" y2="517.8" stroke="#333" stroke-width="0.9"/>
<line x1="106.96" y1="513.6" x2="106.96" y2="515.8" stroke="#333" stroke-width="0.9"/>
<line x1="118.28" y1="513.6" x2="118.28" y2="515.8" stroke="#333" stroke-width="0.9"/>
<line x1="129.59" y1="513.6" x2="129.59" y2="515.8" stroke="#333" stroke-width="0.9"/>
<line x1="140.9" y1="513.6" x2="140.9" y2="517.8" stroke="#333" stroke-width="0.9"/>
<line x1="152.21" y1="513.6" x2="152.21" y2="515.8" stroke="#333" stroke-width="0.9"/>
<line x1="163.53" y1="513.6" x2="163.53" y2="515.8" stroke="#333" stroke-width="0.9"/>
<line x1="174.84" y1="513.6" x2="174.84" y2="515.8" stroke="#333" stroke-width="0.9"/>
<line x1="186.15" y1="513.6" x2="186.15" y2="517.8" stroke="#333" stroke-width="0.9"/>
<line x1="197.46" y1="513.6" x2="197.46" y2="515.8" stroke="#333" stroke-width="0.9"/>
<line x1="208.78" y1="513.6" x2="208.78" y2="515.8" stroke="#333" stroke-width="0.9"/>
<line x1="220.09" y1="513.6" x2="220.09" y2="515.8" stroke="#333" stroke-width="0.9"/>
<line x1="231.4" y1="513.6" x2="231.4" y2="517.8" stroke="#333" stroke-width="0.9"/>
<text x="50.4" y="528.9" font-size="9.4" font-weight="bold" fill="#333" text-anchor="middle" stroke="#333" stroke-width="0.3">0</text>
<text x="95.65" y="528.9" font-size="9.4" font-weight="bold" fill="#333" text-anchor="middle" stroke="#333" stroke-width="0.3">20</text>
<text x="140.9" y="528.9" font-size="9.4" font-weight="bold" fill="#333" text-anchor="middle" stroke="#333" stroke-width="0.3">40</text>
<text x="186.15" y="528.9" font-size="9.4" font-weight="bold" fill="#333" text-anchor="middle" stroke="#333" stroke-width="0.3">60</text>
<text x="231.4" y="528.9" font-size="9.4" font-weight="bold" fill="#333" text-anchor="middle" stroke="#333" stroke-width="0.3">80</text>
<text x="121.3" y="540" font-size="9.4" font-weight="bold" fill="#222" textLength="42.9" lengthAdjust="spacingAndGlyphs" stroke="#222" stroke-width="0.3">Time (min)</text>
<text x="28" y="439.5" font-size="9.1" font-weight="bold" fill="#222" text-anchor="middle" transform="rotate(-90 28 439.5)" stroke="#222" stroke-width="0.3"><tspan font-size="5.6" dy="-3.3">13</tspan><tspan dy="3.3">CO</tspan><tspan font-size="5.6" dy="2.2">ad</tspan><tspan dy="-2.2">:</tspan><tspan font-size="5.6" dy="-3.3">12</tspan><tspan dy="3.3">CO</tspan><tspan font-size="5.6" dy="2.2">ad</tspan><tspan dy="-2.2"> Intensity (a.u.)</tspan></text>
<text x="114.6" y="508" font-size="6.85" font-weight="bold" fill="#222" stroke="#222" stroke-width="0.3">0.5 M NaH<tspan font-size="4.5" dy="-3">12</tspan><tspan dy="3">CO</tspan><tspan font-size="4.5" dy="1.5">3</tspan><tspan dy="-1.5"> under </tspan><tspan font-size="4.5" dy="-3">13</tspan><tspan dy="3">CO</tspan><tspan font-size="4.5" dy="1.5">2</tspan><tspan dy="-1.5"> on Au</tspan></text>
<text x="4.5" y="349" font-size="12.5" font-weight="bold" fill="#111" textLength="16" lengthAdjust="spacingAndGlyphs" stroke="#111" stroke-width="0.3">(e)</text>
<circle cx="63.1" cy="378.6" r="1.95" fill="#111"/>
<text x="72.3" y="381.8" font-size="8.8" font-weight="bold" fill="#222" textLength="80" lengthAdjust="spacingAndGlyphs" stroke="#222" stroke-width="0.3">Reduction at -0.6 V</text>
<circle cx="73.7" cy="389.0" r="1.8" fill="none" stroke="#5b9be0" stroke-width="0.95"/>
<text x="82.1" y="392" font-size="8.8" font-weight="bold" fill="#222" textLength="50.2" lengthAdjust="spacingAndGlyphs" stroke="#222" stroke-width="0.3">traces in (b)</text>
<polygon points="63.1,397.6 66.1,400.6 63.1,403.6 60.1,400.6" fill="#ee1111"/>
<text x="72.3" y="402.6" font-size="8.8" font-weight="bold" fill="#222" textLength="80" lengthAdjust="spacingAndGlyphs" stroke="#222" stroke-width="0.3">Reduction at -0.4 V</text>
<text x="72.3" y="413.2" font-size="8.8" font-weight="bold" fill="#222" textLength="49.9" lengthAdjust="spacingAndGlyphs" stroke="#222" stroke-width="0.3">traces in (c)</text>
<circle cx="57.3" cy="505.4" r="1.75" fill="#111"/>
<circle cx="60.7" cy="497.1" r="1.75" fill="#111"/>
<circle cx="64" cy="497.8" r="1.75" fill="#111"/>
<circle cx="67.4" cy="499.8" r="1.75" fill="#111"/>
<circle cx="70.8" cy="513.6" r="1.75" fill="#111"/>
<circle cx="74" cy="509.8" r="1.75" fill="#111"/>
<circle cx="77.5" cy="507.1" r="1.75" fill="#111"/>
<circle cx="80.9" cy="500.5" r="1.75" fill="#111"/>
<circle cx="87.8" cy="506.4" r="1.75" fill="#111"/>
<circle cx="91.1" cy="503.6" r="1.75" fill="#111"/>
<circle cx="94.5" cy="497.5" r="1.75" fill="#111"/>
<circle cx="97.9" cy="511.3" r="1.75" fill="#111"/>
<circle cx="101.5" cy="495.8" r="1.75" fill="#111"/>
<circle cx="104.9" cy="492.4" r="1.75" fill="#111"/>
<circle cx="108.2" cy="490.5" r="1.75" fill="#111"/>
<circle cx="111.6" cy="492.7" r="1.75" fill="#111"/>
<circle cx="115" cy="493.2" r="1.75" fill="#111"/>
<circle cx="121.5" cy="479.7" r="1.75" fill="#111"/>
<circle cx="124.9" cy="479.6" r="1.75" fill="#111"/>
<circle cx="128.5" cy="478.9" r="1.75" fill="#111"/>
<circle cx="132" cy="475.1" r="1.75" fill="#111"/>
<circle cx="135.5" cy="476.3" r="1.75" fill="#111"/>
<circle cx="138.7" cy="473.6" r="1.75" fill="#111"/>
<circle cx="142.1" cy="454.2" r="1.75" fill="#111"/>
<circle cx="145.5" cy="463.7" r="1.75" fill="#111"/>
<circle cx="148.9" cy="455.4" r="1.75" fill="#111"/>
<circle cx="155.7" cy="453.3" r="1.75" fill="#111"/>
<circle cx="159.1" cy="448.7" r="1.75" fill="#111"/>
<circle cx="162.4" cy="451.3" r="1.75" fill="#111"/>
<circle cx="165.9" cy="444.5" r="1.75" fill="#111"/>
<circle cx="169.2" cy="429.2" r="1.75" fill="#111"/>
<circle cx="172.6" cy="437.4" r="1.75" fill="#111"/>
<circle cx="176.1" cy="445.9" r="1.75" fill="#111"/>
<circle cx="179.4" cy="428.1" r="1.75" fill="#111"/>
<circle cx="183" cy="444.9" r="1.75" fill="#111"/>
<circle cx="189.5" cy="423.8" r="1.75" fill="#111"/>
<circle cx="193.1" cy="418.7" r="1.75" fill="#111"/>
<circle cx="196.5" cy="423.2" r="1.75" fill="#111"/>
<circle cx="199.9" cy="419.3" r="1.75" fill="#111"/>
<circle cx="206.6" cy="404" r="1.75" fill="#111"/>
<circle cx="210" cy="416.9" r="1.75" fill="#111"/>
<circle cx="213.4" cy="409.5" r="1.75" fill="#111"/>
<circle cx="216.7" cy="404.4" r="1.75" fill="#111"/>
<circle cx="223.5" cy="383.7" r="1.75" fill="#111"/>
<circle cx="226.8" cy="401.2" r="1.75" fill="#111"/>
<circle cx="230.3" cy="400.5" r="1.75" fill="#111"/>
<circle cx="53.6" cy="506.2" r="1.75" fill="none" stroke="#2f6fdc" stroke-width="1.05"/>
<circle cx="84.3" cy="508.7" r="1.75" fill="none" stroke="#2f6fdc" stroke-width="1.05"/>
<circle cx="118.4" cy="489.9" r="1.75" fill="none" stroke="#2f6fdc" stroke-width="1.05"/>
<circle cx="152.2" cy="449.5" r="1.75" fill="none" stroke="#2f6fdc" stroke-width="1.05"/>
<circle cx="186.1" cy="429.3" r="1.75" fill="none" stroke="#2f6fdc" stroke-width="1.05"/>
<circle cx="220.1" cy="408" r="1.75" fill="none" stroke="#2f6fdc" stroke-width="1.05"/>
<polygon points="152.3,465.1 154.6,467.4 152.3,469.7 150,467.4" fill="#ee1111"/>
<polygon points="169.2,440.3 171.5,442.6 169.2,444.9 166.9,442.6" fill="#ee1111"/>
<polygon points="186.2,407.3 188.5,409.6 186.2,411.9 183.9,409.6" fill="#ee1111"/>
<polygon points="203.3,410.2 205.6,412.5 203.3,414.8 201,412.5" fill="#ee1111"/>
<polyline points="262.4,414.3 262.9,414.2 263.4,414.1 263.9,414.2 264.4,414.2 264.9,414.3 265.4,414.2 265.9,414.1 266.4,414.1 266.9,414.1 267.4,414.3 267.9,414.4 268.4,414.4 268.9,414.3 269.4,414.2 269.9,413.9 270.4,413.7 270.9,413.5 271.4,413.4 271.9,413.3 272.4,413.2 272.9,413.2 273.4,413.1 273.9,413.0 274.4,412.8 274.9,412.6 275.4,412.4 275.9,412.1 276.4,411.9 276.9,411.7 277.4,411.5 277.9,411.2 278.4,410.8 278.9,410.4 279.4,410.0 279.9,409.7 280.4,409.4 280.9,409.0 281.4,408.6 281.9,408.2 282.4,407.7 282.9,407.3 283.4,407.0 283.9,406.7 284.4,406.4 284.9,406.2 285.4,406.0 285.9,405.7 286.4,405.4 286.9,405.0 287.4,404.7 287.9,404.5 288.4,404.4 288.9,404.5 289.4,404.6 289.9,404.7 290.4,405.0 290.9,405.2 291.4,405.6 291.9,405.9 292.4,406.3 292.9,406.6 293.4,406.8 293.9,407.0 294.4,407.3 294.9,407.6 295.4,407.9 295.9,408.4 296.4,408.9 296.9,409.4 297.4,409.9 297.9,410.4 298.4,410.8 298.9,411.1 299.4,411.3 299.9,411.5 300.4,411.8 300.9,412.0 301.4,412.3 301.9,412.6 302.4,412.8 302.9,413.0 303.4,413.1 303.9,413.2 304.4,413.1 304.9,413.1 305.4,413.0 305.9,412.9 306.4,412.8 306.9,412.6 307.4,412.3 307.9,412.0 308.4,411.7 308.9,411.3 309.4,411.1 309.9,410.8 310.4,410.7 310.9,410.5 311.4,410.3 311.9,410.0 312.4,409.8 312.9,409.6 313.4,409.7 313.9,409.9 314.4,410.1 314.9,410.4 315.4,410.6 315.9,410.7 316.4,410.9 316.9,411.1 317.4,411.3 317.9,411.5 318.4,411.6 318.9,411.8 319.4,411.9 319.9,412.2 320.4,412.4 320.9,412.7 321.4,413.0 321.9,413.4 322.4,413.6 322.9,413.7 323.4,413.6 323.9,413.4 324.4,413.2 324.9,413.0 325.4,412.9 325.9,412.9 326.4,413.0 326.9,413.0 327.4,413.0 327.9,413.0 328.4,413.1 328.9,413.3 329.4,413.4 329.9,413.6 330.4,413.7 330.9,413.8 331.4,413.8 331.9,413.7 332.4,413.7 332.9,413.6 333.4,413.4 333.9,413.3 334.4,413.3 334.9,413.4 335.4,413.5 335.9,413.6 336.4,413.7 336.9,413.8 337.4,413.8 337.9,413.8 338.4,413.8 338.9,413.8 339.4,413.8 339.9,413.7 340.4,413.7 340.9,413.7 341.4,413.7 341.9,413.8 342.4,413.8 342.9,413.8 343.4,413.8" fill="none" stroke="#1f6fd8" stroke-width="1.4" stroke-linejoin="round" stroke-linecap="round"/>
<polyline points="262.4,426.7 262.9,426.5 263.4,426.4 263.9,426.4 264.4,426.4 264.9,426.5 265.4,426.5 265.9,426.5 266.4,426.4 266.9,426.2 267.4,426.0 267.9,425.8 268.4,425.7 268.9,425.6 269.4,425.5 269.9,425.5 270.4,425.5 270.9,425.4 271.4,425.2 271.9,425.1 272.4,425.0 272.9,424.9 273.4,424.7 273.9,424.4 274.4,424.1 274.9,423.7 275.4,423.3 275.9,423.1 276.4,422.9 276.9,422.7 277.4,422.4 277.9,421.9 278.4,421.3 278.9,420.6 279.4,420.0 279.9,419.4 280.4,418.9 280.9,418.5 281.4,417.9 281.9,417.3 282.4,416.7 282.9,416.1 283.4,415.4 283.9,414.8 284.4,414.2 284.9,413.7 285.4,413.2 285.9,412.8 286.4,412.4 286.9,412.2 287.4,412.1 287.9,412.2 288.4,412.3 288.9,412.6 289.4,413.1 289.9,413.7 290.4,414.3 290.9,414.8 291.4,415.3 291.9,415.7 292.4,416.2 292.9,416.5 293.4,416.8 293.9,417.1 294.4,417.5 294.9,418.0 295.4,418.6 295.9,419.2 296.4,419.8 296.9,420.3 297.4,420.7 297.9,421.0 298.4,421.2 298.9,421.5 299.4,421.9 299.9,422.2 300.4,422.7 300.9,423.0 301.4,423.4 301.9,423.5 302.4,423.5 302.9,423.5 303.4,423.3 303.9,423.3 304.4,423.2 304.9,423.1 305.4,423.0 305.9,422.8 306.4,422.7 306.9,422.5 307.4,422.3 307.9,422.0 308.4,421.7 308.9,421.5 309.4,421.4 309.9,421.2 310.4,421.1 310.9,420.9 311.4,420.7 311.9,420.6 312.4,420.4 312.9,420.3 313.4,420.2 313.9,420.0 314.4,419.9 314.9,420.0 315.4,420.1 315.9,420.3 316.4,420.7 316.9,421.1 317.4,421.6 317.9,422.0 318.4,422.4 318.9,422.7 319.4,423.0 319.9,423.3 320.4,423.7 320.9,424.0 321.4,424.3 321.9,424.6 322.4,425.0 322.9,425.3 323.4,425.7 323.9,426.0 324.4,426.2 324.9,426.4 325.4,426.4 325.9,426.4 326.4,426.5 326.9,426.5 327.4,426.6 327.9,426.7 328.4,426.8 328.9,426.9 329.4,426.9 329.9,426.9 330.4,426.9 330.9,426.9 331.4,426.9 331.9,427.0 332.4,427.0 332.9,427.0 333.4,427.0 333.9,426.9 334.4,426.8 334.9,426.7 335.4,426.7 335.9,426.8 336.4,427.0 336.9,427.2 337.4,427.4 337.9,427.6 338.4,427.6 338.9,427.6 339.4,427.5 339.9,427.3 340.4,427.2 340.9,427.2 341.4,427.3 341.9,427.3 342.4,427.3 342.9,427.3 343.4,427.3" fill="none" stroke="#1f6fd8" stroke-width="1.4" stroke-linejoin="round" stroke-linecap="round"/>
<polyline points="262.4,436.4 262.9,436.1 263.4,435.9 263.9,435.9 264.4,435.9 264.9,436.0 265.4,436.2 265.9,436.4 266.4,436.7 266.9,436.9 267.4,436.9 267.9,436.8 268.4,436.6 268.9,436.4 269.4,436.2 269.9,436.1 270.4,436.1 270.9,436.1 271.4,436.1 271.9,436.1 272.4,435.9 272.9,435.6 273.4,435.2 273.9,434.8 274.4,434.4 274.9,434.2 275.4,434.1 275.9,434.0 276.4,433.8 276.9,433.7 277.4,433.5 277.9,433.2 278.4,432.9 278.9,432.5 279.4,432.1 279.9,431.3 280.4,430.4 280.9,429.3 281.4,428.2 281.9,427.0 282.4,426.0 282.9,425.0 283.4,424.2 283.9,423.4 284.4,422.5 284.9,421.4 285.4,420.3 285.9,419.3 286.4,418.5 286.9,418.1 287.4,418.0 287.9,418.2 288.4,418.6 288.9,419.1 289.4,419.8 289.9,420.4 290.4,421.0 290.9,421.8 291.4,422.7 291.9,423.8 292.4,425.1 292.9,426.4 293.4,427.7 293.9,429.0 294.4,430.2 294.9,431.3 295.4,432.3 295.9,433.3 296.4,434.2 296.9,435.0 297.4,435.7 297.9,436.2 298.4,436.6 298.9,436.9 299.4,437.2 299.9,437.4 300.4,437.5 300.9,437.5 301.4,437.5 301.9,437.4 302.4,437.3 302.9,437.2 303.4,437.2 303.9,437.1 304.4,437.2 304.9,437.4 305.4,437.4 305.9,437.4 306.4,437.1 306.9,436.7 307.4,436.2 307.9,435.6 308.4,435.1 308.9,434.7 309.4,434.5 309.9,434.4 310.4,434.4 310.9,434.3 311.4,434.0 311.9,433.7 312.4,433.3 312.9,433.0 313.4,432.7 313.9,432.6 314.4,432.7 314.9,432.9 315.4,433.2 315.9,433.5 316.4,433.8 316.9,434.1 317.4,434.4 317.9,434.7 318.4,435.0 318.9,435.2 319.4,435.4 319.9,435.6 320.4,435.9 320.9,436.1 321.4,436.4 321.9,436.7 322.4,437.0 322.9,437.2 323.4,437.4 323.9,437.4 324.4,437.4 324.9,437.3 325.4,437.3 325.9,437.4 326.4,437.5 326.9,437.6 327.4,437.6 327.9,437.6 328.4,437.6 328.9,437.5 329.4,437.6 329.9,437.6 330.4,437.6 330.9,437.6 331.4,437.6 331.9,437.7 332.4,437.7 332.9,437.8 333.4,437.9 333.9,437.9 334.4,437.9 334.9,437.8 335.4,437.7 335.9,437.5 336.4,437.4 336.9,437.3 337.4,437.3 337.9,437.4 338.4,437.4 338.9,437.5 339.4,437.5 339.9,437.5 340.4,437.5 340.9,437.5 341.4,437.5 341.9,437.4 342.4,437.1 342.9,436.9 343.4,436.7" fill="none" stroke="#1f6fd8" stroke-width="1.4" stroke-linejoin="round" stroke-linecap="round"/>
<polyline points="262.4,449.7 262.9,449.6 263.4,449.4 263.9,449.4 264.4,449.3 264.9,449.4 265.4,449.4 265.9,449.4 266.4,449.4 266.9,449.3 267.4,449.2 267.9,449.2 268.4,449.3 268.9,449.3 269.4,449.4 269.9,449.3 270.4,449.1 270.9,448.9 271.4,448.8 271.9,448.7 272.4,448.7 272.9,448.7 273.4,448.5 273.9,448.2 274.4,447.9 274.9,447.6 275.4,447.4 275.9,447.3 276.4,447.1 276.9,446.9 277.4,446.8 277.9,446.6 278.4,446.5 278.9,446.3 279.4,445.9 279.9,445.2 280.4,444.4 280.9,443.4 281.4,442.3 281.9,441.1 282.4,439.8 282.9,438.5 283.4,437.3 283.9,436.0 284.4,434.4 284.9,432.6 285.4,430.9 285.9,429.4 286.4,428.4 286.9,428.1 287.4,428.3 287.9,428.8 288.4,429.2 288.9,429.7 289.4,430.1 289.9,430.7 290.4,431.5 290.9,432.6 291.4,433.9 291.9,435.2 292.4,436.4 292.9,437.6 293.4,438.6 293.9,439.7 294.4,440.7 294.9,441.6 295.4,442.6 295.9,443.3 296.4,444.0 296.9,444.5 297.4,445.0 297.9,445.5 298.4,446.0 298.9,446.4 299.4,446.8 299.9,447.1 300.4,447.3 300.9,447.4 301.4,447.5 301.9,447.5 302.4,447.6 302.9,447.7 303.4,447.8 303.9,447.9 304.4,448.0 304.9,448.2 305.4,448.4 305.9,448.6 306.4,448.6 306.9,448.4 307.4,448.2 307.9,448.1 308.4,447.9 308.9,447.6 309.4,447.3 309.9,447.0 310.4,446.7 310.9,446.5 311.4,446.3 311.9,446.2 312.4,446.1 312.9,446.0 313.4,445.9 313.9,445.9 314.4,446.0 314.9,446.1 315.4,446.2 315.9,446.5 316.4,446.7 316.9,447.0 317.4,447.3 317.9,447.6 318.4,448.0 318.9,448.3 319.4,448.6 319.9,448.7 320.4,448.7 320.9,448.8 321.4,448.8 321.9,448.9 322.4,449.1 322.9,449.2 323.4,449.2 323.9,449.3 324.4,449.3 324.9,449.3 325.4,449.2 325.9,449.2 326.4,449.1 326.9,449.1 327.4,449.1 327.9,449.2 328.4,449.3 328.9,449.3 329.4,449.3 329.9,449.2 330.4,449.1 330.9,449.2 331.4,449.2 331.9,449.2 332.4,449.2 332.9,449.2 333.4,449.2 333.9,449.2 334.4,449.3 334.9,449.4 335.4,449.4 335.9,449.5 336.4,449.7 336.9,449.8 337.4,450.0 337.9,449.9 338.4,449.7 338.9,449.5 339.4,449.3 339.9,449.3 340.4,449.4 340.9,449.6 341.4,449.7 341.9,449.8 342.4,449.9 342.9,449.8 343.4,449.7" fill="none" stroke="#1f6fd8" stroke-width="1.4" stroke-linejoin="round" stroke-linecap="round"/>
<polyline points="262.4,462.1 262.9,462.2 263.4,462.2 263.9,462.1 264.4,462.0 264.9,461.8 265.4,461.7 265.9,461.6 266.4,461.6 266.9,461.5 267.4,461.6 267.9,461.6 268.4,461.6 268.9,461.7 269.4,461.8 269.9,461.8 270.4,461.7 270.9,461.6 271.4,461.4 271.9,461.3 272.4,461.3 272.9,461.3 273.4,461.3 273.9,461.2 274.4,461.1 274.9,460.8 275.4,460.6 275.9,460.3 276.4,460.2 276.9,460.1 277.4,459.9 277.9,459.7 278.4,459.3 278.9,458.8 279.4,458.3 279.9,457.7 280.4,457.0 280.9,456.2 281.4,455.2 281.9,454.1 282.4,452.9 282.9,451.7 283.4,450.4 283.9,449.0 284.4,447.3 284.9,445.3 285.4,443.4 285.9,441.7 286.4,440.5 286.9,439.9 287.4,440.0 287.9,440.3 288.4,440.8 288.9,441.5 289.4,442.3 289.9,443.2 290.4,444.2 290.9,445.5 291.4,446.9 291.9,448.3 292.4,449.7 292.9,450.8 293.4,451.8 293.9,452.6 294.4,453.3 294.9,453.9 295.4,454.5 295.9,455.0 296.4,455.5 296.9,455.9 297.4,456.3 297.9,456.8 298.4,457.2 298.9,457.6 299.4,457.9 299.9,458.2 300.4,458.4 300.9,458.5 301.4,458.6 301.9,458.8 302.4,459.1 302.9,459.5 303.4,460.0 303.9,460.4 304.4,460.8 304.9,461.0 305.4,461.0 305.9,460.8 306.4,460.7 306.9,460.6 307.4,460.6 307.9,460.7 308.4,460.7 308.9,460.7 309.4,460.4 309.9,460.1 310.4,459.8 310.9,459.6 311.4,459.5 311.9,459.6 312.4,459.7 312.9,459.8 313.4,459.7 313.9,459.7 314.4,459.7 314.9,459.7 315.4,459.8 315.9,459.9 316.4,459.9 316.9,459.9 317.4,460.0 317.9,460.1 318.4,460.2 318.9,460.3 319.4,460.4 319.9,460.5 320.4,460.8 320.9,460.9 321.4,461.1 321.9,461.2 322.4,461.3 322.9,461.3 323.4,461.3 323.9,461.4 324.4,461.3 324.9,461.2 325.4,461.1 325.9,461.0 326.4,461.1 326.9,461.3 327.4,461.4 327.9,461.5 328.4,461.6 328.9,461.6 329.4,461.7 329.9,461.8 330.4,461.9 330.9,462.0 331.4,462.1 331.9,462.1 332.4,462.1 332.9,462.2 333.4,462.2 333.9,462.1 334.4,462.0 334.9,462.0 335.4,462.0 335.9,462.1 336.4,462.3 336.9,462.4 337.4,462.5 337.9,462.5 338.4,462.5 338.9,462.3 339.4,462.2 339.9,462.1 340.4,461.9 340.9,461.9 341.4,461.9 341.9,462.0 342.4,462.1 342.9,462.2 343.4,462.2" fill="none" stroke="#1f6fd8" stroke-width="1.4" stroke-linejoin="round" stroke-linecap="round"/>
<polyline points="262.4,472.9 262.9,472.8 263.4,472.7 263.9,472.6 264.4,472.6 264.9,472.6 265.4,472.6 265.9,472.6 266.4,472.6 266.9,472.6 267.4,472.7 267.9,472.7 268.4,472.7 268.9,472.6 269.4,472.6 269.9,472.6 270.4,472.7 270.9,472.7 271.4,472.7 271.9,472.7 272.4,472.8 272.9,472.9 273.4,473.1 273.9,473.3 274.4,473.4 274.9,473.4 275.4,473.4 275.9,473.3 276.4,473.1 276.9,472.6 277.4,472.0 277.9,471.3 278.4,470.5 278.9,469.7 279.4,469.1 279.9,468.5 280.4,467.6 280.9,466.2 281.4,464.3 281.9,462.2 282.4,460.0 282.9,458.1 283.4,456.4 283.9,454.6 284.4,453.0 284.9,451.7 285.4,450.8 285.9,450.5 286.4,450.6 286.9,450.8 287.4,451.0 287.9,451.3 288.4,451.7 288.9,452.2 289.4,453.0 289.9,454.2 290.4,455.7 290.9,457.2 291.4,458.7 291.9,460.0 292.4,461.0 292.9,461.9 293.4,462.8 293.9,463.8 294.4,464.8 294.9,465.7 295.4,466.5 295.9,467.1 296.4,467.4 296.9,467.5 297.4,467.6 297.9,467.8 298.4,468.1 298.9,468.5 299.4,468.8 299.9,469.1 300.4,469.3 300.9,469.5 301.4,469.5 301.9,469.6 302.4,469.7 302.9,469.9 303.4,470.0 303.9,470.1 304.4,470.2 304.9,470.4 305.4,470.6 305.9,470.9 306.4,471.1 306.9,471.2 307.4,471.2 307.9,471.2 308.4,471.2 308.9,471.3 309.4,471.4 309.9,471.6 310.4,471.7 310.9,471.9 311.4,471.9 311.9,472.0 312.4,472.0 312.9,471.9 313.4,471.9 313.9,471.9 314.4,472.0 314.9,472.2 315.4,472.3 315.9,472.5 316.4,472.6 316.9,472.7 317.4,472.7 317.9,472.7 318.4,472.7 318.9,472.6 319.4,472.6 319.9,472.5 320.4,472.4 320.9,472.1 321.4,471.9 321.9,471.7 322.4,471.6 322.9,471.7 323.4,471.9 323.9,472.1 324.4,472.3 324.9,472.5 325.4,472.7 325.9,472.9 326.4,473.1 326.9,473.2 327.4,473.2 327.9,473.2 328.4,473.0 328.9,472.9 329.4,472.8 329.9,472.9 330.4,473.0 330.9,473.0 331.4,473.1 331.9,473.1 332.4,473.1 332.9,473.1 333.4,473.1 333.9,473.0 334.4,473.0 334.9,472.9 335.4,472.9 335.9,472.8 336.4,472.6 336.9,472.4 337.4,472.3 337.9,472.3 338.4,472.4 338.9,472.6 339.4,472.7 339.9,472.7 340.4,472.7 340.9,472.8 341.4,472.9 341.9,472.9 342.4,473.0 342.9,473.0 343.4,473.0" fill="none" stroke="#1f6fd8" stroke-width="1.4" stroke-linejoin="round" stroke-linecap="round"/>
<rect x="262" y="372.4" width="82.2" height="105" stroke="#222" stroke-width="1.1" fill="none"/>
<line x1="262" y1="477.4" x2="262" y2="483.4" stroke="#222" stroke-width="1.1"/>
<line x1="267.48" y1="477.4" x2="267.48" y2="480.6" stroke="#222" stroke-width="1.1"/>
<line x1="272.96" y1="477.4" x2="272.96" y2="480.6" stroke="#222" stroke-width="1.1"/>
<line x1="278.44" y1="477.4" x2="278.44" y2="480.6" stroke="#222" stroke-width="1.1"/>
<line x1="283.92" y1="477.4" x2="283.92" y2="480.6" stroke="#222" stroke-width="1.1"/>
<line x1="289.4" y1="477.4" x2="289.4" y2="483.4" stroke="#222" stroke-width="1.1"/>
<line x1="294.88" y1="477.4" x2="294.88" y2="480.6" stroke="#222" stroke-width="1.1"/>
<line x1="300.36" y1="477.4" x2="300.36" y2="480.6" stroke="#222" stroke-width="1.1"/>
<line x1="305.84" y1="477.4" x2="305.84" y2="480.6" stroke="#222" stroke-width="1.1"/>
<line x1="311.32" y1="477.4" x2="311.32" y2="480.6" stroke="#222" stroke-width="1.1"/>
<line x1="316.8" y1="477.4" x2="316.8" y2="483.4" stroke="#222" stroke-width="1.1"/>
<line x1="322.28" y1="477.4" x2="322.28" y2="480.6" stroke="#222" stroke-width="1.1"/>
<line x1="327.76" y1="477.4" x2="327.76" y2="480.6" stroke="#222" stroke-width="1.1"/>
<line x1="333.24" y1="477.4" x2="333.24" y2="480.6" stroke="#222" stroke-width="1.1"/>
<line x1="338.72" y1="477.4" x2="338.72" y2="480.6" stroke="#222" stroke-width="1.1"/>
<line x1="344.2" y1="477.4" x2="344.2" y2="483.4" stroke="#222" stroke-width="1.1"/>
<text x="261.2" y="497.1" font-size="9.8" font-weight="bold" fill="#222" text-anchor="middle" textLength="20.2" lengthAdjust="spacingAndGlyphs" stroke="#222" stroke-width="0.3">2150</text>
<text x="289.1" y="497.1" font-size="9.8" font-weight="bold" fill="#222" text-anchor="middle" textLength="20.2" lengthAdjust="spacingAndGlyphs" stroke="#222" stroke-width="0.3">2100</text>
<text x="316.5" y="497.1" font-size="9.8" font-weight="bold" fill="#222" text-anchor="middle" textLength="20.2" lengthAdjust="spacingAndGlyphs" stroke="#222" stroke-width="0.3">2050</text>
<text x="343.9" y="497.1" font-size="9.8" font-weight="bold" fill="#222" text-anchor="middle" textLength="20.2" lengthAdjust="spacingAndGlyphs" stroke="#222" stroke-width="0.3">2000</text>
<text x="253.6" y="517.4" font-size="11.45" font-weight="bold" fill="#222" stroke="#222" stroke-width="0.3">Wavenumber (cm<tspan font-size="7.0" dy="-6">-1</tspan><tspan dy="6">)</tspan></text>
<text x="253.6" y="424.5" font-size="11.6" font-weight="bold" fill="#222" text-anchor="middle" textLength="97.8" lengthAdjust="spacingAndGlyphs" transform="rotate(-90 253.6 424.5)" stroke="#222" stroke-width="0.3">Absorbance (a.u.)</text>
<text x="247.8" y="363.6" font-size="12" font-weight="bold" fill="#111" textLength="12.7" lengthAdjust="spacingAndGlyphs" stroke="#111" stroke-width="0.3">(f)</text>
<text x="311.2" y="385" font-size="10" font-weight="bold" fill="#222" textLength="29.1" lengthAdjust="spacingAndGlyphs" stroke="#222" stroke-width="0.3">-0.6 V</text>
<text x="271.5" y="393.1" font-size="11" font-weight="bold" fill="#222" stroke="#222" stroke-width="0.3"><tspan font-size="6.4" dy="-6">12</tspan><tspan dy="6">CO</tspan></text>
<text x="300.5" y="400.9" font-size="11" font-weight="bold" fill="#222" stroke="#222" stroke-width="0.3"><tspan font-size="6.4" dy="-6">13</tspan><tspan dy="6">CO</tspan></text>
<line x1="288.4" y1="397" x2="288.4" y2="477" stroke="#111" stroke-width="1.8" stroke-dasharray="3.2,3"/>
<line x1="314.1" y1="402.8" x2="314.1" y2="477" stroke="#111" stroke-width="1.8" stroke-dasharray="3.2,3"/>
<line x1="350.4" y1="472" x2="350.4" y2="411.6" stroke="#111" stroke-width="1.6"/>
<polygon points="350.4,406.6 347.5,415.8 353.3,415.8" fill="#111"/>
<text x="355.4" y="426.9" font-size="11.2" font-weight="bold" fill="#222" textLength="26.2" lengthAdjust="spacingAndGlyphs" transform="rotate(90 355.4 426.9)" stroke="#222" stroke-width="0.3">Time</text>
<polyline points="408.6,416.4 409.1,416.8 409.6,417.2 410.1,417.5 410.6,417.7 411.1,417.6 411.6,417.5 412.1,417.4 412.6,417.4 413.1,417.5 413.6,417.6 414.1,417.7 414.6,417.7 415.1,417.8 415.6,417.8 416.1,417.7 416.6,417.7 417.1,417.6 417.6,417.6 418.1,417.6 418.6,417.7 419.1,417.7 419.6,417.6 420.1,417.6 420.6,417.5 421.1,417.3 421.6,417.0 422.1,416.8 422.6,416.5 423.1,416.2 423.6,416.0 424.1,415.7 424.6,415.3 425.1,414.8 425.6,414.3 426.1,413.8 426.6,413.5 427.1,413.1 427.6,412.8 428.1,412.6 428.6,412.3 429.1,412.0 429.6,411.7 430.1,411.4 430.6,411.2 431.1,410.9 431.6,410.6 432.1,410.3 432.6,410.0 433.1,409.7 433.6,409.5 434.1,409.5 434.6,409.7 435.1,409.9 435.6,410.3 436.1,410.5 436.6,410.7 437.1,410.9 437.6,411.3 438.1,411.8 438.6,412.3 439.1,412.7 439.6,413.2 440.1,413.6 440.6,414.1 441.1,414.6 441.6,415.2 442.1,415.9 442.6,416.4 443.1,416.8 443.6,417.1 444.1,417.1 444.6,417.1 445.1,417.1 445.6,417.2 446.1,417.4 446.6,417.6 447.1,417.9 447.6,418.3 448.1,418.5 448.6,418.5 449.1,418.6 449.6,418.6 450.1,418.6 450.6,418.5 451.1,418.3 451.6,418.0 452.1,417.7 452.6,417.3 453.1,417.0 453.6,416.7 454.1,416.4 454.6,416.2 455.1,415.9 455.6,415.5 456.1,414.8 456.6,414.1 457.1,413.3 457.6,412.7 458.1,412.4 458.6,412.3 459.1,412.3 459.6,412.5 460.1,412.7 460.6,412.8 461.1,412.8 461.6,412.9 462.1,412.9 462.6,413.0 463.1,413.2 463.6,413.5 464.1,413.8 464.6,414.1 465.1,414.4 465.6,414.6 466.1,414.8 466.6,414.9 467.1,414.8 467.6,414.7 468.1,414.6 468.6,414.5 469.1,414.5 469.6,414.7 470.1,415.0 470.6,415.4 471.1,415.8 471.6,416.1 472.1,416.3 472.6,416.4 473.1,416.4 473.6,416.3 474.1,416.3 474.6,416.6 475.1,416.9 475.6,417.2 476.1,417.3 476.6,417.3 477.1,417.1 477.6,416.7 478.1,416.4 478.6,416.2 479.1,416.0 479.6,416.0 480.1,416.0 480.6,416.1 481.1,416.1 481.6,416.1 482.1,416.1 482.6,416.2 483.1,416.3 483.6,416.4 484.1,416.4 484.6,416.3 485.1,416.3 485.6,416.3 486.1,416.3 486.6,416.2 487.1,415.9 487.6,415.5 488.1,415.2 488.6,415.1 489.1,415.2 489.6,415.4" fill="none" stroke="#f03030" stroke-width="1.4" stroke-linejoin="round" stroke-linecap="round"/>
<polyline points="408.6,436.0 409.1,436.4 409.6,436.6 410.1,436.6 410.6,436.6 411.1,436.7 411.6,436.8 412.1,437.1 412.6,437.3 413.1,437.3 413.6,437.1 414.1,436.9 414.6,436.6 415.1,436.5 415.6,436.5 416.1,436.6 416.6,436.9 417.1,437.3 417.6,437.7 418.1,438.0 418.6,438.1 419.1,437.9 419.6,437.4 420.1,436.9 420.6,436.2 421.1,435.8 421.6,435.5 422.1,435.1 422.6,434.7 423.1,434.2 423.6,433.5 424.1,432.9 424.6,432.3 425.1,431.9 425.6,431.4 426.1,431.0 426.6,430.6 427.1,430.1 427.6,429.5 428.1,428.8 428.6,428.1 429.1,427.2 429.6,426.5 430.1,425.8 430.6,425.4 431.1,425.2 431.6,425.1 432.1,425.1 432.6,425.0 433.1,424.7 433.6,424.3 434.1,423.8 434.6,423.4 435.1,423.3 435.6,423.5 436.1,424.2 436.6,425.0 437.1,425.9 437.6,426.6 438.1,427.3 438.6,427.9 439.1,428.6 439.6,429.4 440.1,430.1 440.6,430.8 441.1,431.5 441.6,432.2 442.1,432.8 442.6,433.4 443.1,433.9 443.6,434.3 444.1,434.8 444.6,435.2 445.1,435.6 445.6,436.0 446.1,436.4 446.6,436.8 447.1,437.1 447.6,437.5 448.1,437.9 448.6,438.3 449.1,438.8 449.6,439.3 450.1,439.6 450.6,439.6 451.1,439.5 451.6,439.4 452.1,439.4 452.6,439.6 453.1,439.9 453.6,439.7 454.1,439.2 454.6,438.3 455.1,437.2 455.6,436.0 456.1,434.9 456.6,433.8 457.1,432.8 457.6,431.8 458.1,431.0 458.6,430.3 459.1,429.9 459.6,429.9 460.1,430.1 460.6,430.3 461.1,430.5 461.6,430.6 462.1,430.7 462.6,430.8 463.1,431.2 463.6,431.7 464.1,432.2 464.6,432.6 465.1,432.9 465.6,433.1 466.1,433.3 466.6,433.7 467.1,434.1 467.6,434.5 468.1,434.9 468.6,435.1 469.1,435.1 469.6,435.2 470.1,435.2 470.6,435.3 471.1,435.4 471.6,435.6 472.1,435.8 472.6,436.1 473.1,436.4 473.6,436.7 474.1,437.0 474.6,437.1 475.1,437.1 475.6,436.9 476.1,436.8 476.6,436.7 477.1,436.7 477.6,436.9 478.1,437.0 478.6,437.0 479.1,437.0 479.6,437.0 480.1,437.0 480.6,437.0 481.1,437.0 481.6,437.1 482.1,437.1 482.6,437.2 483.1,437.2 483.6,437.1 484.1,436.7 484.6,436.4 485.1,436.2 485.6,436.1 486.1,436.3 486.6,436.3 487.1,436.3 487.6,436.0 488.1,435.7 488.6,435.3 489.1,435.1 489.6,435.0" fill="none" stroke="#f03030" stroke-width="1.4" stroke-linejoin="round" stroke-linecap="round"/>
<polyline points="408.6,452.7 409.1,452.7 409.6,452.8 410.1,452.8 410.6,452.9 411.1,452.8 411.6,452.7 412.1,452.5 412.6,452.3 413.1,452.1 413.6,452.0 414.1,452.0 414.6,452.0 415.1,452.0 415.6,452.2 416.1,452.4 416.6,452.7 417.1,453.0 417.6,453.3 418.1,453.4 418.6,453.3 419.1,453.1 419.6,452.7 420.1,452.1 420.6,451.6 421.1,451.0 421.6,450.4 422.1,449.8 422.6,449.2 423.1,448.6 423.6,448.0 424.1,447.4 424.6,446.9 425.1,446.5 425.6,446.0 426.1,445.4 426.6,444.8 427.1,444.2 427.6,443.6 428.1,443.0 428.6,442.5 429.1,442.0 429.6,441.5 430.1,441.0 430.6,440.6 431.1,440.1 431.6,439.6 432.1,439.0 432.6,438.4 433.1,438.0 433.6,437.7 434.1,437.6 434.6,437.6 435.1,437.7 435.6,438.2 436.1,438.8 436.6,439.6 437.1,440.5 437.6,441.4 438.1,442.3 438.6,443.2 439.1,444.0 439.6,444.9 440.1,445.6 440.6,446.4 441.1,447.0 441.6,447.7 442.1,448.4 442.6,449.0 443.1,449.6 443.6,450.1 444.1,450.6 444.6,451.1 445.1,451.8 445.6,452.4 446.1,452.9 446.6,453.3 447.1,453.7 447.6,454.2 448.1,454.8 448.6,455.3 449.1,455.6 449.6,455.7 450.1,455.5 450.6,455.4 451.1,455.2 451.6,455.1 452.1,455.0 452.6,454.8 453.1,454.6 453.6,454.2 454.1,453.9 454.6,453.5 455.1,453.1 455.6,452.6 456.1,451.9 456.6,451.2 457.1,450.5 457.6,449.9 458.1,449.5 458.6,449.3 459.1,449.3 459.6,449.4 460.1,449.5 460.6,449.6 461.1,449.8 461.6,450.0 462.1,450.2 462.6,450.4 463.1,450.5 463.6,450.7 464.1,450.9 464.6,451.1 465.1,451.3 465.6,451.5 466.1,451.8 466.6,452.2 467.1,452.6 467.6,453.1 468.1,453.3 468.6,453.4 469.1,453.4 469.6,453.2 470.1,453.1 470.6,453.1 471.1,453.0 471.6,453.0 472.1,452.9 472.6,452.8 473.1,452.8 473.6,452.8 474.1,452.9 474.6,453.2 475.1,453.5 475.6,453.7 476.1,453.8 476.6,453.6 477.1,453.4 477.6,453.2 478.1,453.1 478.6,453.1 479.1,453.3 479.6,453.3 480.1,453.3 480.6,453.0 481.1,452.7 481.6,452.5 482.1,452.5 482.6,452.6 483.1,452.9 483.6,453.2 484.1,453.4 484.6,453.7 485.1,454.0 485.6,454.3 486.1,454.5 486.6,454.5 487.1,454.4 487.6,454.2 488.1,454.0 488.6,453.8 489.1,453.7 489.6,453.8" fill="none" stroke="#f03030" stroke-width="1.4" stroke-linejoin="round" stroke-linecap="round"/>
<polyline points="408.6,471.1 409.1,471.4 409.6,471.6 410.1,471.7 410.6,471.8 411.1,471.8 411.6,471.8 412.1,471.8 412.6,471.8 413.1,472.0 413.6,472.1 414.1,472.3 414.6,472.4 415.1,472.3 415.6,472.2 416.1,471.9 416.6,471.8 417.1,471.7 417.6,471.6 418.1,471.6 418.6,471.6 419.1,471.6 419.6,471.5 420.1,471.3 420.6,471.2 421.1,471.0 421.6,470.8 422.1,470.6 422.6,470.4 423.1,470.0 423.6,469.5 424.1,468.8 424.6,468.0 425.1,467.2 425.6,466.3 426.1,465.3 426.6,464.2 427.1,463.2 427.6,462.3 428.1,461.7 428.6,461.1 429.1,460.3 429.6,459.2 430.1,457.9 430.6,456.5 431.1,455.2 431.6,454.1 432.1,453.2 432.6,452.6 433.1,452.0 433.6,451.6 434.1,451.3 434.6,451.3 435.1,451.7 435.6,452.4 436.1,453.3 436.6,454.3 437.1,455.4 437.6,456.5 438.1,457.4 438.6,458.2 439.1,459.0 439.6,460.0 440.1,461.2 440.6,462.6 441.1,464.1 441.6,465.6 442.1,466.8 442.6,467.8 443.1,468.6 443.6,469.2 444.1,469.9 444.6,470.3 445.1,470.6 445.6,470.8 446.1,470.9 446.6,471.0 447.1,471.1 447.6,471.3 448.1,471.4 448.6,471.5 449.1,471.7 449.6,471.8 450.1,471.8 450.6,471.7 451.1,471.6 451.6,471.4 452.1,471.3 452.6,471.3 453.1,471.4 453.6,471.5 454.1,471.4 454.6,471.1 455.1,470.7 455.6,470.2 456.1,469.9 456.6,469.6 457.1,469.6 457.6,469.6 458.1,469.6 458.6,469.4 459.1,469.1 459.6,468.7 460.1,468.3 460.6,468.0 461.1,468.0 461.6,468.1 462.1,468.3 462.6,468.4 463.1,468.5 463.6,468.5 464.1,468.4 464.6,468.7 465.1,469.2 465.6,470.0 466.1,470.8 466.6,471.3 467.1,471.6 467.6,471.5 468.1,471.2 468.6,470.9 469.1,470.8 469.6,470.8 470.1,470.8 470.6,470.9 471.1,471.1 471.6,471.2 472.1,471.3 472.6,471.3 473.1,471.3 473.6,471.4 474.1,471.6 474.6,471.8 475.1,471.9 475.6,471.8 476.1,471.6 476.6,471.4 477.1,471.2 477.6,471.2 478.1,471.2 478.6,471.2 479.1,471.2 479.6,471.2 480.1,471.3 480.6,471.4 481.1,471.6 481.6,471.8 482.1,472.0 482.6,472.1 483.1,472.3 483.6,472.4 484.1,472.7 484.6,473.0 485.1,473.2 485.6,473.1 486.1,472.9 486.6,472.5 487.1,472.1 487.6,471.8 488.1,471.8 488.6,471.8 489.1,471.9 489.6,471.9" fill="none" stroke="#f03030" stroke-width="1.4" stroke-linejoin="round" stroke-linecap="round"/>
<rect x="408.2" y="372.4" width="82.2" height="105" stroke="#222" stroke-width="1.1" fill="none"/>
<line x1="408.2" y1="477.4" x2="408.2" y2="483.4" stroke="#222" stroke-width="1.1"/>
<line x1="413.68" y1="477.4" x2="413.68" y2="480.6" stroke="#222" stroke-width="1.1"/>
<line x1="419.16" y1="477.4" x2="419.16" y2="480.6" stroke="#222" stroke-width="1.1"/>
<line x1="424.64" y1="477.4" x2="424.64" y2="480.6" stroke="#222" stroke-width="1.1"/>
<line x1="430.12" y1="477.4" x2="430.12" y2="480.6" stroke="#222" stroke-width="1.1"/>
<line x1="435.6" y1="477.4" x2="435.6" y2="483.4" stroke="#222" stroke-width="1.1"/>
<line x1="441.08" y1="477.4" x2="441.08" y2="480.6" stroke="#222" stroke-width="1.1"/>
<line x1="446.56" y1="477.4" x2="446.56" y2="480.6" stroke="#222" stroke-width="1.1"/>
<line x1="452.04" y1="477.4" x2="452.04" y2="480.6" stroke="#222" stroke-width="1.1"/>
<line x1="457.52" y1="477.4" x2="457.52" y2="480.6" stroke="#222" stroke-width="1.1"/>
<line x1="463" y1="477.4" x2="463" y2="483.4" stroke="#222" stroke-width="1.1"/>
<line x1="468.48" y1="477.4" x2="468.48" y2="480.6" stroke="#222" stroke-width="1.1"/>
<line x1="473.96" y1="477.4" x2="473.96" y2="480.6" stroke="#222" stroke-width="1.1"/>
<line x1="479.44" y1="477.4" x2="479.44" y2="480.6" stroke="#222" stroke-width="1.1"/>
<line x1="484.92" y1="477.4" x2="484.92" y2="480.6" stroke="#222" stroke-width="1.1"/>
<line x1="490.4" y1="477.4" x2="490.4" y2="483.4" stroke="#222" stroke-width="1.1"/>
<text x="407.4" y="497.1" font-size="9.8" font-weight="bold" fill="#222" text-anchor="middle" textLength="20.2" lengthAdjust="spacingAndGlyphs" stroke="#222" stroke-width="0.3">2150</text>
<text x="435.3" y="497.1" font-size="9.8" font-weight="bold" fill="#222" text-anchor="middle" textLength="20.2" lengthAdjust="spacingAndGlyphs" stroke="#222" stroke-width="0.3">2100</text>
<text x="462.7" y="497.1" font-size="9.8" font-weight="bold" fill="#222" text-anchor="middle" textLength="20.2" lengthAdjust="spacingAndGlyphs" stroke="#222" stroke-width="0.3">2050</text>
<text x="490.1" y="497.1" font-size="9.8" font-weight="bold" fill="#222" text-anchor="middle" textLength="20.2" lengthAdjust="spacingAndGlyphs" stroke="#222" stroke-width="0.3">2000</text>
<text x="399.8" y="517.4" font-size="11.45" font-weight="bold" fill="#222" stroke="#222" stroke-width="0.3">Wavenumber (cm<tspan font-size="7.0" dy="-6">-1</tspan><tspan dy="6">)</tspan></text>
<text x="399.8" y="424.5" font-size="11.6" font-weight="bold" fill="#222" text-anchor="middle" textLength="97.8" lengthAdjust="spacingAndGlyphs" transform="rotate(-90 399.8 424.5)" stroke="#222" stroke-width="0.3">Absorbance (a.u.)</text>
<text x="366.3" y="363.6" font-size="12" font-weight="bold" fill="#111" textLength="14" lengthAdjust="spacingAndGlyphs" stroke="#111" stroke-width="0.3">(g)</text>
<text x="457.4" y="385.5" font-size="10" font-weight="bold" fill="#222" textLength="29.1" lengthAdjust="spacingAndGlyphs" stroke="#222" stroke-width="0.3">-0.4 V</text>
<text x="417.7" y="395.7" font-size="11" font-weight="bold" fill="#222" stroke="#222" stroke-width="0.3"><tspan font-size="6.4" dy="-6">12</tspan><tspan dy="6">CO</tspan></text>
<text x="446.7" y="402.9" font-size="11" font-weight="bold" fill="#222" stroke="#222" stroke-width="0.3"><tspan font-size="6.4" dy="-6">13</tspan><tspan dy="6">CO</tspan></text>
<line x1="434.6" y1="399.9" x2="434.6" y2="477" stroke="#111" stroke-width="1.8" stroke-dasharray="3.2,3"/>
<line x1="460.3" y1="406.9" x2="460.3" y2="477" stroke="#111" stroke-width="1.8" stroke-dasharray="3.2,3"/>
<line x1="496.6" y1="475.7" x2="496.6" y2="415.9" stroke="#111" stroke-width="1.6"/>
<polygon points="496.6,410.9 493.7,420.1 499.5,420.1" fill="#111"/>
<text x="501.6" y="433.5" font-size="11.2" font-weight="bold" fill="#222" textLength="26.2" lengthAdjust="spacingAndGlyphs" transform="rotate(90 501.6 433.5)" stroke="#222" stroke-width="0.3">Time</text>
</svg>
</body></html>
